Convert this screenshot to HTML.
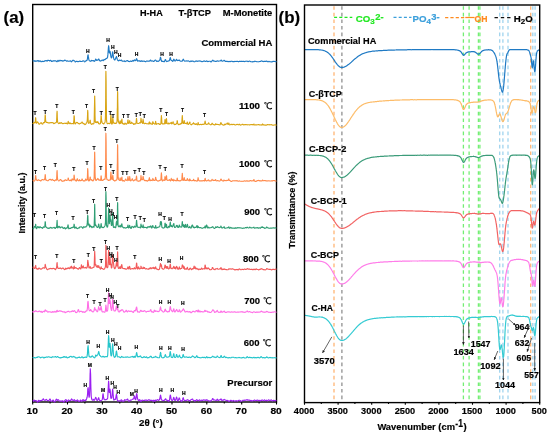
<!DOCTYPE html>
<html lang="en"><head><meta charset="utf-8"><title>XRD and FTIR of calcium phosphate powders</title>
<style>html,body{margin:0;padding:0;background:#fff}body{width:550px;height:437px;overflow:hidden}svg{display:block;font-family:'Liberation Sans', 'Noto Sans CJK SC', sans-serif}text{stroke:#000;stroke-width:.18px}</style></head><body>
<svg width="550" height="437" viewBox="0 0 550 437">
<rect width="550" height="437" fill="#fff"/>
<g id="panel-a">
<rect x="32.7" y="4.5" width="243.8" height="397.5" fill="none" stroke="#000" stroke-width="1.4"/>
<path d="M32.7,60.6 33,60.7 33.4,61 33.7,61 34.1,60.7 34.4,60.7 34.8,61.2 35.1,61.4 35.5,61.2 35.8,60.8 36.2,60.8 36.5,61.2 36.9,61.2 37.2,61.1 37.6,60.8 37.9,60.5 38.3,60.5 38.6,61 39,61.6 39.3,61.3 39.7,60.7 40,60.7 40.4,61.1 40.7,61.5 41.1,61.7 41.4,61.7 41.8,61.4 42.1,61.2 42.5,61.3 42.8,61.5 43.1,61.6 43.5,61.4 43.8,61.5 44.2,61.4 44.5,61.1 44.9,60.7 45.2,60.7 45.6,60.8 45.9,60.5 46.3,60.5 46.6,60.8 47,61.2 47.3,61 47.7,60.4 48,60.3 48.4,60.4 48.7,60.4 49.1,60.6 49.4,60.8 49.8,60.8 50.1,60.5 50.5,60.3 50.8,60.4 51.2,60.9 51.5,61.4 51.9,61.4 52.2,61.2 52.6,61 52.9,61.2 53.2,61.1 53.6,60.8 53.9,60.7 54.3,60.8 54.6,61 55,60.9 55.3,60.7 55.7,60.7 56,60.9 56.4,61.3 56.7,61.6 57.1,61.7 57.4,61.2 57.8,60.5 58.1,60.4 58.5,60.9 58.8,61.3 59.2,61.1 59.5,60.6 59.9,60.3 60.2,60.3 60.6,60.6 60.9,60.9 61.3,60.8 61.6,60.6 62,60.5 62.3,60.8 62.7,61.2 63,61 63.3,60.9 63.7,60.9 64,60.8 64.4,60.5 64.7,60.1 65.1,60.2 65.4,60.3 65.8,60.6 66.1,60.8 66.5,61.2 66.8,61.2 67.2,61 67.5,60.9 67.9,61 68.2,61.2 68.6,61.2 68.9,61.2 69.3,61.2 69.6,61.1 70,60.9 70.3,60.8 70.7,61.1 71,61.5 71.4,61.8 71.7,61.7 72.1,61.2 72.4,60.6 72.8,60.3 73.1,60.2 73.4,60.5 73.8,60.7 74.1,60.7 74.5,60.8 74.8,61.3 75.2,61.9 75.5,61.9 75.9,61.5 76.2,61.4 76.6,61.4 76.9,61.4 77.3,61.4 77.6,61.6 78,61.7 78.3,61.6 78.7,61.5 79,61.4 79.4,61.2 79.7,61 80.1,61.1 80.4,61.4 80.8,61.5 81.1,61.5 81.5,61.5 81.8,61.5 82.2,61.4 82.5,61.1 82.9,60.9 83.2,61 83.5,61 83.9,60.9 84.2,61.3 84.6,61.8 84.9,61.7 85.3,61.4 85.6,61.1 86,60.8 86.3,60.6 86.7,60.6 87,60.3 87.4,58.9 87.6,57.6 87.7,56.3 87.8,55.6 88.1,54.8 88.3,56.2 88.4,56.8 88.6,58.1 88.8,59.3 89.1,60.4 89.5,60.7 89.8,60.9 90.2,61.1 90.5,61.3 90.9,61.2 91.2,60.7 91.6,60.4 91.9,60.5 92.3,60.7 92.6,60.7 93,60.5 93.3,60.5 93.7,60.7 94,61.3 94.3,61.3 94.7,61.2 95,60.6 95.4,59.8 95.7,59.1 96.1,59.5 96.4,60.3 96.8,60.5 97.1,60.1 97.5,60 97.7,59.9 97.8,60.1 98.2,59.9 98.4,59.4 98.5,59.2 98.7,59 98.9,59.2 99,59.4 99.2,59.9 99.6,60.5 99.7,60.6 99.9,60.9 100.3,61.1 100.6,61 101,60.7 101.3,60.7 101.7,60.5 102,60.1 102.4,60 102.7,60.3 103.1,60.7 103.4,60.5 103.8,59.8 104.1,59.4 104.4,59.6 104.8,59.8 105.1,59.6 105.5,59 105.8,58.7 106.2,58.6 106.5,58.5 106.9,58.3 107.2,57.9 107.6,57.1 107.9,54.4 108.1,51.9 108.3,49.2 108.4,47.8 108.6,45.7 108.9,47.6 109,48.8 109.1,51.2 109.3,52.6 109.5,53 109.7,52.3 109.8,51.9 110,51.2 110.3,52.4 110.4,53.1 110.5,54.5 110.7,55.7 111.1,57.3 111.4,57.9 111.6,57.7 111.8,57.4 112.1,55.3 112.4,53.1 112.5,52.5 112.6,51.8 112.8,52.4 112.9,53 113.2,55.2 113.5,57.6 113.7,58.1 113.9,58.9 114.2,59.5 114.5,59.9 114.9,59.9 115.2,59.4 115.4,58.8 115.6,58.6 115.9,57.7 116.2,57 116.3,56.7 116.5,56.5 116.6,56.9 116.7,57.2 117,58.3 117.3,59.4 117.5,59.9 117.7,60.1 118,60.6 118.4,60.9 118.7,60.8 119.1,60.5 119.4,60.1 119.8,60.1 120.1,60.4 120.5,60.6 120.8,60.4 121.2,60.1 121.5,60 121.9,60.6 122.2,61.1 122.6,61.2 122.9,61.2 123.3,61.2 123.6,61.2 124,61 124.3,60.9 124.6,61.3 125,61.6 125.3,61.5 125.7,61.3 126,61.1 126.4,61 126.7,60.8 127.1,60.5 127.4,60.6 127.8,60.8 128.1,61.3 128.5,61.5 128.8,61.4 129.2,61.4 129.5,61.6 129.9,61.5 130.2,61.3 130.6,61 130.9,61 131.3,61.2 131.6,61.4 132,61.4 132.3,61 132.7,60.5 133,60.4 133.4,60.9 133.7,61.1 134.1,60.5 134.4,59.9 134.7,60 135.1,60.4 135.4,60.7 135.6,60.6 135.8,60.5 136.1,59.8 136.4,59 136.5,58.8 136.7,58.6 136.8,59 136.9,59.2 137.2,60.3 137.5,61 137.7,61.2 137.9,60.9 138.2,60.8 138.6,60.8 138.9,60.8 139.3,60.7 139.6,60.9 140,61.3 140.3,61.5 140.7,61.3 141,61 141.4,60.8 141.7,61 142.1,61.3 142.4,61.3 142.8,61.1 143.1,61 143.5,61.2 143.8,61.2 144.2,61.1 144.5,61.2 144.8,61.4 145.2,61.6 145.5,61.7 145.9,61.6 146.2,61.3 146.6,61.1 146.9,60.9 147.3,61 147.6,61.2 148,61.2 148.3,61.2 148.7,61.1 149,61.2 149.4,61.1 149.7,60.9 150.1,60.5 150.4,60.1 150.8,60.3 151.1,60.9 151.5,61.1 151.8,61 152.2,60.9 152.5,61 152.9,61.1 153.2,61.2 153.6,61.4 153.9,61.4 154.3,61.1 154.6,60.6 154.9,60.3 155.3,60.1 155.6,60 156,60.5 156.3,61 156.7,61.4 157,61.5 157.4,61.2 157.7,61.1 158.1,61.3 158.4,61.4 158.8,61.1 159.1,60.7 159.5,60.4 159.8,59.7 160,59 160.2,58.2 160.3,57.8 160.5,57.2 160.8,58.1 160.9,58.5 161,59.3 161.2,60.3 161.6,61.2 161.9,61.5 162.3,61.4 162.6,61.2 163,61.3 163.3,61.5 163.7,61.6 164,61.7 164.4,61.6 164.7,61.1 164.9,60.5 165,60.1 165.1,59.9 165.4,59.5 165.7,59.8 165.7,60 165.9,60.4 166.1,60.8 166.4,61.3 166.8,61.6 167.1,61.5 167.5,61.3 167.8,61.1 168.2,61.1 168.5,60.9 168.9,60.9 169.2,60.8 169.6,60.1 169.8,59.5 169.9,58.6 170,58.2 170.3,57.6 170.5,58.2 170.6,58.6 170.8,59.5 171,60 171.3,60.4 171.7,60.6 172,60.8 172.4,61.1 172.7,61.4 173.1,61 173.2,60.5 173.4,60 173.5,59.8 173.8,59.2 174,59.4 174.1,59.6 174.3,60.1 174.5,60.4 174.8,60.8 175.1,60.8 175.5,60.8 175.8,60.5 176,60.2 176.2,59.8 176.3,59.6 176.5,59.3 176.8,59.6 176.9,59.8 177.1,60.2 177.2,60.4 177.6,60.6 177.9,60.5 178.3,60.4 178.6,60.4 178.8,60.5 179,60.1 179.1,60 179.3,60 179.6,60.3 179.7,60.4 179.9,60.8 180,60.9 180.4,61.1 180.7,61.2 181.1,61.2 181.4,61.2 181.8,61.1 182.1,61.2 182.5,60.8 182.6,60.4 182.8,59.9 182.9,59.7 183.2,59.2 183.4,59.3 183.5,59.6 183.7,59.9 183.9,60.3 184.2,60.8 184.6,61.1 184.9,61 185.2,61 185.6,61 185.9,61.1 186.3,61 186.6,60.9 187,61 187.3,61.1 187.7,60.9 188,60.9 188.4,60.9 188.7,61.1 189.1,61.3 189.4,61.5 189.8,61.7 190.1,61.6 190.5,61.2 190.8,61 191.2,61.1 191.5,61.3 191.9,61.3 192.2,61.1 192.6,61 192.9,61.1 193.3,61.3 193.6,61.5 194,61.7 194.3,61.8 194.7,61.7 195,61.5 195.3,61.2 195.7,61.1 196,61.2 196.4,61.1 196.7,60.9 197.1,61 197.4,61.3 197.8,61.4 198.1,61.3 198.5,61.1 198.8,60.9 199.2,60.9 199.5,61 199.9,61.1 200.2,61.1 200.6,61 200.9,61.1 201.3,61.4 201.6,61.6 202,61.6 202.3,61.6 202.7,61.5 203,61.4 203.4,61.2 203.7,61 204.1,60.9 204.4,61 204.8,61.2 205.1,61.4 205.4,61.5 205.8,61.4 206.1,61.3 206.5,61 206.8,60.9 207.2,61.2 207.5,61.5 207.9,61.6 208.2,61.5 208.6,61.5 208.9,61.3 209.3,61.2 209.6,61.2 210,61.3 210.3,61.4 210.7,61.7 211,61.9 211.4,61.8 211.7,61.4 212.1,60.9 212.4,60.4 212.8,60.1 213.1,60.4 213.5,60.8 213.8,61.1 214.2,61.2 214.5,61.1 214.9,61.1 215.2,61.3 215.6,61.5 215.9,61.5 216.2,61.4 216.6,61.3 216.9,61.1 217.3,60.8 217.6,61 218,61.1 218.3,61.2 218.7,61.1 219,61 219.4,61 219.7,61 220.1,61 220.4,60.8 220.8,60.4 221.1,60 221.5,60.4 221.8,61 222.2,61.2 222.5,61.2 222.9,61 223.2,60.9 223.6,60.7 223.9,60.4 224.3,60.3 224.6,60.7 225,61.2 225.3,61.5 225.7,61.4 226,61.2 226.3,61.3 226.7,61.4 227,61.4 227.4,61.4 227.7,61.5 228.1,61.7 228.4,61.6 228.8,61.5 229.1,61.4 229.5,61.5 229.8,61.6 230.2,61.6 230.5,61.5 230.9,61.3 231.2,61.2 231.6,61.3 231.9,61.4 232.3,61.4 232.6,61.6 233,61.6 233.3,61.5 233.7,61.6 234,61.6 234.4,61.6 234.7,61.4 235.1,61.4 235.4,61.5 235.8,61.5 236.1,61.5 236.4,61.5 236.8,61.3 237.1,61.3 237.5,61.4 237.8,61.5 238.2,61.6 238.5,61.6 238.9,61.6 239.2,61.4 239.6,61.3 239.9,61.4 240.3,61.5 240.6,61.4 241,61.2 241.3,61.3 241.7,61.4 242,61.4 242.4,61.4 242.7,61.5 243.1,61.5 243.4,61.4 243.8,61.3 244.1,61.4 244.5,61.6 244.8,61.6 245.2,61.4 245.5,61.3 245.9,61.2 246.2,61.2 246.5,61.2 246.9,61.1 247.2,61.1 247.6,61.4 247.9,61.6 248.3,61.6 248.6,61.4 249,61.3 249.3,61.2 249.7,61 250,61.2 250.4,61.4 250.7,61.7 251.1,61.7 251.4,61.7 251.8,61.8 252.1,61.9 252.5,61.9 252.8,61.6 253.2,61.5 253.5,61.6 253.9,61.7 254.2,61.6 254.6,61.3 254.9,61.2 255.3,61.3 255.6,61.4 256,61.5 256.3,61.5 256.6,61.6 257,61.7 257.3,61.7 257.7,61.7 258,61.7 258.4,61.8 258.7,61.7 259.1,61.6 259.4,61.5 259.8,61.5 260.1,61.5 260.5,61.4 260.8,61.2 261.2,60.9 261.5,60.9 261.9,61.1 262.2,61.3 262.6,61.4 262.9,61.4 263.3,61.4 263.6,61.6 264,61.5 264.3,61.4 264.7,61.3 265,61.3 265.4,61.4 265.7,61.4 266.1,61.4 266.4,61.3 266.7,61.1 267.1,61.3 267.4,61.6 267.8,61.7 268.1,61.8 268.5,61.7 268.8,61.4 269.2,61.4 269.5,61.6 269.9,61.8 270.2,61.8 270.6,61.7 270.9,61.8 271.3,61.9 271.6,62 272,61.9 272.3,61.7 272.7,61.5 273,61.4 273.4,61.3 273.7,61.4 274.1,61.5 274.4,61.5 274.8,61.4 275.1,61.4 275.5,61.6 275.8,61.7 276.2,61.6 276.5,61.5" fill="none" stroke="#1f7ac4" stroke-width="1.15" stroke-linejoin="round"/>
<path d="M32.7,123 33,123.5 33.4,123.2 33.7,122.5 34.1,122.5 34.4,122.8 34.8,122.9 35.1,122.3 35.4,120.4 35.5,119.2 35.5,118.7 35.7,117.7 35.8,119 35.8,119.5 35.9,120.7 36.2,123 36.5,123.2 36.9,122.6 37.2,122.1 37.6,121.9 37.9,122.3 38.3,123 38.6,123.6 39,124.1 39.3,124.2 39.7,124 40,123.6 40.4,123.2 40.7,122.9 41.1,122.7 41.4,122.9 41.8,123.6 42.1,124 42.5,124.1 42.8,123.9 43.1,123.3 43.5,122.6 43.8,122.5 44.2,122.7 44.5,122.5 44.7,122 44.9,120.1 45,118.8 45.1,116.1 45.2,114.8 45.4,116 45.5,118.5 45.6,119.9 45.8,121.4 45.9,121.8 46.3,122.3 46.6,122.5 47,122.4 47.3,122.4 47.7,122.6 48,122.9 48.4,122.9 48.7,122.8 49.1,123.1 49.4,122.9 49.8,122.7 50.1,122.6 50.5,122.7 50.8,122.8 51.2,122.6 51.5,122.5 51.9,122.6 52.2,122.7 52.6,122.6 52.9,122.5 53.2,122.9 53.6,123.5 53.9,123.6 54.3,123.5 54.6,123.2 55,123.1 55.3,122.9 55.7,122.8 56,122.7 56.4,122.1 56.6,121.4 56.7,119 56.8,116.9 56.9,113.3 57.1,111.2 57.2,113.3 57.3,117.3 57.4,119.4 57.6,121.8 57.8,122.5 58.1,122.9 58.5,123.3 58.8,123.6 59.2,123.4 59.5,122.8 59.9,122.9 60.2,123.2 60.6,123.2 60.9,122.7 61.3,122.6 61.6,122.9 62,123.3 62.3,123.5 62.7,123.6 63,123.7 63.3,123.5 63.7,123.5 64,123.4 64.4,123.3 64.7,123.2 65.1,123.3 65.4,123.5 65.8,123.4 66.1,123 66.5,123.2 66.8,123.6 67.2,123.9 67.5,123.8 67.7,123.7 67.9,123.1 68,122.7 68.1,121.8 68.2,121.4 68.4,121.8 68.5,122.4 68.6,122.8 68.7,123.2 68.9,123.3 69.3,123.5 69.6,123.6 70,122.7 70.3,123.5 70.7,123.6 71,123.7 71.4,123.7 71.7,123.6 72.1,123.5 72.4,123.5 72.8,123.6 73.1,123.8 73.4,123.6 73.5,123.6 73.6,122.5 73.8,120.9 73.9,120.1 73.9,119.6 74,117.1 74,116.6 74.1,115.7 74.2,116.2 74.3,116.7 74.4,119.1 74.4,119.5 74.5,120.5 74.6,121.9 74.7,122.2 74.8,123.4 75,123.7 75.2,124 75.5,123.7 75.9,123.2 76.2,122.7 76.6,122.5 76.9,122.4 77.3,122.5 77.6,122.7 78,123.2 78.3,123.5 78.7,123.6 79,123.7 79.4,123.9 79.7,123.7 80.1,123.4 80.4,123.3 80.8,123.4 81.1,123.1 81.5,122.6 81.8,122.2 82.2,122 82.5,122.9 82.9,123.2 83.2,123.6 83.5,123.4 83.9,123.6 84.2,124 84.6,124.3 84.9,124.6 85.3,124.5 85.6,124.2 86,123.8 86.3,123.1 86.7,122.5 87,121.7 87.2,121 87.4,118.5 87.5,116.2 87.6,112.7 87.7,110.4 87.9,112.7 88,117.3 88.1,119.6 88.3,122.2 88.4,123.2 88.8,123.3 89.1,123 89.5,122.7 89.6,122.6 89.8,122 89.9,121.4 90,120.7 90.2,120.2 90.3,120.7 90.4,122 90.5,122.6 90.7,123.3 90.9,123.7 91.2,124 91.6,124.3 91.9,124.3 92.3,123.9 92.6,123.6 93,123.7 93.3,123.8 93.7,123.8 94,123 94.2,121.3 94.3,115.3 94.4,110.2 94.6,100.9 94.7,96 94.8,100.9 95,109.8 95,114.9 95.2,120.6 95.4,122.2 95.7,122.5 96.1,122.2 96.4,122.6 96.8,122 97.1,121.5 97.5,122.5 97.8,122.2 98.2,122 98.5,123.6 98.9,123.8 99.2,123.8 99.6,123.9 99.9,123.9 100.3,123.5 100.6,122.5 100.9,119.3 101,117.7 101,116.9 101.1,115.5 101.3,116.3 101.3,116.9 101.4,118.3 101.7,121.2 102,122.5 102.4,123 102.7,123.3 103.1,123.6 103.4,123.8 103.8,123.8 104.1,123.5 104.4,123 104.8,122.5 105.1,121.9 105.4,118.2 105.5,115.2 105.7,97.6 105.8,80.7 105.8,77.5 105.9,71.3 106.1,80.6 106.2,95.3 106.2,97.5 106.5,118.1 106.5,119.9 106.9,122.7 107.2,123.4 107.6,123.7 107.9,123.6 108.3,123.4 108.6,123.3 109,123.5 109.3,123.6 109.7,123.5 110,123.5 110.4,122.5 110.6,119 110.7,117 110.8,116 110.9,114.7 111,116.2 111.1,117.2 111.2,119.1 111.4,123 111.8,124.1 112.1,123.9 112.3,123.6 112.5,122 112.5,121.1 112.7,118.8 112.8,117.8 112.9,118.8 113.1,120.1 113.2,121.1 113.3,122.1 113.5,122.7 113.9,123 114.2,123.4 114.5,123.2 114.9,123 115.2,123.3 115.6,123.5 115.9,123.4 116.3,123.2 116.6,122.9 117,121.7 117.1,120.2 117.3,109.1 117.4,107.8 117.5,97.4 117.6,91.6 117.7,93.3 117.7,97.2 117.9,107.1 118,116.3 118.1,119.4 118.4,121.5 118.7,122.4 119.1,123.1 119.4,123.6 119.6,123.6 119.8,123 119.9,122.4 120,121.3 120.1,120.8 120.3,121.3 120.4,122.2 120.5,122.8 120.6,123.4 120.8,123.3 121.2,122.9 121.3,122.5 121.5,121.7 121.6,120.9 121.7,119.9 121.9,119.1 122,119.9 122.1,121.7 122.2,122.5 122.4,123.3 122.6,123.6 122.9,123.6 123.3,123.6 123.6,124 124,124.5 124.3,124.3 124.6,123.7 125,123.1 125.3,123.2 125.7,123.8 126,124.2 126.4,124.2 126.7,123.8 127.1,123.5 127.4,123.1 127.7,121.8 127.8,120.8 127.8,120.4 128,119.9 128.1,120.6 128.1,121 128.2,122 128.5,123.4 128.8,123.2 129.2,122.9 129.4,122.1 129.5,121.4 129.6,121.1 129.7,120.5 129.8,121.3 129.9,121.6 130,122.3 130.2,123.5 130.6,123.5 130.9,123.5 131.3,123.1 131.6,122.2 132,122.8 132.3,123.2 132.7,123.1 133,123.4 133.4,123.9 133.7,124.3 134.1,124.3 134.4,124 134.7,123.7 135.1,123.7 135.4,123.8 135.8,123.8 136,123.4 136.1,122.2 136.2,121.2 136.4,119.3 136.5,118.3 136.6,119.2 136.8,120.7 136.8,121.6 137,122.7 137.2,123 137.5,123.2 137.9,123.4 138.2,123.5 138.6,123.5 138.9,123.4 139.3,123.1 139.6,122.8 140,122.5 140.3,123 140.5,122.9 140.7,122 140.8,121.1 140.9,119.1 141,118.2 141.1,119.1 141.3,120.4 141.4,121.3 141.5,122.1 141.7,122.1 142.1,122.1 142.4,123.1 142.6,123.3 142.8,122.3 142.8,121.5 143,119.8 143.1,119.1 143.2,119.9 143.4,121.1 143.5,121.9 143.6,122.8 143.8,123.3 144.2,123.7 144.5,123.7 144.8,123.5 145.2,123.3 145.5,123.3 145.9,123.4 146.2,123.6 146.6,123.7 146.9,123.7 147.3,123.7 147.6,123.8 148,123.9 148.3,123.8 148.7,123.9 148.9,123.8 149,123.4 149.1,123 149.2,122.3 149.4,121.9 149.5,122.3 149.6,123.1 149.7,123.4 149.9,123.9 150.1,123.9 150.4,123.4 150.8,123 151.1,123.6 151.5,123.9 151.8,124.2 152.2,124.4 152.3,124.1 152.5,123.7 152.6,123.3 152.7,122.1 152.9,121.7 153,122.1 153.1,122.4 153.2,122.8 153.4,123.3 153.6,123.4 153.9,123.6 154.3,123.8 154.6,124 154.9,124.1 155.1,123.9 155.3,123.4 155.4,122.8 155.5,122 155.6,121.4 155.8,122 155.9,123 156,123.6 156.2,124.2 156.3,124.3 156.7,124 157,123.8 157.4,123.7 157.7,123.7 158.1,123.7 158.4,123.6 158.8,123.6 159.1,124 159.5,124.4 159.8,124.4 160.2,124.2 160.5,124.2 160.9,123.6 161.1,120 161.2,118.2 161.3,117.3 161.4,115.5 161.5,117 161.6,117.8 161.7,119.7 161.9,122.8 162.3,123.7 162.6,124 163,123.9 163.3,123.8 163.7,123.8 164,123.8 164.4,123.8 164.5,123.5 164.7,122.5 164.8,121.7 164.9,120.4 165,119.6 165.2,120.4 165.3,121.7 165.4,122.5 165.6,123.3 165.7,123.6 165.9,123.4 166.1,122.3 166.2,121.4 166.3,119.5 166.4,118.6 166.6,119.5 166.7,121.1 166.8,122.1 167,123.2 167.1,123.5 167.5,123.7 167.8,123.8 168.2,123.2 168.5,123.1 168.9,124 169.2,123.9 169.6,123.6 169.9,123.3 170.3,123 170.6,123.1 170.8,123.2 171,123.4 171.1,123.1 171.2,122.6 171.3,122.3 171.4,122.6 171.6,123.3 171.7,123.7 171.8,123.9 172,123.7 172.4,123 172.5,123.3 172.7,123.1 172.8,122.8 172.9,122.2 173.1,121.8 173.2,122.1 173.3,122.8 173.4,123 173.6,123 173.8,123.3 174.1,124.3 174.5,124.5 174.8,124.6 175.1,124.5 175.5,124.5 175.8,124.3 176.2,123.8 176.5,123.5 176.7,123.4 176.9,122.7 177,122.1 177.1,121.2 177.2,120.7 177.4,121.2 177.5,122.3 177.6,122.9 177.8,123.5 177.9,123.9 178.3,124.4 178.6,124.7 179,124.6 179.3,124.4 179.7,124.3 180,124.1 180.4,124.1 180.7,123.6 181.1,123.3 181.4,123.7 181.8,123 182,119.8 182.1,118 182.2,117 182.3,115.6 182.4,117.1 182.5,117.9 182.5,119.8 182.8,122.8 183.2,123.4 183.5,123.5 183.7,123.4 183.9,122.7 183.9,122.2 184.1,121.1 184.2,120.5 184.3,121.1 184.5,122 184.6,122.6 184.7,123.2 184.9,123.4 185.2,123.5 185.6,123.5 185.9,123.4 186.3,123.6 186.6,123.8 186.8,123.7 187,123.4 187.1,123 187.2,122.4 187.3,122 187.5,122.4 187.6,123.1 187.7,123.5 187.9,124 188,124.3 188.4,124.3 188.7,123.9 189.1,123.6 189.3,123.6 189.4,123.3 189.5,123 189.6,122.4 189.8,122 189.9,122.4 190,123 190.1,123.4 190.3,123.8 190.5,124.1 190.8,124.4 191.2,124.7 191.5,124.8 191.9,124.5 192.2,124 192.6,123.7 192.9,123.7 193.1,123.6 193.3,123.5 193.3,123.2 193.5,123 193.6,122.7 193.7,123 193.9,123.5 194,123.8 194.1,124 194.3,123.9 194.7,123.8 195,124.2 195.3,124.4 195.7,124.4 196,123.8 196.4,123.7 196.7,124.2 197.1,124.7 197.4,124.8 197.6,124.6 197.8,124.1 197.9,123.7 198,123 198.1,122.6 198.3,123 198.4,123.6 198.5,124 198.7,124.4 198.8,124.6 199.2,124.7 199.5,124.6 199.9,124.5 200.2,124.5 200.6,124.4 200.9,124.4 201.3,124.6 201.6,124.6 202,124.5 202.3,124.2 202.7,124.2 203,124.4 203.4,124.4 203.7,124.3 204.1,124.1 204.4,124 204.6,123.9 204.8,123.2 204.8,122.7 205,121.6 205.1,121 205.2,121.6 205.4,122.6 205.4,123.2 205.6,123.8 205.8,124 206.1,124.2 206.5,124.4 206.8,124.3 207.2,124.2 207.5,124.1 207.9,124.1 208.2,123.8 208.6,122.9 208.9,123.4 209.3,123.8 209.6,124.1 210,124.4 210.3,124.6 210.7,124.8 211,124.8 211.4,124.6 211.7,124 212.1,123.2 212.4,123.7 212.8,124 213.1,124.4 213.5,124.6 213.8,124.6 214.2,124.7 214.5,124.9 214.9,125 215.2,124.6 215.6,123.8 215.9,124.5 216.2,124.5 216.6,124.3 216.9,124.4 217.3,124.4 217.6,124.5 218,124.5 218.3,124.5 218.7,124.6 219,124.7 219.4,124.8 219.7,124.9 220.1,124.7 220.4,124.1 220.8,122.6 221.1,122.7 221.5,124 221.8,124.3 222.2,124.4 222.5,124.7 222.9,124.9 223.2,125 223.6,125.1 223.9,125.1 224.3,124.9 224.6,124.2 225,124.7 225.3,124.5 225.7,124.2 226,124 226.3,124 226.6,124 226.7,124 227,123.6 227,123.4 227.2,123 227.4,123 227.4,123 227.5,123.3 227.7,123.9 227.7,124 228.1,124.4 228.3,124.2 228.4,124 228.5,123.7 228.7,123.3 228.8,123 228.9,123.3 229,124 229.1,124.3 229.3,124.6 229.5,124.8 229.8,124.7 230.2,124.7 230.5,124.6 230.9,124.4 231.2,124.3 231.6,124.3 231.9,124.6 232.3,124.6 232.6,124.5 233,124.3 233.3,124.4 233.7,124.5 234,124.4 234.4,124.5 234.7,124.7 235.1,124.9 235.4,125 235.8,124.9 236.1,124.8 236.4,124.6 236.8,124.4 237.1,124.4 237.5,124.4 237.8,124.6 238.2,124.8 238.5,124.7 238.9,124.4 239.2,124.2 239.6,124.5 239.9,124.8 240.3,125.1 240.6,125.1 241,124.9 241.3,124.8 241.7,124.7 242,124.5 242.4,124.2 242.7,124.2 243.1,124.4 243.4,124.8 243.8,124.9 244.1,124.7 244.5,124.6 244.8,124.5 245.2,124.6 245.5,124.6 245.9,124.6 246.2,124.7 246.5,124.7 246.9,124.6 247.2,124.7 247.6,124.8 247.9,124.8 248.3,124.7 248.6,124.7 249,124.8 249.3,124.8 249.7,124.9 250,124.8 250.4,124.7 250.7,124.6 251.1,124.6 251.4,124.6 251.8,124.5 252.1,124.5 252.5,124.6 252.8,124.8 253.2,124.8 253.5,124.6 253.9,124 254.2,124.7 254.6,125 254.9,125 255.3,124.9 255.6,124.9 256,124.9 256.3,125 256.6,124.9 257,124.7 257.3,124.7 257.7,124.8 258,124.7 258.4,124.5 258.7,124.6 259.1,124.8 259.4,124.9 259.8,124.9 260.1,124.9 260.5,125 260.8,125 261.2,124.9 261.5,125 261.9,125.1 262.2,124.7 262.6,123.9 262.9,124.5 263.3,124.9 263.6,124.8 264,124.8 264.3,124.9 264.7,125 265,125.2 265.4,125.1 265.7,125.1 266.1,125 266.4,125.1 266.7,125 267.1,124.7 267.4,124.6 267.8,124.7 268.1,124.6 268.5,124.7 268.8,124.8 269.2,124.9 269.5,124.8 269.9,124.6 270.2,124.7 270.6,124.8 270.9,124.7 271.3,124.6 271.6,124.7 272,124.9 272.3,125 272.7,125.2 273,125.2 273.4,125.2 273.7,125.1 274.1,125 274.4,125 274.8,124.9 275.1,124.8 275.5,124.8 275.8,124.9 276.2,125.1 276.5,125.2" fill="none" stroke="#d9a514" stroke-width="1.15" stroke-linejoin="round"/>
<path d="M32.7,180.6 33,180.4 33.4,180.5 33.7,181 34.1,181.2 34.4,180.9 34.8,180.6 35.1,180 35.4,178 35.5,176.9 35.5,176.4 35.7,175.6 35.8,175.9 35.8,176.5 35.9,177.5 36.2,179.3 36.5,179.9 36.9,180.3 37.2,180.6 37.6,180.4 37.9,180.1 38.3,179.8 38.6,179.9 39,180.2 39.3,180.5 39.7,180.5 40,180.4 40.4,180.7 40.7,180.9 41.1,180.7 41.4,180.2 41.8,179.8 42.1,179.7 42.5,179.5 42.8,179.6 43.1,179.8 43.5,180 43.8,180 44.2,179.6 44.5,179.5 44.7,179.1 44.9,178.3 45,177.1 45.1,175.7 45.2,174.6 45.4,175.7 45.5,177.8 45.6,179 45.8,179.8 45.9,180.2 46.3,180 46.6,180.2 47,180.5 47.3,180.6 47.7,180.7 48,180.7 48.4,180.5 48.7,180.1 49.1,179.8 49.4,179.6 49.8,179.4 50.1,179.3 50.5,179.3 50.8,179.8 51.2,180.2 51.5,180.1 51.9,179.6 52.2,179.3 52.6,179.6 52.9,180.1 53.2,180.3 53.6,180.3 53.9,180.3 54.3,180.7 54.6,180.9 55,180.4 55.3,180 55.7,179.9 56,180.2 56.4,180.2 56.6,179.7 56.7,177.6 56.8,175.6 56.9,172.3 57.1,170.5 57.2,172.3 57.3,175.2 57.4,177.1 57.6,179.3 57.8,179.7 58.1,180.2 58.5,180.8 58.8,180.9 59.2,180.7 59.5,180.4 59.9,179.9 60.2,179.7 60.6,179.5 60.9,179.8 61.3,180.4 61.6,180.8 62,181.1 62.3,181.2 62.7,181.3 63,181.1 63.3,180.8 63.7,181 64,181.1 64.4,180.8 64.7,180.3 65.1,179.8 65.4,179.8 65.8,180 66.1,180.4 66.5,180.5 66.8,180.3 67.2,180.2 67.5,180.1 67.7,180 67.9,179.5 68,179.1 68.1,178.3 68.2,178 68.4,178.3 68.5,179.1 68.6,179.4 68.7,180 68.9,180.1 69.3,180.4 69.6,180.6 70,180.6 70.3,180.3 70.7,180 71,180.4 71.4,180.8 71.7,180.2 72.1,178.9 72.4,179.1 72.8,179.8 73.1,180.1 73.4,179.6 73.6,179.6 73.8,178.8 73.9,177.8 74,175.9 74.1,175 74.3,176 74.4,177.6 74.5,178.6 74.7,179.7 74.8,180.1 75.2,180.1 75.5,180.3 75.9,180.8 76.2,181.1 76.6,180.6 76.9,179.6 77.3,178.7 77.6,179.9 78,180.5 78.3,180.6 78.7,180.8 79,180.7 79.4,179.7 79.7,180 80.1,180.6 80.4,180.6 80.8,180.6 81.1,180.6 81.3,180.5 81.5,180.4 81.7,179.7 81.8,179.5 81.9,179.2 82.1,179 82.2,179 82.3,179.3 82.5,179.9 82.5,180 82.9,180.5 82.9,180.5 83.2,180.7 83.5,180.9 83.9,180.9 84.2,180.7 84.6,180.8 84.9,180.9 85.3,180.3 85.6,179 86,179.5 86.3,180 86.7,180.3 87,180.2 87.2,179.5 87.4,176.9 87.5,174.8 87.6,170.7 87.7,168.6 87.9,170.7 88,174.5 88.1,176.6 88.3,179 88.4,180.2 88.8,180.9 89.1,180.9 89.5,180.6 89.6,179.9 89.8,179.3 89.9,178.8 90,177.6 90.2,177 90.3,177.3 90.4,178.4 90.5,178.8 90.7,179.1 90.9,179.6 91.2,180.2 91.6,179.9 91.9,179.9 92.3,180.3 92.6,180.8 93,180.8 93.3,180.4 93.7,180 93.8,179.8 94,179 94.1,177.9 94.2,176.6 94.2,175.1 94.3,170.5 94.4,169 94.4,165.4 94.5,160.1 94.6,156.6 94.6,152.5 94.7,152 94.8,157.3 94.9,164.1 95,166.3 95,171.6 95.2,177.4 95.4,179 95.7,180.1 96.1,180.5 96.4,180.3 96.8,179.6 97.1,179.3 97.5,179 97.8,178.4 98.2,179.1 98.5,179.8 98.9,180.1 99.2,180 99.6,179.9 99.9,180.2 100.3,180.5 100.6,180.1 100.9,178.1 101,177 101,176.5 101.1,175.8 101.3,176.8 101.3,177.4 101.4,178.6 101.7,180.4 102,180.5 102.4,180.4 102.7,180.4 103.1,180.2 103.4,179.8 103.8,179.4 104.1,179.2 104.4,179.1 104.8,179.3 105.1,179 105.4,175.6 105.5,172.8 105.7,157.1 105.8,141.7 105.8,138.8 105.9,133.2 106.1,141.6 106.2,155 106.2,157 106.5,175.4 106.5,177.1 106.9,179.3 107.2,179.7 107.6,179.8 107.9,179.9 108.3,180.3 108.6,180.5 109,180.3 109.3,180.1 109.7,180 110,180.2 110.4,179.8 110.6,176.5 110.7,174.7 110.8,173.8 110.9,172.1 111,173.3 111.1,174 111.2,175.6 111.4,178.1 111.8,179.2 112.1,179.4 112.3,179.2 112.5,178 112.5,177.1 112.7,176 112.8,175.2 112.9,176 113.1,178 113.2,178.9 113.3,179.9 113.5,180.3 113.9,180.4 114.2,180.5 114.5,180.9 114.9,181 115.2,180.7 115.6,180.5 115.9,180.2 116.3,180.1 116.6,180.1 117,179.1 117.1,177.4 117.3,164.8 117.4,163.2 117.5,151 117.6,144.7 117.7,146.8 117.7,151.3 117.9,162.9 118,173.6 118.1,177.2 118.4,179.1 118.7,179.5 119.1,180 119.4,180.4 119.6,180.4 119.8,179.9 119.9,179.4 120,178.4 120.1,177.9 120.3,178.4 120.4,179.3 120.5,179.8 120.6,180.4 120.8,180.3 121.2,180.2 121.3,180.2 121.5,179.4 121.6,178.7 121.7,177.8 121.9,177.1 122,177.8 122.1,179.2 122.2,179.9 122.4,180.7 122.6,180.9 122.9,180.7 123.3,180.5 123.6,180.6 124,181 124.3,181.2 124.6,181 125,180.5 125.3,179.8 125.7,179 126,179.6 126.4,180.1 126.7,180.4 127.1,180.6 127.4,180.2 127.7,178.6 127.8,177.7 127.8,177.3 128,176.6 128.1,177.2 128.1,177.6 128.2,178.5 128.5,180 128.8,180.4 129.2,180.3 129.4,178.8 129.5,177.9 129.6,177.4 129.7,176.5 129.8,177.2 129.9,177.6 130,178.6 130.2,180.4 130.6,180.8 130.9,180.7 131.3,180.1 131.6,180 132,179.8 132.3,178.7 132.7,179.8 133,180.4 133.4,180.8 133.7,180.9 134.1,180.6 134.4,180.2 134.7,179.9 135.1,179.9 135.4,179.9 135.8,179.9 136,179.6 136.1,179 136.2,178.1 136.4,176.8 136.5,176 136.6,176.8 136.8,178.6 136.8,179.5 137,180.7 137.2,181 137.5,181 137.9,181 138.2,181 138.6,181.3 138.9,181.2 139.3,180.9 139.6,180.8 140,180.8 140.3,180.8 140.5,180.2 140.7,179.2 140.8,178.3 140.9,176.5 141,175.6 141.1,176.5 141.3,177.8 141.4,178.7 141.5,179.7 141.7,179.6 142.1,179.7 142.4,179.7 142.6,179.5 142.8,179 142.8,178.3 143,177.2 143.1,176.4 143.2,176.8 143.4,177.8 143.5,178.3 143.6,179.1 143.8,179.5 144.2,180.2 144.5,180.6 144.8,180.4 145.2,180.4 145.5,180.6 145.9,180.9 146.2,180.7 146.6,180.5 146.9,180.7 147.3,181 147.6,181.1 148,180.7 148.3,180.4 148.7,180.4 148.9,180.4 149,179.8 149.1,179.2 149.2,178.4 149.4,177.7 149.5,178 149.6,178.9 149.7,179.5 149.9,180.3 150.1,180.7 150.4,180.6 150.8,180.1 151.1,180.3 151.5,180.2 151.8,180.4 152.2,180.6 152.3,180.3 152.5,179.9 152.6,179.6 152.7,178.8 152.9,178.4 153,178.8 153.1,179.3 153.2,179.6 153.4,180 153.6,180.3 153.9,180.5 154.3,180.3 154.6,180.3 154.9,180.5 155.1,180.2 155.3,179.8 155.4,179.1 155.5,177.8 155.6,177.3 155.8,177.8 155.9,178.5 156,179.1 156.2,179.8 156.3,180 156.7,180.4 157,180.6 157.4,180.8 157.7,181 158.1,181.1 158.4,180.9 158.8,180.9 159.1,180.8 159.5,180.5 159.8,180.3 160.2,180.2 160.5,180.3 160.9,179.7 161.1,176.5 161.2,174.8 161.3,174 161.4,172.8 161.5,174.1 161.6,174.9 161.7,176.6 161.9,179.8 162.3,180.9 162.6,180.9 163,180.1 163.3,180.3 163.7,180.1 164,180 164.4,180.4 164.5,180.3 164.7,179.4 164.8,178.8 164.9,177.4 165,176.7 165.2,177.4 165.3,178.4 165.4,179.1 165.6,179.9 165.7,180 165.9,179.8 166.1,178.8 166.2,178 166.3,176.5 166.4,175.7 166.6,176.5 166.7,177.9 166.8,178.8 167,179.7 167.1,179.9 167.5,180.2 167.8,180.4 168.2,180.3 168.5,180.2 168.9,180.3 169.2,180.1 169.6,179.7 169.9,180.2 170.3,180.7 170.6,180.9 170.8,180.7 171,180.1 171.1,179.8 171.2,178.7 171.3,178.4 171.4,178.7 171.6,179 171.7,179.4 171.8,179.9 172,180 172.4,180.4 172.5,180.3 172.7,180.4 172.8,180 172.9,179.7 173.1,179.3 173.2,179.6 173.3,180.1 173.4,180.5 173.6,180.9 173.8,180.6 174.1,180.2 174.5,180.1 174.8,180.3 175.1,180.5 175.5,180.6 175.8,180.6 176.2,180.7 176.5,180.8 176.7,180.7 176.9,180.1 177,179.6 177.1,178.6 177.2,178.1 177.4,178.6 177.5,179.3 177.6,179.9 177.8,180.5 177.9,180.6 178.3,180.7 178.6,180.6 179,180.6 179.3,180.7 179.7,180.9 180,180.8 180.4,180.8 180.7,180.6 181.1,180.3 181.4,180.2 181.8,179.8 182,177.2 182.1,175.5 182.2,174.7 182.3,173.4 182.4,174.7 182.5,175.5 182.5,177.2 182.8,180.1 183.2,180.5 183.5,180.2 183.7,180 183.9,179.5 183.9,178.9 184.1,178 184.2,177.5 184.3,178 184.5,179.1 184.6,179.6 184.7,180.2 184.9,180.4 185.2,180.3 185.6,180.4 185.9,180.5 186.3,180.5 186.6,180.3 186.8,180.2 187,179.8 187.1,179.4 187.2,178.9 187.3,178.6 187.5,178.9 187.6,179.5 187.7,179.8 187.9,180.2 188,180.1 188.4,180.1 188.7,180.5 189.1,180.8 189.3,180.8 189.4,180.4 189.5,180 189.6,179.3 189.8,178.9 189.9,179.3 190,179.6 190.1,180 190.3,180.4 190.5,180.4 190.8,180.5 191.2,180.7 191.5,180.7 191.9,180.7 192.2,180.6 192.6,180.5 192.9,180.5 193.3,180.1 193.6,179.3 194,180.4 194.3,180.8 194.7,180.7 195,180.5 195.3,180.5 195.7,180.6 196,180.7 196.4,180.9 196.7,181.1 197.1,181.1 197.4,180.7 197.6,180.2 197.8,179.7 197.9,179.2 198,178.2 198.1,177.7 198.3,178 198.4,178.9 198.5,179.4 198.7,180.1 198.8,180.5 199.2,180.8 199.5,180.8 199.9,180.8 200.2,180.8 200.6,180.9 200.9,180.9 201.3,180.7 201.6,180.8 202,180.9 202.3,180.9 202.7,180.7 203,180.6 203.4,180.5 203.7,180.6 204.1,180.8 204.4,181 204.6,181 204.8,180.4 204.8,179.9 205,178.8 205.1,178.3 205.2,178.8 205.4,179.4 205.4,179.9 205.6,180.5 205.8,180.5 206.1,180.7 206.5,181 206.8,181 207.2,180.6 207.5,180.3 207.9,180.2 208.2,180.2 208.6,179.9 208.9,180.8 209.3,181 209.6,180.9 210,180.8 210.3,180.9 210.7,180.9 211,180.9 211.4,180.8 211.7,180.3 212.1,179.3 212.4,179.6 212.8,179.9 213.1,180.4 213.5,180.6 213.8,180.4 214.2,180.3 214.5,180.4 214.9,180.5 215.2,180.3 215.6,179.6 215.9,180.2 216.2,180.7 216.6,180.8 216.9,180.8 217.3,180.6 217.6,180.6 218,180.7 218.3,180.8 218.7,180.9 219,181 219.4,181.1 219.7,180.9 220.1,180.7 220.4,180.2 220.8,179.1 221.1,179.1 221.5,179.8 221.8,180.4 222.2,180.6 222.5,180.7 222.9,180.9 223.2,181.1 223.6,180.9 223.9,180 224.3,180.4 224.6,180.6 225,180.5 225.3,180.5 225.7,180.6 226,180.6 226.3,180.7 226.7,180.5 227,180.3 227.4,180.3 227.7,180.4 228.1,180.5 228.4,180.1 228.8,178.9 229.1,179.8 229.5,180.4 229.8,180.5 230.2,180.7 230.5,181 230.9,181.3 231.2,181.4 231.6,181.4 231.9,181.2 232.3,181 232.6,180.8 233,180.7 233.3,180.7 233.7,180.8 234,180.8 234.4,180.8 234.7,180.7 235.1,180.8 235.4,180.8 235.8,180.7 236.1,180.6 236.4,180.7 236.8,180.9 237.1,180.8 237.5,180.8 237.8,181 238.2,181.2 238.5,181.2 238.9,181 239.2,180.9 239.6,181 239.9,181.1 240.3,181.2 240.6,181.2 241,181.2 241.3,181.2 241.7,181.3 242,181.4 242.4,181.3 242.7,181.2 243.1,181.2 243.4,181.3 243.8,181.2 244.1,180.9 244.5,180.9 244.8,181 245.2,181 245.5,181.1 245.9,181 246.2,180.9 246.5,180.9 246.9,181 247.2,181.2 247.6,181 247.9,180.9 248.3,181 248.6,181.1 249,181.2 249.3,181.1 249.7,180.8 250,180.7 250.4,180.6 250.7,180.6 251.1,180.8 251.4,181 251.8,181 252.1,180.8 252.5,180.7 252.8,180.8 253.2,181 253.5,180.5 253.9,179.6 254.2,180.3 254.6,181 254.9,181.3 255.3,181.4 255.6,181.4 256,181.4 256.3,181.3 256.6,181 257,180.7 257.3,180.6 257.7,180.7 258,180.6 258.4,180.5 258.7,180.4 259.1,180.5 259.4,180.8 259.8,181 260.1,180.9 260.5,180.7 260.8,180.8 261.2,180.9 261.5,180.9 261.9,180.9 262.2,180.7 262.6,180 262.9,180.5 263.3,180.6 263.6,180.7 264,180.7 264.3,180.6 264.7,180.5 265,180.5 265.4,180.6 265.7,180.7 266.1,180.9 266.4,181 266.7,180.9 267.1,180.8 267.4,180.9 267.8,181 268.1,180.9 268.5,180.7 268.8,180.7 269.2,180.8 269.5,180.9 269.9,181 270.2,181 270.6,181 270.9,181 271.3,180.8 271.6,180.8 272,180.9 272.3,181 272.7,180.9 273,180.6 273.4,180.5 273.7,180.5 274.1,180.6 274.4,180.6 274.8,180.6 275.1,180.8 275.5,181 275.8,181.1 276.2,181 276.5,180.9" fill="none" stroke="#ff8a4c" stroke-width="1.15" stroke-linejoin="round"/>
<path d="M32.7,228.6 33,228.6 33.4,228.6 33.7,228.2 34.1,227.3 34.4,226.6 34.8,226.8 35.1,227.1 35.2,227 35.4,226.1 35.5,225.4 35.5,224.9 35.7,224.3 35.8,225.2 35.8,225.7 35.9,226.4 36.1,228.1 36.2,228.2 36.5,228.7 36.9,228.3 37.2,227.5 37.6,226.7 37.9,226.5 38.3,226.9 38.6,227.6 39,227.9 39.3,227.7 39.7,227.1 40,226.7 40.4,226.9 40.7,227.4 41.1,227.7 41.4,227.5 41.8,227.5 42.1,227.9 42.5,228.3 42.8,228.1 43.1,227.4 43.5,226.9 43.8,227 44.2,227.3 44.5,227.1 44.8,226.4 44.9,225.6 45,224.5 45.1,222.5 45.2,221.7 45.4,222.5 45.5,224.2 45.6,225.4 45.7,226.2 45.9,226.9 46.3,227.4 46.6,227.6 47,227.8 47.3,228.1 47.7,228.1 48,227.9 48.4,228.2 48.7,228.4 49.1,228.4 49.4,228 49.8,227.8 50.1,227.8 50.5,227.5 50.8,227.4 51.2,227.6 51.5,228 51.9,228.2 52.2,228 52.6,228 52.9,227.8 53.2,227.7 53.6,227.6 53.9,227.4 54.3,227.4 54.6,227.8 55,228.5 55.3,228.5 55.7,227.8 56,227.4 56.4,227.4 56.6,227.4 56.7,226.1 56.8,224.3 57,221.8 57.1,220.4 57.2,221.8 57.3,224.4 57.4,226.2 57.6,227.5 57.8,227.9 58.1,227.6 58.5,226.9 58.8,226.4 59.2,226.4 59.5,226.9 59.9,227.6 60.2,227.9 60.6,227.5 60.9,227 61.3,227 61.6,227.1 62,226.9 62.3,227.1 62.7,227.6 63,228.1 63.3,228.4 63.7,228.3 64,228 64.4,227.6 64.7,227.7 65.1,228.4 65.4,228.9 65.8,228.6 66.1,228 66.5,227.8 66.8,228.1 67.2,228 67.5,227.4 67.5,227.4 67.7,226.3 67.8,225.5 67.9,225.2 68,224.8 68.1,225.1 68.2,225.5 68.2,225.7 68.4,227.6 68.6,228.2 68.9,228.8 69.3,228.6 69.6,228.2 70,228.2 70.3,228.4 70.7,228.5 71,227.9 71.4,227.6 71.7,227.6 72.1,227.6 72.4,227.6 72.8,227.2 73.1,227 73.4,227.2 73.7,227.3 73.8,226.6 73.9,225.7 74,224.9 74.1,224.2 74.3,224.9 74.4,226.4 74.5,227.3 74.6,228 74.8,228.2 75.2,228 75.5,227.4 75.9,227 76.2,227.4 76.6,228.1 76.9,228.5 77.3,228.6 77.6,228.5 78,228.2 78.3,227.9 78.7,228 79,228.1 79.4,227.8 79.7,227.1 80.1,226.9 80.4,227 80.8,227 81.1,227 81.5,226.9 81.8,227 82.2,227.5 82.5,228.1 82.9,228.2 83.2,227.6 83.5,226.8 83.9,226.7 84.2,227.1 84.6,227.3 84.9,227.2 85.3,226.9 85.6,226.9 86,226.9 86.3,226.3 86.7,225.7 86.7,225.8 86.9,225.8 87,225.7 87,225.3 87.1,224.8 87.2,223.3 87.3,223.2 87.3,223.2 87.4,221.4 87.4,221.1 87.4,220.9 87.5,219.3 87.5,217.9 87.6,217.3 87.6,216.5 87.7,215.2 87.8,216.5 87.9,216.9 87.9,217.8 87.9,218.1 88,219.9 88.1,222 88.2,223.8 88.2,223.8 88.3,224.1 88.3,224.3 88.4,225 88.6,224.8 88.8,224.4 88.8,224.2 89,224 89.1,224.2 89.2,224.4 89.3,225.8 89.5,226.4 89.7,227.1 89.7,227.1 89.8,226.9 89.9,226.5 90,225.6 90.2,225.2 90.3,225.5 90.4,225.7 90.5,226 90.7,226.1 90.9,226.1 91.1,226.7 91.2,226.8 91.4,226.5 91.5,226.6 91.6,226.4 91.6,226.4 91.7,226.7 91.8,227.1 91.9,227.4 92,227.7 92.3,227.3 92.6,226.9 93,226.7 93.3,226.6 93.7,227.1 94,227.1 94.2,225.1 94.3,221.3 94.5,216 94.6,208.3 94.7,204.2 94.8,208.3 94.9,215.9 95,221.1 95.2,224.8 95.4,225.5 95.6,225.2 95.7,224.8 95.9,225.2 96.1,225.6 96.4,226.5 96.8,227 97.1,227.3 97.5,227.5 97.8,227.4 98,226.8 98.2,226.4 98.4,225.7 98.5,224.5 98.7,224 98.9,224.7 99,225.6 99.2,227 99.4,227.4 99.6,228.1 99.9,228.3 100.3,227.7 100.6,226.7 100.7,226.7 100.9,225.1 101,224.5 101,224 101.1,223.5 101.3,224.3 101.3,224.8 101.4,225.5 101.6,227.1 101.7,227.1 102,227 102.4,227.4 102.7,227.5 103.1,227.7 103.4,227.4 103.8,227.2 104.1,227 104.4,226.4 104.7,226.1 104.8,226.1 105.1,225.5 105.1,225.2 105.2,224.6 105.4,222.9 105.5,222 105.5,221.1 105.6,217.3 105.7,208.9 105.7,204.3 105.8,197.5 105.8,196 105.9,191.5 106.1,197.7 106.1,199.3 106.2,209.5 106.4,223.3 106.5,225.1 106.9,226.7 107.2,227.2 107.6,226.9 107.9,224.9 108.3,217.4 108.5,211.3 108.6,208 108.8,211.2 109,217.2 109.3,223.7 109.7,220.7 109.8,216.9 110,215.1 110.2,216.9 110.4,220.3 110.4,220.8 110.6,221.4 110.7,220.8 110.8,220.3 110.9,219.7 111,221.2 111.1,222.1 111.1,223.4 111.4,225.3 111.4,225.4 111.8,225.5 111.9,225.4 112.1,224 112.3,221 112.3,220.3 112.5,216.7 112.6,214.2 112.6,213.5 112.7,213.2 112.8,214.4 112.9,217.8 113,219.4 113,221.7 113.2,224.1 113.3,226.1 113.3,226.4 113.5,227.3 113.9,227.5 114.2,227.2 114.5,226.9 114.9,227 115.2,227.5 115.6,227.7 115.8,227.3 115.9,226.4 116.1,224.5 116.3,222.6 116.5,221.5 116.6,222.2 116.8,223.8 117,224.9 117.1,224.1 117.2,223.5 117.3,217.2 117.4,215 117.5,206.8 117.6,202.5 117.7,204.1 117.7,206.9 117.9,215 118,223.3 118.1,224.9 118.4,226.6 118.7,226.7 119.1,226.7 119.4,226.6 119.6,226.7 119.8,226.4 119.9,225.9 120,225.5 120.1,225.2 120.2,225.5 120.4,226.2 120.5,226.7 120.6,227 120.8,226.9 121.2,226 121.4,225.5 121.5,225.1 121.6,224.6 121.7,224 121.9,223.8 122,224.6 122.1,225.5 122.2,226.3 122.3,226.8 122.6,227 122.9,227.1 123.3,227.6 123.6,227.9 124,227.8 124.3,227.6 124.6,227.7 125,227.9 125.3,227.9 125.7,228.1 126,228 126.4,227.7 126.7,227.5 127.1,227.5 127.4,227.4 127.5,227.3 127.7,226.3 127.8,225.8 127.8,225.4 128,225 128.1,225.5 128.1,225.9 128.2,226.4 128.4,227.7 128.5,227.8 128.8,227.8 129.2,227.5 129.2,227.5 129.5,226.5 129.5,226.1 129.6,225.8 129.7,225.4 129.8,225.9 129.9,226.2 129.9,226.6 130.2,227.2 130.2,227.2 130.6,227.5 130.9,228.5 131.3,228.3 131.6,227.3 132,226.3 132.3,226.7 132.7,226.8 133,227 133.4,227.4 133.7,227.6 134.1,227.1 134.4,226.1 134.7,226.5 135.1,226.7 135.4,226.9 135.8,227.1 136,226.7 136,226.7 136.1,225.6 136.2,224.2 136.3,222.9 136.4,222 136.5,220.5 136.6,220.4 136.7,220.9 136.7,221.4 136.8,222.8 137,224.5 137,224.8 137.2,226 137.4,226.7 137.5,227 137.9,227.2 138.2,227.3 138.6,227.4 138.9,227.3 139.3,227.2 139.6,227.2 140,227.6 140.3,228 140.5,227.7 140.7,227.1 140.8,226.3 140.9,224.7 141,224.1 141.1,224.7 141.3,225.3 141.4,226.1 141.5,226.7 141.7,226.8 142.1,227.2 142.4,227.4 142.6,227.3 142.8,226.9 142.9,226.2 143,225.3 143.1,224.8 143.2,225.3 143.4,226.5 143.5,227.1 143.6,227.5 143.8,227.8 144.2,227.2 144.5,227.5 144.8,227.5 145.2,227.5 145.5,227.5 145.9,227.4 146.2,227.5 146.6,227.9 146.9,228.1 147.3,227.6 147.6,226.9 148,226.7 148.3,227.1 148.7,227 149,226.9 149.4,226.8 149.7,227.2 150.1,226.2 150.4,226.1 150.8,225.9 151.1,227.1 151.5,228 151.8,227.9 152.2,227.2 152.5,225.7 152.9,225.6 153.2,227 153.6,227.2 153.9,227.3 154.3,227.5 154.6,227.8 154.9,228.1 155.2,228 155.3,227.4 155.4,226.8 155.5,226 155.6,225.5 155.8,226 155.9,226.8 156,227.5 156.1,228 156.3,228.1 156.7,227.9 157,227.8 157.4,227.5 157.7,227.3 158.1,227.2 158.4,227.1 158.8,227.1 159.1,226.9 159.5,226.7 159.8,226.4 160.2,224.4 160.3,222.5 160.5,221.5 160.7,222.4 160.9,224 160.9,224.3 161.1,223.7 161.2,222.9 161.3,222.2 161.4,221.7 161.5,222.8 161.6,223.6 161.6,224.7 161.9,227.1 161.9,227.2 162.3,227.5 162.6,227.7 163,228 163.3,228.1 163.7,227.9 164,227.7 164.4,227.6 164.6,227.1 164.7,226.6 164.8,225.7 164.9,224.3 165,223.3 165.2,223.2 165.2,223.4 165.3,223.8 165.4,224.3 165.5,225 165.6,225.2 165.7,226.4 166,227.2 166.1,226.8 166.2,226.1 166.3,224.9 166.4,224.3 166.6,225 166.7,226.1 166.8,227 166.9,227.6 167.1,227.6 167.5,227.6 167.8,227.8 168.2,227.4 168.5,226.3 168.9,226.5 169.2,227.1 169.6,227.1 169.9,224.9 170.1,223 170.3,222 170.4,222.9 170.6,224.8 171,226.4 171.3,225.5 171.7,226.4 172,226.7 172.4,226.9 172.7,226.5 173.1,224.9 173.4,224.6 173.6,224 173.8,223.6 173.9,223.8 174.1,225.4 174.5,227.2 174.8,227.4 175.1,227.4 175.5,227.3 175.8,227.1 176.2,226.2 176.4,225.4 176.5,225.3 176.7,225.8 176.8,225.9 176.9,226.2 177,226.1 177.1,225.6 177.2,225.4 177.4,225.9 177.5,226.4 177.6,226.9 177.7,227.2 177.9,227.4 178.3,227.4 178.6,227.2 179,226.3 179.2,225.4 179.3,225 179.5,225.5 179.7,226.2 180,226.9 180.4,226.8 180.7,226.9 181.1,227 181.4,227.1 181.8,226.9 181.8,226.8 182,224.4 182.1,223.3 182.2,222.5 182.3,221.5 182.4,222.4 182.5,223.1 182.5,224 182.8,225.6 182.8,225.5 183,224.7 183.2,224.5 183.3,225.1 183.5,226.2 183.7,226.8 183.9,226.7 184,226.3 184.1,225.6 184.2,225.2 184.3,225.6 184.4,226.4 184.6,226.9 184.7,227.2 184.7,227.4 184.8,227.3 184.9,227 185.1,226.4 185.1,226.2 185.2,225.2 185.3,225.1 185.3,225 185.4,224.4 185.4,224.4 185.6,225 185.6,225.1 185.6,225.1 185.8,225.8 185.8,225.9 185.9,226.8 186.1,227.3 186.1,226.9 186.3,227.1 186.6,227 186.6,227 187,226.4 187,226.1 187.2,224.7 187.3,224.3 187.4,224.4 187.6,225.2 187.7,225.6 187.8,226.2 188,227.1 188.2,227.3 188.4,227.7 188.7,227.7 189.1,227.5 189.4,227.2 189.8,226.4 190.1,227.6 190.5,228 190.8,228 191.2,228 191.5,226.9 191.9,225.4 192.2,225.1 192.6,225.1 192.9,226.7 193.3,227.4 193.6,226.9 194,227.8 194.3,227.9 194.7,227.6 195,227.2 195.3,227.3 195.7,227.5 196,227.5 196.4,226.9 196.7,226.3 196.7,226.1 196.9,225.7 197,225.6 197.1,225.5 197.2,225.5 197.3,226.4 197.4,227.1 197.4,227.2 197.7,227.8 197.8,227.7 198.1,226.3 198.5,227.1 198.8,227.4 199.2,227.6 199.5,227.7 199.9,227.6 200.2,227.6 200.6,227.6 200.9,227.8 201.3,227.9 201.6,228.1 202,228.3 202.3,228.3 202.7,228.1 203,227.9 203.4,227.7 203.7,227.7 204.1,227.4 204.4,227.6 204.6,227.7 204.8,227.4 204.9,226.9 205,226.4 205.1,226 205.2,226.4 205.3,227.1 205.4,227.6 205.6,227.9 205.8,227.5 205.9,227.5 206.1,226.3 206.1,226.3 206.3,225.6 206.4,225 206.5,225 206.5,225 206.7,225.2 206.8,225.5 206.9,225.5 207.2,226.5 207.5,227.8 207.9,227.8 208.2,227.4 208.6,227.1 208.9,227.7 209.3,228 209.6,227.8 210,227.7 210.3,227.7 210.7,227.7 211,227.6 211.4,227.5 211.7,227.4 212.1,227 212.4,227 212.8,226.6 213.1,227.3 213.5,227.8 213.8,228 214.2,228.2 214.5,228.4 214.9,228.3 215.2,227.8 215.6,226.9 215.9,227.3 216.2,227.5 216.6,227.5 216.9,227.2 217.3,226.6 217.6,227 218,227.2 218.3,227.1 218.7,227.4 219,227.6 219.4,227.6 219.7,227.5 220.1,227.3 220.4,227.2 220.8,226.3 220.9,226 221.1,226.4 221.3,226.9 221.5,227.5 221.8,227.9 222.2,227.9 222.5,227.8 222.9,227.8 223.2,227.6 223.6,227.3 223.9,227 224.3,226.8 224.6,227.8 225,228.3 225.3,228.2 225.7,228.1 226,228 226.3,228 226.7,228 227,227.9 227.4,227.7 227.7,227.6 228.1,227.7 228.4,227.6 228.8,226.8 229.1,227.6 229.5,228.2 229.8,228.3 230.2,227.9 230.5,227.5 230.9,227.4 231.2,227.7 231.6,228.1 231.9,228.2 232.3,228 232.6,228 233,228.1 233.3,228.2 233.7,228.1 234,228 234.4,228.1 234.7,228.3 235.1,228.3 235.4,228 235.8,227.7 236.1,227.8 236.4,228.1 236.8,228.2 237.1,228 237.5,227.7 237.8,227.5 238.2,227.5 238.5,227.7 238.9,227.9 239.2,228 239.6,227.8 239.9,227.7 240.3,227.8 240.6,228 241,228 241.3,228 241.7,228.1 242,228.3 242.4,228.4 242.7,228.3 243.1,228.2 243.4,228 243.8,228 244.1,228.1 244.5,228.1 244.8,227.9 245.2,227.7 245.5,227.5 245.9,227.5 246.2,227.7 246.5,227.9 246.9,227.6 247.2,227.2 247.6,227.4 247.9,227.7 248.3,227.9 248.6,228 249,228 249.3,227.6 249.7,227 250,227.3 250.4,227.7 250.7,227.8 251.1,227.9 251.4,227.9 251.8,227.8 252.1,227.8 252.5,227.7 252.8,227.7 253.2,227.6 253.5,227.4 253.9,227.1 254.2,227.9 254.6,228.2 254.9,228.1 255.3,227.9 255.6,227.9 256,228 256.3,228 256.6,227.8 257,227.5 257.3,227.5 257.7,227.7 258,228.1 258.4,228.2 258.7,228.1 259.1,227.7 259.4,227.7 259.8,227.9 260.1,228.1 260.5,228.2 260.8,227.7 261.2,227.1 261.5,227.4 261.9,227.5 262.2,227.3 262.6,226.8 262.9,227.5 263.3,227.6 263.6,227.5 264,227.5 264.3,227.9 264.7,228.3 265,228.3 265.4,228.1 265.7,228 266.1,228 266.4,227.5 266.7,226.9 267.1,227.3 267.4,227.7 267.8,227.8 268.1,227.9 268.5,228 268.8,228.2 269.2,228.3 269.5,228.2 269.9,228.1 270.2,228 270.6,228.1 270.9,228.1 271.3,228.1 271.6,228.1 272,228.1 272.3,228 272.7,228 273,227.9 273.4,227.8 273.7,227.9 274.1,227.9 274.4,228.1 274.8,228 275.1,227.9 275.5,227.8 275.8,227.9 276.2,228 276.5,228" fill="none" stroke="#2f9e74" stroke-width="1.15" stroke-linejoin="round"/>
<path d="M32.7,267.5 33,267.3 33.4,267.2 33.7,267.7 34.1,268.3 34.4,268.5 34.8,268.1 35.1,267.3 35.4,266.6 35.5,266.1 35.5,265.8 35.7,265.4 35.8,266.4 35.8,266.7 35.9,267.2 36.2,268.6 36.5,268.9 36.9,268.6 37.2,268.7 37.6,269 37.9,269.4 38.3,269.1 38.6,268.2 39,268 39.3,268.1 39.7,268.6 40,268.7 40.4,268.8 40.7,269.2 41.1,269.2 41.4,269 41.8,268.8 42.1,268.6 42.5,268.2 42.8,267.8 43.1,267.7 43.5,267.9 43.8,267.9 44.2,268.1 44.5,268.2 44.7,268 44.9,267.1 45,266.5 45.1,265 45.2,264.4 45.4,264.9 45.5,265.6 45.6,266.2 45.8,267.2 45.9,267.4 46.3,268 46.6,268.8 47,269.3 47.3,269.6 47.7,269.7 48,269.3 48.4,269.1 48.7,268.9 49.1,268.9 49.4,268.9 49.8,268.6 50.1,268.5 50.5,268.4 50.8,268.6 51.2,268.6 51.5,268.6 51.9,268.5 52.2,268.6 52.6,268.6 52.9,268.3 53.2,268.4 53.6,268.4 53.9,268.6 54.3,268.6 54.6,268.7 55,269.3 55.3,269.7 55.7,269.3 56,268.7 56.4,268.2 56.6,267.5 56.7,266.5 56.8,265.5 56.9,263.5 57.1,262.6 57.2,263.5 57.3,265 57.4,265.9 57.6,267 57.8,267.8 58.1,268.5 58.5,268.5 58.8,268.5 59.2,268.5 59.5,268.4 59.9,268 60.2,267.9 60.6,268.2 60.9,268.6 61.3,268.8 61.6,268.9 62,268.6 62.3,268.2 62.7,268 63,268 63.3,268.2 63.7,268.6 64,269.1 64.4,269.4 64.7,269.6 65.1,269.5 65.4,268.7 65.8,268.2 66.1,268.5 66.5,268.9 66.8,268.7 67.2,268.3 67.5,268.5 67.9,268.6 68.2,267.7 68.6,268 68.9,268.2 69.3,268.7 69.5,268.7 69.6,268.6 69.9,267.9 70,267.8 70.1,267.3 70.3,266.9 70.3,266.9 70.5,267 70.7,267.5 70.7,267.7 71,268.2 71.1,268.2 71.1,268.2 71.4,267.5 71.4,267.4 71.5,266.7 71.6,266.2 71.7,266.4 71.7,266.6 71.9,267.3 72.1,267.6 72.1,267.7 72.4,267.6 72.8,268 73.1,268.6 73.4,269 73.6,268.7 73.8,268.2 73.9,267.7 74,266.5 74.1,266 74.3,266.5 74.4,267.3 74.5,267.8 74.7,268.4 74.8,268.3 75.2,268 75.5,267.5 75.9,267.5 76.2,268 76.6,268.3 76.9,268.4 77.3,268.5 77.6,268.8 78,269.1 78.3,269.2 78.7,268.9 79,268.2 79.4,267.6 79.7,267.7 80.1,268.3 80.4,268.8 80.7,269 80.8,268.9 81.1,267.6 81.1,267.1 81.2,266.3 81.4,264.8 81.5,265 81.5,265.5 81.7,266.3 81.8,267 82,267.7 82.2,267.8 82.5,267.8 82.5,267.8 82.8,267 82.9,266.8 83,266.4 83.2,265.9 83.2,265.9 83.3,266.3 83.5,267 83.5,267.1 83.9,267.9 83.9,267.9 84.2,268 84.6,267.8 84.9,267.7 85.3,267.6 85.6,267.3 86,268 86.3,268.1 86.7,268 87,267.6 87.2,267.1 87.3,266.7 87.4,265.9 87.5,264.6 87.6,262.6 87.7,261 87.7,260.6 87.8,260.3 87.9,260.5 87.9,260.6 88,261.5 88.1,262.1 88.2,262.6 88.3,263.3 88.3,263.2 88.3,263.6 88.4,264.3 88.5,264.5 88.5,264.7 88.7,265.8 88.8,266.8 88.8,267.1 88.8,267.2 89.1,267.9 89.2,268 89.5,267.9 89.8,267.5 90.2,266.6 90.5,267.8 90.9,268.3 91.2,268.1 91.6,268 91.9,268.1 92.3,268 92.6,267.8 93,267.5 93.3,267.4 93.7,267.2 94,267.1 94.2,266 94.3,263.1 94.4,259.9 94.5,256.9 94.6,254.6 94.7,251.3 94.8,253.6 94.8,253.8 95,258.4 95,259 95,259.1 95,261.1 95.1,263.1 95.2,264.3 95.3,264.5 95.4,264.9 95.4,265 95.4,265.1 95.5,265 95.7,264.5 95.8,264.5 95.9,264.9 96.1,265.8 96.1,266 96.4,266.8 96.5,266.8 96.8,267 96.8,267 97.1,266.7 97.1,266.7 97.3,266.1 97.4,265.7 97.5,265.8 97.6,266.2 97.7,266.9 97.8,267.3 97.9,267.5 98,267.5 98.2,267.3 98.3,266.8 98.5,266.1 98.5,266.1 98.7,265.7 98.9,266 98.9,266.1 99.1,266.8 99.2,267.4 99.5,267.7 99.6,267.8 99.9,268.3 100.3,268.9 100.6,269.1 100.9,268 101,267.5 101,267.2 101.1,266.8 101.3,266.9 101.3,267.2 101.4,267.7 101.7,268.4 102,268.5 102.4,268.6 102.7,268.8 103.1,269.1 103.4,269.3 103.8,269.4 104.1,269.2 104.4,268.8 104.8,268.2 105.1,267.8 105.4,266.7 105.5,265.4 105.7,257.3 105.8,249.6 105.8,248.1 105.9,245.2 106.1,248.8 106.2,255.2 106.2,256.2 106.5,265.2 106.5,266.1 106.9,267.7 107.2,267.8 107.6,267.6 107.9,266.7 107.9,266.1 108.2,260.2 108.3,259.1 108.4,254.2 108.6,251 108.6,250.4 108.7,250.6 108.8,252.3 108.9,253.6 109,257 109,258.1 109,258.2 109.2,262 109.3,263.7 109.3,264.4 109.4,264.7 109.5,264.6 109.6,262.5 109.7,262 109.8,259.3 110,257.7 110.2,259.7 110.4,262.3 110.4,262.8 110.6,264.7 110.7,264.5 110.8,264.3 110.8,264.2 110.9,264 111,265 111.1,265.4 111.2,266.4 111.4,267.9 111.8,267.7 111.9,267.3 112.1,264.9 112.2,262.7 112.3,262 112.4,258.3 112.5,258 112.5,256.3 112.6,256.1 112.6,255.1 112.7,254.9 112.8,255.4 112.8,255.6 112.8,255.8 112.9,256.7 112.9,257.4 113,258.8 113.1,259.5 113.1,259.6 113.2,260.6 113.2,260.9 113.2,261.3 113.3,261.9 113.4,262.3 113.4,262.5 113.4,262.6 113.5,263.3 113.5,263.5 113.6,263.8 113.7,265 113.9,266.3 113.9,266.4 113.9,266.6 114.2,268 114.2,268 114.5,268.6 114.9,268.6 115.2,268.2 115.6,267.4 115.7,267.2 115.9,266.1 116.1,265 116.3,263.6 116.3,263.4 116.5,262.6 116.6,263.6 116.7,263.7 116.8,265.5 117,266 117.1,265.8 117.2,264.1 117.3,260.8 117.4,260.1 117.5,254.5 117.6,251.9 117.7,252.8 117.7,255 117.9,260.4 118,265.5 118.1,267.2 118.4,268.2 118.7,268.5 119.1,268.4 119.4,267.9 119.8,267 120.1,266.6 120.5,268.4 120.8,268.5 120.8,268.5 121.1,267.2 121.2,267 121.3,266.3 121.3,265.7 121.5,265.2 121.5,265.1 121.6,264.9 121.6,264.9 121.7,264.6 121.8,264.7 121.9,264.9 122,265.8 122.1,266.6 122.1,266.8 122.2,267.1 122.4,267.9 122.6,268 122.9,268.4 123.3,268.5 123.6,268.5 124,268.7 124.3,268.8 124.6,268.6 125,268.5 125.3,268.8 125.7,269.2 126,269.2 126.4,269.1 126.7,269 127.1,268.8 127.4,268.4 127.7,267.6 127.8,267.2 127.8,267 128,266.9 128.1,267.3 128.1,267.5 128.2,267.9 128.5,268.9 128.8,268.8 129.2,267.6 129.5,266.3 129.9,267.4 130.2,269.1 130.6,269.2 130.9,268.9 131.3,268.7 131.6,268.7 132,268.8 132.3,268.6 132.7,268.5 133,268.6 133.4,268.8 133.7,268.8 134.1,268.3 134.4,267.7 134.7,268.4 135.1,268.9 135.4,268.9 135.8,268.6 135.9,268.4 136,268.2 136.1,267 136.2,266.2 136.3,265.5 136.4,264.5 136.5,263.3 136.5,263.2 136.6,263.1 136.7,263.3 136.8,264.1 136.8,264.9 136.9,265.1 137,266.8 137,267.1 137.2,267.9 137.4,268.9 137.5,269.1 137.9,268.8 138.2,267.4 138.6,266.9 138.9,268.1 139.3,268.8 139.6,269 140,268.8 140.3,268.5 140.5,268.3 140.7,267.9 140.8,267.4 140.9,266.6 141,266.2 141.1,266.6 141.3,267.3 141.4,267.8 141.5,268.3 141.7,268.4 142.1,268.6 142.4,268.6 142.6,268.5 142.8,268.2 142.8,267.9 143,267.4 143.1,267.1 143.2,267.4 143.4,268 143.5,268.3 143.6,268.5 143.8,268.4 144.2,267.5 144.5,267.6 144.8,268.3 145.2,268.7 145.5,268.9 145.9,268.7 146.2,268.6 146.6,268.8 146.9,269 147.3,269 147.6,269 148,269.2 148.3,269.3 148.7,269 149,268.6 149.4,268.1 149.7,268.9 150.1,268.8 150.4,267.9 150.8,267.6 151.1,268.4 151.5,268.7 151.8,268.3 152.2,267.9 152.5,268 152.9,267.8 153.2,268.5 153.2,268.5 153.4,268 153.6,267.5 153.6,267.5 153.7,267.2 153.8,267.2 153.9,267.6 154,267.8 154.2,268.3 154.3,268.3 154.6,268.4 154.9,268.8 155.3,268.2 155.6,266.8 156,268 156.3,268.8 156.7,269.1 157,269.1 157.4,269.3 157.7,269.5 158.1,269.6 158.4,269.6 158.8,269.6 159.1,269.5 159.5,268.9 159.8,267.6 159.8,267.3 160.1,265.5 160.2,265.2 160.3,264 160.5,263.6 160.7,264.8 160.9,266 160.9,266.2 161.1,266.3 161.2,265.8 161.3,265.5 161.3,265.4 161.4,264.9 161.5,265.7 161.6,266.1 161.7,267 161.9,268.3 162.3,268.5 162.6,268.8 163,269.1 163.3,269.2 163.7,269.1 164,268.8 164.4,268.2 164.5,267.8 164.6,267.2 164.7,266.9 164.8,266.5 164.9,265.7 165,265.2 165,265.1 165.2,265.1 165.2,265.1 165.3,265.6 165.4,265.8 165.6,266.6 165.6,266.9 165.7,267.5 165.8,267.7 165.9,268 166.1,268 166.2,267.8 166.2,267.7 166.3,267 166.4,266.6 166.6,267 166.7,267.6 166.8,268 167,268.4 167.1,268.3 167.2,268.2 167.5,267.2 167.5,267.2 167.6,266.6 167.8,266.8 167.8,266.9 167.9,267.4 168.1,268 168.2,268.4 168.4,268.8 168.5,268.9 168.9,268.8 169.2,268.7 169.5,268.4 169.6,268.2 169.9,266.5 169.9,266.2 170.1,264.8 170.3,264.2 170.5,265.2 170.6,266.6 170.7,266.9 171,268.4 171,268.5 171.3,268.3 171.7,268.7 172,268.7 172.4,268.7 172.7,268.4 173,267.9 173.1,267.7 173.4,267.4 173.4,267.3 173.6,266.7 173.8,266.4 173.9,267.1 174.1,267.9 174.1,268 174.3,268.5 174.5,268.5 174.5,268.5 174.6,267.9 174.8,267.3 174.8,267.2 174.9,267.1 175,267.1 175.1,267.6 175.2,267.7 175.5,268.7 175.5,268.7 175.8,268.9 175.8,268.9 176.2,267.8 176.2,267.7 176.4,267.1 176.5,266.3 176.7,266.6 176.9,266.9 176.9,267 177.2,267.2 177.3,267.4 177.6,268.6 177.9,269.1 178.3,269.2 178.6,269.1 178.6,269 178.9,268.1 179,268 179.1,267.4 179.3,266.9 179.5,267.5 179.7,268.1 179.7,268.2 180,269 180.1,269.1 180.4,268.9 180.7,268.6 181.1,268.5 181.4,268.5 181.8,268.3 182,266.8 182.1,266 182.2,265.5 182.3,264.9 182.4,265.2 182.4,265.4 182.5,265.7 182.5,266.3 182.8,266.9 182.8,266.8 183,266.3 183.2,265.8 183.4,266.6 183.5,267.3 183.5,267.5 183.8,268.5 183.9,268.4 183.9,268.2 184.1,267.8 184.2,267.1 184.2,266.9 184.3,266.9 184.4,267.7 184.5,268.6 184.6,268.7 184.8,269.3 184.9,269.4 185.2,269.1 185.6,268.8 185.9,268.9 186.3,269.2 186.6,269.1 187,268.3 187.3,267.3 187.7,268.5 188,269.2 188.4,269.5 188.7,269.7 189.1,269.7 189.4,269.3 189.8,268.3 190.1,268.5 190.5,268.1 190.8,268.6 191.2,269.5 191.5,269.6 191.9,269.5 192.2,269 192.6,268.5 192.9,268.8 193.3,268.8 193.6,268 193.7,267.9 193.9,267.1 194,266.8 194,266.5 194.1,266.1 194.2,266.6 194.3,267 194.4,267.4 194.6,268.3 194.7,268.4 194.7,268.4 194.9,267.8 195,267.4 195,267.2 195.2,266.9 195.3,267.3 195.3,267.6 195.4,267.9 195.7,268.8 195.7,268.8 196,269 196.4,268.7 196.7,268.2 197.1,268.6 197.4,269.1 197.8,269.3 198.1,268.9 198.5,269.6 198.8,269.7 199.2,269.4 199.5,269.1 199.9,269 200.2,269.2 200.6,269.4 200.9,269.2 201.3,268.6 201.6,268 202,268.6 202.3,269.2 202.7,269.1 203,268.8 203.4,268.7 203.7,268.8 204.1,268.9 204.4,269 204.7,267.9 204.8,267.7 205,265.3 205.1,265.1 205.2,265.2 205.4,265.9 205.4,266.5 205.5,267.1 205.7,268.1 205.8,268.6 206,268.9 206.1,269 206.5,268.4 206.8,267.9 207.2,268.6 207.2,268.6 207.5,268.8 207.6,268.7 207.8,268.2 207.9,268 208,268 208.1,267.9 208.2,268.1 208.3,268.3 208.6,268.2 208.7,268.4 208.9,268.7 209.3,269.2 209.6,269.6 210,269.8 210.3,269.7 210.7,269.7 211,269.6 211.4,269.5 211.7,269.3 212.1,268.5 212.4,267.5 212.8,267.6 213.1,268.5 213.5,269.1 213.8,269.3 214.2,269.3 214.5,269.5 214.9,269.7 215.2,269.5 215.6,268.9 215.9,268.9 216.2,268.7 216.6,268.7 216.9,268.6 217.3,268.4 217.6,268.9 218,269.2 218.3,269.2 218.7,269.2 219,269.1 219.4,268.9 219.7,268.8 220.1,269 220.4,268.9 220.4,268.8 220.7,268 220.8,267.9 220.9,267.6 221.1,267.7 221.3,268.3 221.5,268.7 221.5,268.8 221.8,269.6 221.9,269.6 222.2,269.6 222.5,269.3 222.9,269.1 223.2,269.2 223.6,269.5 223.9,269.3 224.3,268.9 224.6,269.2 225,269.5 225.3,269.4 225.7,269.5 226,269.6 226.3,269.6 226.7,269.6 227,269.7 227.4,269.7 227.7,269.7 228.1,269.7 228.4,269.4 228.8,268.8 229.1,269.1 229.5,269 229.8,268.9 230.2,268.9 230.5,268.9 230.9,269.1 231.2,269.1 231.6,269.1 231.9,268.9 232.3,268.8 232.6,268.8 233,269 233.3,269.2 233.7,269.3 234,269.4 234.4,269.6 234.7,269.9 235.1,269.9 235.4,269.7 235.8,269.5 236.1,269.5 236.4,269.6 236.8,269.5 237.1,269.4 237.5,269.6 237.8,269.9 238.2,270 238.5,269.7 238.9,269.2 239.2,268.9 239.6,269 239.9,269.3 240.3,269.5 240.6,269.6 241,269.7 241.3,269.7 241.7,269.5 242,269.2 242.4,269.2 242.7,269.4 243.1,269.6 243.4,269.6 243.8,269.4 244.1,269.3 244.5,269 244.8,269.1 245.2,269.4 245.5,269.5 245.9,269.4 246.2,269.2 246.5,269.2 246.9,269 247.2,268.5 247.6,268.7 247.9,268.9 248.3,269 248.6,269.2 249,269.3 249.3,269.1 249.7,269 250,269.2 250.4,269.4 250.7,269.5 251.1,269.5 251.4,269.4 251.8,269.2 252.1,269.3 252.5,269.6 252.8,269.8 253.2,269.7 253.5,269.5 253.9,269 254.2,269.3 254.6,269.5 254.9,269.6 255.3,269.6 255.6,269.3 256,269 256.3,268.9 256.6,269.1 257,269.4 257.3,269.5 257.7,269.5 258,269.5 258.4,269.7 258.7,269.9 259.1,269.8 259.4,269.5 259.8,269.3 260.1,269.2 260.5,269.3 260.8,269 261.2,268.6 261.5,268.8 261.9,269 262.2,269 262.6,269 262.9,269.5 263.3,269.7 263.6,269.6 264,269.6 264.3,269.7 264.7,269.8 265,269.8 265.4,269.8 265.7,269.7 266.1,269.4 266.4,269 266.7,268.5 267.1,268.7 267.4,268.9 267.8,269 268.1,269.1 268.5,269.2 268.8,269.3 269.2,269.3 269.5,269.4 269.9,269.4 270.2,269.4 270.6,269.4 270.9,269.6 271.3,269.9 271.6,269.9 272,269.8 272.3,269.6 272.7,269.3 273,269.3 273.4,269.4 273.7,269.4 274.1,269.4 274.4,269.5 274.8,269.6 275.1,269.5 275.5,269.3 275.8,269.1 276.2,269.1 276.5,269.1" fill="none" stroke="#f25a5a" stroke-width="1.15" stroke-linejoin="round"/>
<path d="M32.7,311.3 33,312 33.4,312.4 33.7,312.2 34.1,311.6 34.4,311.4 34.8,311.3 35.1,311.3 35.5,310.9 35.8,310.7 36.2,311.1 36.5,311.3 36.9,311.5 37.2,311.6 37.6,311.7 37.9,311.7 38.3,311.6 38.6,311.4 39,311.3 39.3,311.1 39.7,311 40,311.6 40.4,311.9 40.7,311.7 41.1,311.3 41.4,311.5 41.8,312.2 42.1,312.4 42.5,312.2 42.8,311.7 43.1,311.3 43.5,311.4 43.8,311.6 44.2,311.8 44.5,311.5 44.9,310.6 45.2,309.9 45.6,310.4 45.9,311.1 46.3,311.1 46.6,310.8 47,311 47.3,311.6 47.7,312 48,312.1 48.4,311.8 48.7,312 49.1,311.9 49.4,311.7 49.8,311.7 50.1,311.8 50.5,312 50.8,312.1 51.2,312.1 51.5,312.3 51.9,312.4 52.2,312.2 52.6,311.7 52.9,311.5 53.2,311.7 53.6,312.1 53.9,312.2 54.3,312 54.6,311.6 55,311.3 55.3,311.6 55.7,312 56,312.2 56.4,311.8 56.7,311.1 56.9,310.6 57.1,310.3 57.3,310.6 57.4,311.1 57.8,311.6 58.1,311.3 58.5,311.3 58.8,311.3 59.2,311 59.5,310.9 59.9,310.7 60.2,311 60.6,311.1 60.9,311.1 61.3,311.1 61.6,311.2 62,311.5 62.3,311.6 62.7,311.8 63,312 63.3,312 63.7,311.9 64,311.7 64.4,311.7 64.7,312 65.1,312.6 65.4,312.7 65.8,312.3 66.1,312.1 66.5,312.1 66.8,311.9 67.2,311.6 67.5,311.6 67.9,311.5 68.2,311.2 68.6,311.2 68.9,311.6 69.3,311.9 69.6,312 70,311.8 70.3,311.7 70.7,311.8 71,311.7 71.4,311.6 71.7,311.3 72.1,311 72.4,310.8 72.8,311.1 73.1,311.5 73.4,311.5 73.8,311.1 74.1,310.6 74.5,310.7 74.8,311 75.2,311.5 75.5,312.2 75.9,312.5 76.2,312.6 76.6,312.5 76.9,312.3 77.3,311.8 77.4,311.8 77.6,311.5 77.9,310.8 78,310.6 78.1,310.2 78.3,309.5 78.4,309.5 78.6,309.9 78.7,310 78.9,310.9 79,311.2 79.3,311.9 79.4,311.9 79.7,311.7 80.1,311.3 80.4,311.3 80.8,311.3 81.1,311.2 81.5,311.3 81.8,311.6 82.2,311.6 82.5,312.2 82.9,312.3 83.2,311.9 83.5,311.8 83.9,311.8 84.2,312 84.6,312.3 84.9,312.3 85.3,312.1 85.6,311.5 86,311.1 86.3,310.9 86.7,311 87,310.7 87.1,310.2 87.4,308.3 87.6,305.9 87.6,305 87.7,303.3 87.8,302.1 87.9,301.7 88.1,301.4 88.3,303.4 88.4,305 88.5,306.6 88.8,308.4 89,309.7 89.1,310 89.5,310.7 89.8,310.8 90.1,310.7 90.2,310.6 90.4,310.1 90.5,309.7 90.5,309.6 90.6,309.5 90.8,309.7 90.9,310 90.9,310.3 91.2,310.8 91.2,310.8 91.6,310.9 91.9,311.3 92.3,311.6 92.6,311.7 93,311.9 93.3,311.8 93.7,311.3 94,310.8 94.3,309.2 94.5,308.3 94.7,307.6 94.8,307.8 94.9,308.1 95,309.3 95.3,310 95.4,310 95.5,309.9 95.7,309.6 96,309.7 96.1,310 96.2,310.3 96.4,310.7 96.7,311 96.8,311.1 97.1,311.6 97.5,311.7 97.8,311.1 97.8,311 98.2,309.2 98.2,308.9 98.4,308.2 98.5,307.7 98.5,307.4 98.7,306.7 98.8,307.2 98.9,307.2 98.9,307.4 99.2,308.4 99.2,308.6 99.6,309.7 99.6,309.9 99.7,310 99.9,310.1 100,310.2 100.1,309.8 100.3,309.8 100.5,308.9 100.6,308.4 100.7,308 100.7,307.9 100.9,306.7 101,306.5 101,306.5 101.1,306.4 101.2,306.9 101.3,307.4 101.4,307.7 101.5,308.4 101.6,309.7 101.7,310.1 102,311.4 102,311.5 102.4,311.9 102.7,311.8 103.1,311.8 103.4,311.7 103.8,311.8 104.1,312.1 104.4,312.2 104.8,312.1 105.1,311.6 105.2,311.4 105.5,309.8 105.6,308.6 105.8,306.3 105.8,305.6 105.9,305.1 106.1,306.3 106.2,307.2 106.3,308.6 106.5,310.7 106.6,311.2 106.9,311.3 107.2,311.1 107.6,310.5 107.7,309.9 107.9,307.4 108.2,302.5 108.3,299.4 108.4,296.5 108.6,292.8 108.9,295.5 109,298 109.1,300.1 109.1,300.4 109.3,303.5 109.5,303.5 109.6,303.4 109.7,302.4 109.8,301.1 110,299.8 110.3,301.6 110.4,303.4 110.5,305.1 110.7,307.1 111,308.6 111.1,309.1 111.4,310.4 111.7,310.4 111.8,310.1 112.1,306.9 112.2,306.1 112.3,302.9 112.4,302 112.5,301.1 112.6,299.2 112.7,299.1 112.8,299.7 112.9,300.4 112.9,300.5 113.1,302.9 113.1,303.7 113.2,304.6 113.2,305.9 113.4,308.1 113.5,308.9 113.6,309.4 113.8,310.2 113.9,310.4 114.2,310.8 114.5,310.8 114.9,310.9 115.2,311 115.5,310.6 115.6,310.5 115.9,308.9 116,308.5 116.2,306.9 116.3,306.5 116.5,305.9 116.6,306.7 116.7,307 116.9,308.7 116.9,308.8 117,309 117.3,309.3 117.3,308.9 117.4,308.5 117.4,308.3 117.6,307.9 117.7,308.1 117.8,308.7 118,310 118,310.5 118.3,311.3 118.4,311.5 118.7,311.7 119.1,311.9 119.4,311.9 119.8,311.4 120.1,310.3 120.5,310.5 120.8,310.9 121.2,310.6 121.5,310 121.5,309.9 121.9,309.8 122,310 122.2,310 122.3,310 122.6,309.8 122.6,309.8 122.8,310.1 122.9,310.3 123.1,310.6 123.3,311.1 123.6,311.7 123.6,311.7 124,312.2 124.3,312.1 124.6,312 125,311.7 125.3,311.4 125.7,311.2 126,310.4 126.4,310.3 126.7,311.2 127.1,311.7 127.4,311.9 127.8,311.5 128.1,311.1 128.5,310.9 128.8,310.8 129.2,311.1 129.5,311.5 129.9,311.5 130.2,311.5 130.6,311.2 130.9,311 131.3,311.1 131.6,311.2 132,311.5 132.3,311.8 132.7,312.1 133,312.3 133.4,312.3 133.7,311.9 134.1,311.1 134.4,310.5 134.7,310.5 135.1,310.8 135.3,310.8 135.4,310.5 135.7,310.4 135.7,310.1 135.8,309.8 135.9,309.4 136.1,308.7 136.1,308.4 136.2,308.1 136.3,307.6 136.4,307.4 136.5,307.2 136.5,307.2 136.7,307.1 136.8,308.2 136.9,308.6 136.9,308.6 137.1,310.3 137.2,310.6 137.5,311.9 137.6,312 137.9,312 138.2,311.9 138.6,311.9 138.9,312.1 139.3,312.2 139.6,312.2 140,311.7 140.3,310.9 140.7,310.2 141,310.2 141.4,311 141.7,311.3 142.1,311.2 142.4,311.3 142.8,311.5 143.1,311.3 143.5,311.4 143.8,311.1 144.2,310.6 144.5,310.7 144.8,310.9 145.2,311.1 145.5,311.5 145.9,312 146.2,312.1 146.6,311.8 146.9,311.5 147.3,311.5 147.6,311.4 148,311.5 148.3,311.4 148.7,311.3 149,311.3 149.4,311.2 149.7,311.2 150.1,310.8 150.4,309.9 150.8,309.6 151.1,310.6 151.5,311.8 151.8,312 152.2,311.8 152.5,311.7 152.9,311.9 153.2,312.4 153.6,312.3 153.9,311.5 154.3,310.2 154.6,310.5 154.9,311.3 155.3,311.4 155.6,310.9 156,310.9 156.3,311.2 156.7,311.2 157,311.3 157.4,311.4 157.7,311.4 158.1,311.7 158.4,311.6 158.8,311.4 159.1,311.1 159.5,310.9 159.6,310.7 159.8,310.2 160.1,309 160.2,308.2 160.3,307.5 160.5,306.9 160.8,308.1 160.9,308.6 161,309.2 161.2,310.2 161.5,310.5 161.6,310.7 161.9,310.7 162.3,311 162.6,311.5 163,312 163.3,312.1 163.7,311.8 164,311.7 164.4,311.5 164.5,311.4 164.7,310.8 164.9,310 165,309.5 165.2,309.2 165.4,309.3 165.6,310.2 165.7,310.6 165.9,311 166.1,311.3 166.3,310.9 166.4,311 166.8,311.2 167.1,311.7 167.5,312 167.8,311.9 168.2,311.5 168.5,311.3 168.9,311.6 169.2,311.6 169.3,311.5 169.6,310.8 169.8,309.3 169.9,308.4 170,307.6 170.3,306.5 170.5,307.2 170.6,307.9 170.7,308.6 171,309.3 171.2,309.7 171.3,310 171.7,310.7 172,311.2 172.4,311.7 172.7,311.7 172.8,311.5 173.1,311.2 173.3,310.3 173.4,309.8 173.5,309.5 173.8,308.8 174,309.5 174.1,309.9 174.2,310.4 174.5,311.4 174.7,311.9 174.8,312 175.1,311.9 175.5,311.4 175.6,311.2 175.8,310.6 176.1,310.1 176.2,309.9 176.3,309.8 176.5,309.4 176.8,309.6 176.9,309.9 177,310.3 177.2,310.7 177.5,311.3 177.6,311.4 177.9,311.7 178.3,311.7 178.4,311.6 178.6,311.5 178.9,311.1 179,310.7 179.1,310.3 179.3,309.8 179.6,310 179.7,310.4 179.8,310.8 180,311.3 180.3,312 180.4,312 180.7,312.1 181.1,311.6 181.4,311.2 181.8,310.9 182.1,310.6 182.2,310.4 182.5,310.6 182.7,310.4 182.8,310 182.9,309.7 183.2,308.9 183.4,308.8 183.5,309.2 183.6,309.6 183.9,309.7 184.1,309.9 184.2,309.9 184.6,310.8 184.9,311.7 185.2,312 185.6,312 185.9,311.8 186.3,311.7 186.6,311.5 187,311.3 187.3,311.4 187.7,311.7 188,311.9 188.4,311.8 188.7,311.8 189.1,312 189.4,311.8 189.8,311.6 190.1,311.8 190.5,312.2 190.8,312.6 191.2,312.7 191.5,312.6 191.9,312.3 192.2,311.8 192.6,311.4 192.9,311.4 193.3,311.3 193.6,311.3 194,311.6 194.3,311.8 194.7,311.9 195,311.9 195.3,311.7 195.7,311.3 196,310.7 196.4,310.5 196.7,310.6 197.1,311.2 197.4,311.7 197.7,311.7 197.8,311.5 198,310.8 198.1,310.2 198.3,310 198.5,310.4 198.5,310.6 198.6,311.1 198.8,311.8 198.9,311.9 199.2,312 199.5,311.5 199.9,310.9 200.2,311.4 200.6,311.8 200.9,311.8 201.3,311.6 201.6,311.6 202,311.6 202.3,311.7 202.7,311.9 203,312 203.4,311.9 203.7,311.8 204.1,311.7 204.4,311.1 204.8,310.2 205.1,310.2 205.4,311.1 205.8,311.5 206.1,311 206.5,311 206.8,311 207.2,311.3 207.5,311.8 207.9,312.1 208.2,312.2 208.6,311.8 208.9,311.8 209.3,312.1 209.6,312.4 210,312.5 210.3,312.5 210.7,312.4 211,312.2 211.4,311.9 211.7,311.5 212.1,311 212.4,310.4 212.8,309.8 213.1,310 213.5,310.3 213.8,310.6 214.2,311.5 214.5,312.3 214.9,312.5 215.2,312.2 215.6,311.8 215.9,311.8 216.2,311.8 216.6,311.4 216.9,310.7 217.3,310.4 217.6,311 218,311.7 218.3,312.2 218.7,312.3 219,312.3 219.4,312.2 219.7,312.3 220.1,312.3 220.2,312.3 220.4,312.1 220.7,311.6 220.8,311.3 220.9,311.1 221.1,311 221.4,311.3 221.5,311.6 221.6,311.9 221.8,312.2 222.1,312.2 222.2,312.3 222.5,312.1 222.9,311.9 223.2,311.8 223.6,311.7 223.9,311.3 224.3,311.1 224.6,311.5 225,312.2 225.3,312.4 225.7,312.3 226,312.3 226.3,312.4 226.7,312.3 227,312.1 227.4,311.9 227.7,311.9 228.1,312 228.4,311.9 228.8,311.7 229.1,311.7 229.5,311.9 229.8,312.1 230.2,312.2 230.5,312.2 230.9,312 231.2,311.9 231.6,311.9 231.9,312.1 232.3,312.1 232.6,312 233,312 233.3,312 233.7,312.1 234,311.9 234.4,311.9 234.7,311.9 235.1,312 235.4,312.1 235.8,312.1 236.1,312.2 236.4,312.2 236.8,312.2 237.1,312.1 237.5,312.1 237.8,312 238.2,312 238.5,312.1 238.9,312.1 239.2,312 239.6,312 239.9,312 240.3,312 240.6,311.9 241,312 241.3,311.9 241.7,311.7 242,311.6 242.4,311.8 242.7,312.1 243.1,312.1 243.4,312 243.8,312 244.1,312.2 244.5,312.3 244.8,312.4 245.2,312.3 245.5,312.1 245.9,312 246.2,311.8 246.5,311.7 246.9,311.3 247.2,310.9 247.6,311.3 247.9,311.7 248.3,312 248.6,311.9 249,311.7 249.3,311.5 249.7,311.5 250,311.8 250.4,312 250.7,312.1 251.1,312.2 251.4,312.3 251.8,312.4 252.1,312.6 252.5,312.6 252.8,312.3 253.2,312.1 253.5,311.9 253.9,311.8 254.2,311.9 254.6,312 254.9,312.1 255.3,312.2 255.6,312.4 256,312.4 256.3,312.1 256.6,312 257,312.1 257.3,312.3 257.7,312.2 258,312 258.4,312 258.7,312.2 259.1,312.2 259.4,312.1 259.8,312 260.1,312 260.5,311.9 260.8,311.5 261.2,311.1 261.5,311.3 261.9,311.6 262.2,311.9 262.6,312 262.9,311.9 263.3,312 263.6,312.1 264,312.4 264.3,312.3 264.7,312.1 265,312 265.4,312.1 265.7,312.1 266.1,311.9 266.4,311.6 266.7,311.3 267.1,311.5 267.4,311.8 267.8,311.9 268.1,312 268.5,312.2 268.8,312.3 269.2,312.3 269.5,312.2 269.9,312.3 270.2,312.4 270.6,312.5 270.9,312.4 271.3,312.4 271.6,312.4 272,312.3 272.3,312.2 272.7,312 273,312 273.4,312.1 273.7,312.1 274.1,311.9 274.4,311.8 274.8,311.7 275.1,311.7 275.5,311.9 275.8,312.1 276.2,312.2 276.5,312.3" fill="none" stroke="#ff6fe6" stroke-width="1.15" stroke-linejoin="round"/>
<path d="M32.7,357.6 33,357.5 33.4,357.5 33.7,357.6 34.1,357.6 34.4,357.8 34.8,357.7 35.1,357.8 35.5,357.9 35.8,357.9 36.2,357.6 36.5,357.3 36.9,357.3 37.2,357.5 37.6,357.2 37.9,356.7 38.3,356.7 38.6,356.8 39,357 39.3,357 39.7,357.1 40,357.4 40.4,357.6 40.7,357.9 41.1,357.6 41.4,357.3 41.8,357.2 42.1,357.2 42.5,357.2 42.8,357.1 43.1,357.3 43.5,357.7 43.8,358 44.2,357.9 44.5,357.5 44.9,357.3 45.2,357.3 45.6,357.3 45.9,357.3 46.3,357.2 46.6,357 47,356.9 47.3,357.1 47.7,357.2 48,357 48.4,356.7 48.7,356.7 49.1,356.8 49.4,357 49.8,357.2 50.1,357.2 50.5,357.3 50.8,357.3 51.2,357.5 51.5,357.6 51.9,357.3 52.2,357 52.6,356.7 52.9,356.8 53.2,356.9 53.6,357 53.9,357 54.3,357 54.6,357 55,356.7 55.3,356.6 55.7,356.6 56,357.1 56.4,357.3 56.7,357.2 57.1,356.9 57.4,356.5 57.8,356.6 58.1,356.9 58.5,357.3 58.8,357.4 59.2,357.5 59.5,357.7 59.9,357.8 60.2,358 60.6,357.9 60.9,357.6 61.3,357.5 61.6,357.6 62,357.5 62.3,357.3 62.7,357.3 63,357.4 63.3,357.2 63.7,356.7 64,356.5 64.4,356.6 64.7,357 65.1,357.4 65.4,357.3 65.8,356.9 66.1,356.7 66.5,357.1 66.8,357.6 67.2,357.9 67.5,357.7 67.9,357.5 68.2,357.3 68.6,357.4 68.9,357.6 69.3,357.3 69.6,356.8 70,356.6 70.3,356.5 70.7,356.4 71,356.4 71.4,356.5 71.7,357 72.1,357.2 72.4,357 72.8,356.7 73.1,356.4 73.4,356.5 73.8,356.7 74.1,356.9 74.5,356.8 74.8,356.9 75.2,357.4 75.5,357.8 75.9,358 76.2,357.9 76.6,357.8 76.9,357.9 77.3,357.9 77.6,357.7 78,357.4 78.3,357.4 78.7,357.4 79,357.2 79.4,357.1 79.7,357.3 80.1,357.7 80.4,357.7 80.8,357.7 81.1,357.5 81.5,357.1 81.8,356.7 82.2,356.7 82.5,357.2 82.9,357.7 83.2,357.9 83.5,357.8 83.9,357.5 84.2,357.3 84.6,357.4 84.9,357.5 85.3,357.3 85.6,357 86,357.1 86.3,357.4 86.7,357.2 87,356.4 87.1,356.1 87.4,353.9 87.6,351 87.7,348.8 87.8,347.3 88.1,345.6 88.3,347.9 88.4,349.5 88.6,351.6 88.8,354.5 89.1,356.3 89.1,356.6 89.5,356.9 89.8,356.7 90.2,356.8 90.5,357.1 90.9,357.2 91.2,357 91.6,356.4 91.9,356 92.3,355.9 92.6,356.1 93,356.6 93.3,357 93.7,357.3 94,357.5 94.3,357.7 94.7,357.8 94.8,357.7 95,357.3 95.3,356.5 95.4,356.1 95.5,355.8 95.7,355 96,355 96.1,355.2 96.2,355.6 96.4,355.9 96.6,355.9 96.7,355.9 96.8,355.9 97.1,355.5 97.5,355 97.7,354.6 97.7,354.9 97.8,354.6 98.2,353.5 98.2,353.3 98.5,352.2 98.5,351.8 98.7,351.5 98.9,351.9 98.9,352.2 99.2,353.5 99.2,353.7 99.6,355 99.7,355.3 99.7,355.5 99.9,355.4 100.3,355.8 100.6,356.3 100.8,356.5 101,356.6 101.3,356.8 101.7,357 102,357 102.4,356.7 102.7,356.4 103.1,356.3 103.4,356.5 103.8,356.8 104.1,357.1 104.4,357 104.8,356.7 105.1,356.6 105.5,356.7 105.8,356.8 106.2,356.6 106.5,356.5 106.9,356.6 107.2,356.8 107.6,355.7 107.7,355.2 107.9,351.3 108.1,346.3 108.3,342.3 108.4,339.4 108.6,335.5 108.9,338.4 109,340.9 109,342.6 109.1,344.2 109.3,347.2 109.5,347.2 109.6,346.7 109.7,345.9 109.8,344.6 110,343.3 110.3,346 110.4,347.9 110.5,350.3 110.7,353.6 111,355.6 111.1,355.9 111.4,355.9 111.7,355 111.8,354.5 112.1,350.6 112.1,350.1 112.4,346 112.5,345 112.6,343.8 112.8,345 112.9,346.1 113.1,350.2 113.2,350.8 113.5,354.8 113.6,355.3 113.9,356.3 114.2,357 114.5,357.3 114.9,357.2 115.2,356.9 115.5,356.4 115.6,356.1 115.9,354.1 116,353.8 116.2,351.9 116.3,351.5 116.5,351.1 116.6,351.6 116.7,352.1 117,354 117,354.3 117.3,356.2 117.4,356.5 117.7,356.8 118,356.8 118.4,356.7 118.7,356.8 119.1,356.9 119.4,357 119.8,357.3 120.1,357.5 120.5,357.6 120.8,357.5 121.2,356.9 121.5,356.4 121.9,356.6 122.2,357 122.6,357.1 122.9,357.1 123.3,357.3 123.6,357.3 124,357.2 124.3,357.2 124.6,357.2 125,357.2 125.3,357.1 125.7,357 126,357.2 126.4,357.1 126.7,357.1 127.1,357 127.4,356.9 127.8,357 128.1,357.2 128.5,357.3 128.8,357.2 129.2,357.2 129.5,357.2 129.9,357.3 130.2,357.2 130.6,357 130.9,356.8 131.3,356.7 131.6,356.8 132,356.9 132.3,356.7 132.7,356.4 133,356.5 133.4,357.1 133.7,357.3 134.1,356.8 134.4,356.3 134.7,356.8 135.1,357.3 135.4,357.1 135.7,356.5 135.8,356.3 136.1,354.9 136.2,354.7 136.4,353.4 136.5,353 136.7,352.6 136.8,353.1 136.9,353.5 137.2,355 137.2,355.2 137.5,356.6 137.6,356.8 137.9,356.8 138.2,356.8 138.6,356.6 138.9,356.5 139.3,356.6 139.6,356.6 140,356.3 140.3,355.9 140.7,356.1 141,356.9 141.4,357.3 141.7,357.5 142.1,357.6 142.4,357.6 142.8,357.5 143.1,357.4 143.5,357.2 143.8,356.8 144.2,356.5 144.5,356.9 144.8,357.2 145.2,357.4 145.5,357.4 145.9,357.2 146.2,356.9 146.6,356.9 146.9,357.3 147.3,357.8 147.6,357.8 148,357.6 148.3,357.6 148.7,357.7 149,357.6 149.4,357.2 149.7,356.9 150.1,357 150.4,356.7 150.8,356.2 151.1,356.3 151.5,356.9 151.8,357.5 152.2,357.7 152.5,357.7 152.9,357.6 153.2,357.5 153.6,357.4 153.9,357.1 154.3,357.1 154.6,357.2 154.9,357.2 155.3,356.7 155.6,356.3 156,356.7 156.3,357.1 156.7,357.2 157,357.2 157.4,357.3 157.7,357.6 158.1,357.7 158.4,357.7 158.8,357.7 159.1,357.8 159.5,357.6 159.5,357.5 159.8,356.6 160,355.2 160.2,354.2 160.3,353.5 160.5,352.4 160.8,353.1 160.9,353.9 161,354.9 161.2,356 161.5,357 161.6,357.1 161.9,357.5 162.3,357.7 162.6,357.8 163,357.9 163.3,357.8 163.7,357.5 164,357.3 164.4,357.2 164.4,357.2 164.7,356.7 164.9,356 165,355.5 165.2,355.1 165.4,354.6 165.6,355.1 165.7,355.5 165.9,356 166.1,356.6 166.4,357 166.4,357 166.8,357.1 167.1,357.2 167.5,357.2 167.8,357.1 168.2,357 168.5,356.9 168.9,356.9 169.2,356.6 169.3,356.5 169.6,355.6 169.8,354.5 169.9,353.3 170,352.5 170.3,351.5 170.5,352.5 170.6,353.3 170.8,354.4 171,356.1 171.2,357.1 171.3,357.3 171.7,357.4 172,357.4 172.4,357.6 172.7,357.4 172.8,357.4 173.1,356.5 173.3,355.4 173.4,354.8 173.5,354.3 173.8,353.7 174,354.6 174.1,355.1 174.2,355.7 174.5,356.7 174.7,357.3 174.8,357.4 175.1,357.5 175.5,357.4 175.6,357.3 175.8,356.9 176.1,356.2 176.2,355.7 176.3,355.3 176.5,354.5 176.8,354.7 176.9,355.1 177,355.6 177.2,356.3 177.5,356.9 177.6,357 177.9,357.2 178.3,357.1 178.4,357 178.6,356.8 178.8,356.5 179,356 179.1,355.6 179.3,355.1 179.6,355.4 179.7,355.8 179.8,356.3 180,356.8 180.3,357.3 180.4,357.3 180.7,357.6 181.1,357.7 181.4,357.8 181.8,357.8 182.1,357.6 182.2,357.5 182.5,357 182.7,356.3 182.8,355.6 182.9,355.1 183.2,354.5 183.4,354.9 183.5,355.4 183.6,356 183.9,356.6 184.1,357 184.2,357.1 184.6,357.1 184.9,357.1 185.2,357 185.6,357 185.9,357.1 186.3,357 186.6,356.9 187,357 187.3,357.2 187.7,357.4 188,357.5 188.4,357.4 188.7,357.2 189.1,357.1 189.4,357.1 189.8,357.3 190.1,357.4 190.5,357.6 190.8,357.5 191.2,357.2 191.5,357 191.9,356.7 192.2,356.2 192.6,355.9 192.9,356.2 193.3,356.6 193.6,356.8 194,356.9 194.3,357.2 194.7,357.6 195,357.6 195.3,357.5 195.7,357.2 196,357 196.4,356.4 196.7,355.7 197.1,356.2 197.4,357.2 197.8,357.4 198.1,357.3 198.5,357.3 198.8,357.4 199.2,357.5 199.5,357.6 199.9,357.6 200.2,357.7 200.6,357.8 200.9,357.8 201.3,357.7 201.6,357.6 202,357.4 202.3,357.3 202.7,357.3 203,357.5 203.4,357.6 203.7,357.4 204.1,357.3 204.4,357.3 204.8,357.4 205.1,357.7 205.4,357.9 205.8,357.8 206.1,357.4 206.5,356.9 206.8,356.6 207.2,357.2 207.5,357.7 207.9,357.8 208.2,357.6 208.6,357.4 208.9,357.4 209.3,357.5 209.6,357.6 210,357.6 210.3,357.6 210.7,357.6 211,357.6 211.4,357.4 211.7,357.1 212.1,356.9 212.4,356.5 212.8,356.2 213.1,356.4 213.5,356.8 213.8,357.1 214.2,357.3 214.5,357.1 214.9,357 215.2,357.1 215.6,357.4 215.9,357.6 216.2,357.4 216.6,357.1 216.9,356.4 217.3,356 217.6,356.4 218,356.9 218.3,357.2 218.7,357.3 219,357.4 219.4,357.5 219.7,357.6 220.1,357.6 220.1,357.5 220.4,357 220.6,356.3 220.8,356 220.9,355.7 221.1,355.5 221.4,356.1 221.5,356.4 221.6,356.8 221.8,357.3 222.1,357.5 222.2,357.5 222.5,357.5 222.9,357.5 223.2,357.4 223.6,357.2 223.9,356.6 224.3,356.2 224.6,356.4 225,356.9 225.3,357.4 225.7,357.6 226,357.6 226.3,357.4 226.7,357.4 227,357.5 227.4,357.7 227.7,357.8 228.1,358 228.4,357.9 228.8,357.8 229.1,357.5 229.5,357.5 229.8,357.6 230.2,357.7 230.5,357.8 230.9,357.8 231.2,357.7 231.6,357.5 231.9,357.2 232.3,357.2 232.6,357.3 233,357.2 233.3,357.2 233.7,357.3 234,357.5 234.4,357.7 234.7,357.7 235.1,357.6 235.4,357.5 235.8,357.5 236.1,357.7 236.4,357.8 236.8,357.8 237.1,357.7 237.5,357.7 237.8,357.8 238.2,357.7 238.5,357.6 238.9,357.4 239.2,357.5 239.6,357.6 239.9,357.7 240.3,357.7 240.6,357.8 241,357.9 241.3,358 241.7,357.9 242,357.7 242.4,357.6 242.7,357.6 243.1,357.5 243.4,357.4 243.8,357.5 244.1,357.8 244.5,358 244.8,358 245.2,358 245.5,358 245.9,357.9 246.2,357.8 246.5,357.5 246.9,356.9 247.2,356.6 247.6,357 247.9,357.4 248.3,357.6 248.6,357.6 249,357.6 249.3,357.5 249.7,357.2 250,357.3 250.4,357.5 250.7,357.6 251.1,357.6 251.4,357.5 251.8,357.6 252.1,357.8 252.5,357.9 252.8,357.8 253.2,357.7 253.5,357.5 253.9,357.3 254.2,357.4 254.6,357.7 254.9,357.9 255.3,357.8 255.6,357.5 256,357.5 256.3,357.7 256.6,357.8 257,357.8 257.3,357.6 257.7,357.4 258,357.3 258.4,357.4 258.7,357.6 259.1,357.9 259.4,358 259.8,357.8 260.1,357.5 260.5,357.2 260.8,356.8 261.2,356.6 261.5,356.9 261.9,357.3 262.2,357.6 262.6,357.8 262.9,357.8 263.3,357.7 263.6,357.5 264,357.6 264.3,357.7 264.7,357.9 265,357.9 265.4,357.7 265.7,357.6 266.1,357.5 266.4,357.2 266.7,356.8 267.1,357 267.4,357.5 267.8,357.7 268.1,357.8 268.5,357.9 268.8,357.9 269.2,357.8 269.5,357.6 269.9,357.4 270.2,357.5 270.6,357.6 270.9,357.8 271.3,357.8 271.6,357.7 272,357.6 272.3,357.7 272.7,357.9 273,357.9 273.4,357.7 273.7,357.7 274.1,357.8 274.4,357.7 274.8,357.6 275.1,357.7 275.5,357.9 275.8,358 276.2,357.8 276.5,357.8" fill="none" stroke="#25c5cb" stroke-width="1.15" stroke-linejoin="round"/>
<path d="M32.7,400.4 33,400.7 33.4,401.3 33.7,401 34.1,400.6 34.4,400.2 34.8,400.3 35.1,400.6 35.5,400.5 35.8,400.8 36.2,400.8 36.5,400.8 36.9,401.1 37.2,401.7 37.6,402.2 37.9,401.9 38.3,401.1 38.6,400.3 39,400.4 39.3,401.2 39.7,401.2 40,400.7 40.4,400.5 40.7,400.7 41.1,400.7 41.4,400.4 41.8,400.4 42.1,400.2 42.5,400.1 42.8,399.5 43.1,398.9 43.5,398.9 43.8,399.7 44.2,400.3 44.5,400.2 44.9,400.1 45.2,400.1 45.6,400.1 45.9,399.7 46.3,399.3 46.6,399.6 47,400.1 47.3,400.4 47.7,400.6 48,400.4 48.4,400.6 48.7,400.8 49.1,400.4 49.4,399.8 49.8,399 50.1,399.1 50.5,399.8 50.8,400.9 51.2,401.5 51.5,401.2 51.9,401 52.2,400.8 52.6,400.5 52.9,400 53.2,400 53.6,400.8 53.9,401.5 54.3,402 54.6,401.8 55,401.5 55.3,401.1 55.7,400.6 56,399.7 56.4,399.2 56.7,399.4 57.1,400.1 57.4,400.5 57.8,400 58.1,399.7 58.5,399.8 58.8,400.3 59.2,400.9 59.5,401.1 59.9,401.1 60.2,400.9 60.6,401.1 60.9,401.4 61.3,401.3 61.6,401.1 62,401 62.3,400.7 62.7,400.7 63,401 63.3,401.7 63.7,402.2 64,402 64.4,401.5 64.7,400.7 65.1,400.2 65.4,400 65.8,399.6 66.1,399.8 66.5,400.6 66.8,401.8 67.2,402.2 67.5,401.5 67.9,400.6 68.2,400.2 68.6,399.9 68.9,400.2 69.3,400.4 69.6,400.6 70,400.5 70.3,400.4 70.7,400.5 71,400 71.4,399.4 71.7,398.9 72.1,399.7 72.4,400.1 72.8,400.1 73.1,400.2 73.4,400.4 73.8,400.3 74.1,399.8 74.5,399.7 74.8,400.4 75.2,400.9 75.5,400.8 75.9,400.8 76.2,401 76.6,400.9 76.9,400.3 77.3,399.9 77.6,400.1 78,400.6 78.3,401 78.7,401.3 79,401.4 79.4,401.4 79.7,401.1 80.1,400.6 80.4,400 80.8,400.2 81.1,400.9 81.5,401.3 81.8,401.4 82.2,400.9 82.5,400.2 82.9,399.7 83.2,399.6 83.5,400.1 83.9,400.7 84.2,401 84.6,400.7 84.9,400 85.3,400.1 85.6,400.5 86,400.3 86.3,399.5 86.7,398.5 87,397.6 87.1,397.3 87.4,395.5 87.6,393.4 87.7,390.9 87.8,389.1 88.1,387.6 88.3,389.5 88.4,391.2 88.6,393.6 88.8,395.8 89.1,397.2 89.1,397.3 89.5,395.9 89.5,395.6 89.8,388.1 89.9,383.8 90.1,373.9 90.2,372.4 90.3,368.7 90.5,372.6 90.6,374.1 90.8,383.9 90.9,388.3 91.2,396 91.2,396.4 91.6,398.5 91.9,399.5 92.3,400.1 92.6,400.1 93,399.7 93.3,399.3 93.7,399.8 94,400.5 94.3,400.3 94.7,399.6 94.8,399.5 95,398.8 95.3,398.2 95.4,397.9 95.5,397.7 95.7,397.4 96,397.8 96.1,398.1 96.2,398.4 96.4,399.2 96.7,400 96.8,400.1 97.1,400.5 97.5,400.4 97.7,399.9 97.8,399.7 98.2,398.8 98.2,398.7 98.5,398.2 98.5,398 98.7,397.7 98.9,398.4 98.9,398.6 99.2,399.6 99.2,399.7 99.6,400.3 99.7,400.4 99.9,400.8 100.3,400.9 100.6,400.6 101,400.6 101.3,400.4 101.7,400.2 102,399.9 102.2,399.5 102.4,399 102.6,397 102.7,396.3 102.8,394.9 103.1,393.7 103.3,394.8 103.4,396.2 103.5,396.9 103.8,398.6 103.9,399.1 104.1,398.9 104.4,399.3 104.8,399.8 105.1,399.9 105.5,399.6 105.8,399.5 106.2,399.6 106.5,399.4 106.9,399.3 107.2,399.1 107.6,398.3 107.7,397.9 107.9,394.7 108.1,390.1 108.3,386.8 108.4,384.3 108.6,381 108.9,384.3 109,386.5 109,387.9 109.1,389.2 109.3,392.5 109.5,392.6 109.6,392.1 109.7,391.4 109.8,390.3 110,389 110.3,391.2 110.4,392.7 110.5,394.8 110.7,397.2 111,398.3 111.1,398.5 111.4,398 111.7,397.8 111.8,397.3 112.1,394.9 112.1,394.4 112.4,391.2 112.5,390.3 112.6,389 112.8,390.1 112.9,390.9 113.1,394.3 113.2,394.8 113.5,398.7 113.6,399.2 113.9,400.2 114.2,399.9 114.5,399.3 114.9,399.3 115.2,399.5 115.5,399.2 115.6,399 115.9,397.1 116,396.9 116.2,395.1 116.3,394.7 116.5,394.2 116.6,395.2 116.7,395.6 117,397.9 117,398.1 117.3,400.1 117.4,400.4 117.7,400.8 118,400.8 118.4,400.9 118.7,400.8 119.1,400.7 119.4,400.8 119.8,401 120.1,401.3 120.5,401.1 120.8,400.4 121.2,399.8 121.5,399.8 121.9,400.6 122.2,401.2 122.6,401.1 122.9,400.9 123.3,401.1 123.6,401.3 124,401.1 124.3,400.2 124.6,399.7 125,400 125.3,400.2 125.7,400 126,399.8 126.4,399.9 126.7,400 127.1,399.6 127.4,399 127.8,399.3 128.1,400.2 128.5,400.9 128.8,401.2 129.2,400.9 129.5,400.9 129.9,400.7 130.2,400.3 130.6,400.1 130.9,400 131.3,400.1 131.6,399.9 132,399.6 132.3,399.3 132.7,399.2 133,399 133.4,399 133.7,398.6 133.9,397.8 134.1,397.1 134.1,396.6 134.4,395.9 134.7,396.7 134.7,397.1 134.9,398.2 135.1,398.9 135.4,399.7 135.7,399.7 135.8,399.4 136.1,397.4 136.2,397.1 136.4,394.8 136.5,394.2 136.7,393.6 136.8,393.8 136.9,394.3 137.2,396.2 137.2,396.5 137.5,398.5 137.6,398.9 137.9,399.4 138.2,400.2 138.6,400.7 138.9,400.7 139.3,400 139.6,399.6 140,400 140.3,400.6 140.7,401.2 141,401.4 141.4,401 141.7,400.5 142.1,400.1 142.4,400.1 142.8,400.4 143.1,400.5 143.5,400.6 143.8,400.4 144.2,400.2 144.5,400.5 144.8,400.5 145.2,400.3 145.5,400.2 145.9,399.9 146.2,400.1 146.6,400 146.9,400.4 147.3,400.6 147.6,400.5 148,400.2 148.3,399.8 148.7,399.8 149,399.8 149.4,399.9 149.7,400.2 150.1,400.7 150.4,400.6 150.8,400.2 151.1,400.3 151.5,400.4 151.8,400.4 152.2,400.3 152.5,400.6 152.9,401.1 153.2,401.2 153.6,400.7 153.9,400.1 154.3,400.4 154.6,401.1 154.9,401.3 155.3,400.7 155.6,400 156,400.2 156.3,400.4 156.7,400.3 157,399.9 157.4,399.6 157.7,399.7 158.1,400.1 158.4,400.3 158.8,400.3 159.1,400.1 159.5,399.7 159.5,399.6 159.8,398.8 160,397.6 160.2,396.6 160.3,395.9 160.5,395.1 160.8,396 160.9,396.8 161,397.7 161.2,399 161.5,399.8 161.6,399.9 161.9,400.1 162.3,400.2 162.6,400.3 163,400.4 163.3,400.5 163.7,400.6 164,400.4 164.4,400.2 164.4,400.2 164.7,400.2 164.9,399.8 165,399.4 165.2,399.1 165.4,398.7 165.6,398.7 165.7,399.1 165.9,399.5 166.1,399.7 166.4,400 166.4,400.1 166.8,400.2 167.1,400.6 167.5,400.5 167.8,400.4 168.2,400.6 168.5,401.1 168.9,401.2 169.2,400.6 169.3,400.5 169.6,399.5 169.8,398 169.9,397 170,396.3 170.3,395 170.5,395.4 170.6,396.1 170.8,397.1 171,398.3 171.2,399.4 171.3,399.5 171.7,400.2 172,400.5 172.4,400.5 172.7,400.1 172.8,400.1 173.1,399.4 173.3,398.7 173.4,398.1 173.5,397.8 173.8,397.4 174,398 174.1,398.4 174.2,399 174.5,399.7 174.7,400.3 174.8,400.4 175.1,400.5 175.5,400.2 175.6,400.1 175.8,399.2 176.1,398.4 176.2,397.9 176.3,397.6 176.5,397 176.8,397.6 176.9,397.9 177,398.4 177.2,399.4 177.5,400.6 177.6,400.6 177.9,401 178.3,400.3 178.4,400.3 178.6,399.3 178.8,398.7 179,398.3 179.1,398 179.3,397.9 179.6,398.5 179.7,398.8 179.8,399.2 180,399.8 180.3,400.2 180.4,400.2 180.7,400.5 181.1,400.9 181.4,401.3 181.8,401.4 182.1,400.8 182.2,400.8 182.5,399.9 182.7,399.2 182.8,398.6 182.9,398.2 183.2,397.7 183.4,398.2 183.5,398.6 183.6,399.2 183.9,399.8 184.1,400.3 184.2,400.3 184.6,400.4 184.9,400.6 185.2,400.7 185.6,400.5 185.9,400.4 186.3,400.4 186.6,400.3 187,400 187.3,399.7 187.7,399.8 188,400 188.4,400.3 188.7,400.4 189.1,400.6 189.4,400.9 189.8,401 190.1,400.7 190.5,400.1 190.8,399.8 191.2,399.6 191.5,399.4 191.9,399.2 192.2,399 192.6,399.1 192.9,399.8 193.3,400.3 193.6,400.4 194,400.4 194.3,400.7 194.7,401.1 195,401.1 195.3,400.6 195.7,400.4 196,400.3 196.4,400 196.7,399.7 197.1,400 197.4,400.3 197.8,400.3 198.1,400.5 198.5,400.8 198.8,400.7 199.2,400.1 199.5,399.8 199.9,400 200.2,400.4 200.6,400.7 200.9,400.7 201.3,400.4 201.6,400.1 202,400.2 202.3,400.4 202.7,400.5 203,400.3 203.4,399.9 203.7,399.9 204.1,400.1 204.4,400.2 204.8,400 205.1,399.9 205.4,400.3 205.8,400.5 206.1,400.4 206.5,399.9 206.8,399.7 207.2,399.9 207.5,400.3 207.9,400.4 208.2,400.6 208.6,400.8 208.9,400.8 209.3,401 209.6,401 210,401 210.3,400.9 210.7,400.9 211,400.9 211.4,400.7 211.7,400.3 212.1,399.6 212.4,398.9 212.8,398.5 213.1,399.1 213.5,399.9 213.8,400.1 214.2,399.9 214.5,400 214.9,400.1 215.2,400.2 215.6,400.3 215.9,400.4 216.2,400.5 216.6,400.3 216.9,399.7 217.3,399.2 217.6,399.9 218,400.5 218.3,400.5 218.7,400.2 219,400 219.4,399.9 219.7,399.8 220.1,399.8 220.1,399.7 220.4,399.5 220.6,399.3 220.8,399 220.9,398.8 221.1,398.9 221.4,399.6 221.5,399.9 221.6,400.1 221.8,400.5 222.1,400.4 222.2,400.4 222.5,400.1 222.9,400.1 223.2,400.3 223.6,400.1 223.9,399.7 224.3,399.3 224.6,399.6 225,399.9 225.3,400 225.7,400.2 226,400.2 226.3,400.5 226.7,400.6 227,400.6 227.4,400.5 227.7,400.4 228.1,400.7 228.4,401.1 228.8,401.4 229.1,401.4 229.5,401.3 229.8,400.9 230.2,400.6 230.5,400.4 230.9,400.3 231.2,400.5 231.6,400.8 231.9,401.1 232.3,401.1 232.6,400.9 233,400.6 233.3,400.4 233.7,400.6 234,400.7 234.4,401 234.7,401.2 235.1,401.2 235.4,400.9 235.8,400.8 236.1,400.7 236.4,400.8 236.8,400.9 237.1,401.1 237.5,401.1 237.8,400.9 238.2,400.6 238.5,400.4 238.9,400.2 239.2,400.2 239.6,400.3 239.9,400.4 240.3,400.6 240.6,401 241,401.3 241.3,401.3 241.7,401.1 242,400.9 242.4,400.6 242.7,400.3 243.1,400.2 243.4,400.3 243.8,400.5 244.1,400.6 244.5,400.3 244.8,400.1 245.2,400 245.5,400.2 245.9,400.3 246.2,400.2 246.5,399.9 246.9,399.6 247.2,399.7 247.6,400.1 247.9,400.3 248.3,400.1 248.6,400.1 249,400.2 249.3,400.1 249.7,400.2 250,400.6 250.4,400.8 250.7,400.5 251.1,400.4 251.4,400.6 251.8,400.9 252.1,401 252.5,401 252.8,400.8 253.2,400.6 253.5,400.6 253.9,400.4 254.2,400.1 254.6,400 254.9,400.2 255.3,400.6 255.6,400.7 256,400.5 256.3,400.4 256.6,400.4 257,400.2 257.3,400 257.7,400.2 258,400.5 258.4,400.7 258.7,400.5 259.1,400.3 259.4,400.3 259.8,400.7 260.1,400.9 260.5,400.8 260.8,400.5 261.2,400.2 261.5,400.3 261.9,400.3 262.2,400.1 262.6,400.1 262.9,400.2 263.3,400.6 263.6,400.7 264,400.4 264.3,400 264.7,399.9 265,400.2 265.4,400.5 265.7,400.6 266.1,400.5 266.4,400.3 266.7,400.2 267.1,400.5 267.4,400.8 267.8,400.7 268.1,400.4 268.5,399.9 268.8,399.9 269.2,400.1 269.5,400.4 269.9,400.6 270.2,400.5 270.6,400.2 270.9,399.9 271.3,399.9 271.6,400.2 272,400.6 272.3,401 272.7,401 273,400.6 273.4,400.4 273.7,400.3 274.1,400.4 274.4,400.6 274.8,400.7 275.1,400.6 275.5,400.5 275.8,400.6 276.2,400.6 276.5,400.4" fill="none" stroke="#9b1ff2" stroke-width="1.15" stroke-linejoin="round"/>
<path d="M32.7,402v2.4M50.1,402v1.6M67.5,402v2.4M84.9,402v1.6M102.4,402v2.4M119.8,402v1.6M137.2,402v2.4M154.6,402v1.6M172,402v2.4M189.4,402v1.6M206.8,402v2.4M224.3,402v1.6M241.7,402v2.4M259.1,402v1.6M276.5,402v2.4" stroke="#000" stroke-width="1.1" fill="none"/>
<text x="32.3" y="414.3" font-size="9.7" font-weight="bold" fill="#000" text-anchor="middle" textLength="11.4" lengthAdjust="spacingAndGlyphs">10</text>
<text x="67.1" y="414.3" font-size="9.7" font-weight="bold" fill="#000" text-anchor="middle" textLength="11.4" lengthAdjust="spacingAndGlyphs">20</text>
<text x="102" y="414.3" font-size="9.7" font-weight="bold" fill="#000" text-anchor="middle" textLength="11.4" lengthAdjust="spacingAndGlyphs">30</text>
<text x="136.8" y="414.3" font-size="9.7" font-weight="bold" fill="#000" text-anchor="middle" textLength="11.4" lengthAdjust="spacingAndGlyphs">40</text>
<text x="171.6" y="414.3" font-size="9.7" font-weight="bold" fill="#000" text-anchor="middle" textLength="11.4" lengthAdjust="spacingAndGlyphs">50</text>
<text x="206.4" y="414.3" font-size="9.7" font-weight="bold" fill="#000" text-anchor="middle" textLength="11.4" lengthAdjust="spacingAndGlyphs">60</text>
<text x="241.3" y="414.3" font-size="9.7" font-weight="bold" fill="#000" text-anchor="middle" textLength="11.4" lengthAdjust="spacingAndGlyphs">70</text>
<text x="276.1" y="414.3" font-size="9.7" font-weight="bold" fill="#000" text-anchor="middle" textLength="11.4" lengthAdjust="spacingAndGlyphs">80</text>
<text x="139.1" y="426.3" font-size="9.5" font-weight="bold" fill="#000" textLength="23.6" lengthAdjust="spacingAndGlyphs">2θ (°)</text>
<text transform="translate(24.6,203) rotate(-90)" font-size="9.3" font-weight="bold" text-anchor="middle" textLength="61" lengthAdjust="spacingAndGlyphs">Intensity (a.u.)</text>
<text x="3.6" y="23.3" font-size="16.8" font-weight="bold" fill="#000" textLength="20.6" lengthAdjust="spacingAndGlyphs">(a)</text>
<text x="140" y="15.8" font-size="9.2" font-weight="bold" fill="#000" textLength="22.8" lengthAdjust="spacingAndGlyphs">H-HA</text>
<text x="178.5" y="15.8" font-size="9.2" font-weight="bold" fill="#000" textLength="32.5" lengthAdjust="spacingAndGlyphs">T-βTCP</text>
<text x="222.7" y="15.8" font-size="9.2" font-weight="bold" fill="#000" textLength="49.6" lengthAdjust="spacingAndGlyphs">M-Monetite</text>
<text x="201.4" y="46.3" font-size="9.3" font-weight="bold" fill="#000" textLength="70.9" lengthAdjust="spacingAndGlyphs">Commercial HA</text>
<text x="227.3" y="385.8" font-size="9.3" font-weight="bold" fill="#000" textLength="45" lengthAdjust="spacingAndGlyphs">Precursor</text>
<text x="238.9" y="109.1" font-size="9.3" font-weight="bold" fill="#000" textLength="21.1" lengthAdjust="spacingAndGlyphs">1100</text>
<text x="272.6" y="109.1" font-size="9.2" font-weight="normal" fill="#000" text-anchor="end" font-family='"Liberation Sans", "WenQuanYi Zen Hei", "Noto Sans CJK SC", sans-serif'>℃</text>
<text x="238.9" y="166.6" font-size="9.3" font-weight="bold" fill="#000" textLength="21.1" lengthAdjust="spacingAndGlyphs">1000</text>
<text x="272.6" y="166.6" font-size="9.2" font-weight="normal" fill="#000" text-anchor="end" font-family='"Liberation Sans", "WenQuanYi Zen Hei", "Noto Sans CJK SC", sans-serif'>℃</text>
<text x="244.2" y="215.2" font-size="9.3" font-weight="bold" fill="#000" textLength="15.8" lengthAdjust="spacingAndGlyphs">900</text>
<text x="272.6" y="215.2" font-size="9.2" font-weight="normal" fill="#000" text-anchor="end" font-family='"Liberation Sans", "WenQuanYi Zen Hei", "Noto Sans CJK SC", sans-serif'>℃</text>
<text x="243" y="261.7" font-size="9.3" font-weight="bold" fill="#000" textLength="15.8" lengthAdjust="spacingAndGlyphs">800</text>
<text x="270.5" y="261.7" font-size="9.2" font-weight="normal" fill="#000" text-anchor="end" font-family='"Liberation Sans", "WenQuanYi Zen Hei", "Noto Sans CJK SC", sans-serif'>℃</text>
<text x="244.2" y="304.3" font-size="9.3" font-weight="bold" fill="#000" textLength="15.8" lengthAdjust="spacingAndGlyphs">700</text>
<text x="271.7" y="304.3" font-size="9.2" font-weight="normal" fill="#000" text-anchor="end" font-family='"Liberation Sans", "WenQuanYi Zen Hei", "Noto Sans CJK SC", sans-serif'>℃</text>
<text x="243.7" y="346.3" font-size="9.3" font-weight="bold" fill="#000" textLength="15.8" lengthAdjust="spacingAndGlyphs">600</text>
<text x="271.2" y="346.3" font-size="9.2" font-weight="normal" fill="#000" text-anchor="end" font-family='"Liberation Sans", "WenQuanYi Zen Hei", "Noto Sans CJK SC", sans-serif'>℃</text>
<g font-size="5" font-weight="bold" text-anchor="middle" fill="#000" stroke="#000" stroke-width="0.22">
<text x="87.8" y="52.8">H</text>
<text x="108" y="42">H</text>
<text x="112.7" y="49.4">H</text>
<text x="115.8" y="53.5">H</text>
<text x="119.6" y="57">H</text>
<text x="136.6" y="55.8">H</text>
<text x="162" y="55.8">H</text>
<text x="171" y="56">H</text>
<text x="108.4" y="207.2">H</text>
<text x="110.9" y="212.8">H</text>
<text x="112.4" y="215.8">H</text>
<text x="115.6" y="218.7">H</text>
<text x="160.1" y="216.3">H</text>
<text x="170" y="221.2">H</text>
<text x="108.4" y="250.4">H</text>
<text x="110.9" y="255.6">H</text>
<text x="112.3" y="257.6">H</text>
<text x="115.8" y="261.9">H</text>
<text x="160.2" y="261.1">H</text>
<text x="169" y="262.8">H</text>
<text x="181.5" y="260.1">H</text>
<text x="107.6" y="292.1">H</text>
<text x="110.4" y="297.1">H</text>
<text x="112" y="299.4">H</text>
<text x="115.2" y="303.6">H</text>
<text x="160.5" y="304.4">H</text>
<text x="169.2" y="303.6">H</text>
<text x="182.7" y="304.8">H</text>
<text x="88" y="344.2">H</text>
<text x="98.2" y="348.1">H</text>
<text x="107.6" y="333.6">H</text>
<text x="112.7" y="341.8">H</text>
<text x="115.8" y="346.1">H</text>
<text x="119.6" y="350.1">H</text>
<text x="136.4" y="349.4">H</text>
<text x="160.7" y="349.8">H</text>
<text x="169.8" y="350.1">H</text>
<text x="183" y="351.4">H</text>
<text x="85.2" y="386.6">H</text>
<text x="107.4" y="380.4">H</text>
<text x="112.2" y="384.8">H</text>
<text x="115" y="389.1">H</text>
<text x="118.3" y="393.6">H</text>
<text x="136.1" y="392.8">H</text>
<text x="160.9" y="392.4">H</text>
<text x="172.3" y="391.6">H</text>
<text x="183.8" y="395.4">H</text>
<text x="35.1" y="114.7">T</text>
<text x="45.3" y="113.5">T</text>
<text x="56.7" y="108">T</text>
<text x="73.3" y="113.5">T</text>
<text x="86.5" y="107.5">T</text>
<text x="93.6" y="92.8">T</text>
<text x="101.2" y="114.7">T</text>
<text x="105.3" y="69.3">T</text>
<text x="110.4" y="114.7">T</text>
<text x="113" y="117.8">T</text>
<text x="117.3" y="91">T</text>
<text x="123.6" y="118.2">T</text>
<text x="128" y="118.2">T</text>
<text x="136.4" y="117.2">T</text>
<text x="140.2" y="115.8">T</text>
<text x="144.2" y="117.8">T</text>
<text x="160.8" y="112.3">T</text>
<text x="166.5" y="116.2">T</text>
<text x="182.5" y="112.2">T</text>
<text x="204.6" y="117.2">T</text>
<text x="35.6" y="174.4">T</text>
<text x="44.5" y="170.1">T</text>
<text x="55.4" y="166.8">T</text>
<text x="73.8" y="170.7">T</text>
<text x="87" y="165.1">T</text>
<text x="94.1" y="149.8">T</text>
<text x="100.7" y="169.6">T</text>
<text x="105.3" y="130.7">T</text>
<text x="110.7" y="167.6">T</text>
<text x="113.2" y="173.9">T</text>
<text x="116.8" y="143.3">T</text>
<text x="122.9" y="174.7">T</text>
<text x="126.7" y="174.7">T</text>
<text x="134.8" y="173.9">T</text>
<text x="139.4" y="172.2">T</text>
<text x="143.7" y="174.7">T</text>
<text x="160" y="169.1">T</text>
<text x="165.2" y="171.1">T</text>
<text x="182" y="168.1">T</text>
<text x="204.6" y="173.9">T</text>
<text x="34.6" y="216.8">T</text>
<text x="44.5" y="218.2">T</text>
<text x="56.5" y="214.8">T</text>
<text x="73" y="219.8">T</text>
<text x="87.3" y="213.6">T</text>
<text x="93.6" y="203.3">T</text>
<text x="100.5" y="218.7">T</text>
<text x="105.6" y="190.7">T</text>
<text x="116.8" y="200.8">T</text>
<text x="127.5" y="221.2">T</text>
<text x="135.1" y="218.7">T</text>
<text x="140.3" y="220.4">T</text>
<text x="144.3" y="222.4">T</text>
<text x="164.2" y="219.8">T</text>
<text x="182" y="216.2">T</text>
<text x="35.6" y="259.4">T</text>
<text x="56.7" y="257.6">T</text>
<text x="73.8" y="262.6">T</text>
<text x="88.3" y="256.8">T</text>
<text x="93.9" y="250.9">T</text>
<text x="101.2" y="262.6">T</text>
<text x="105.6" y="243.6">T</text>
<text x="117" y="250.4">T</text>
<text x="134.8" y="258.8">T</text>
<text x="87.5" y="297.9">T</text>
<text x="94.1" y="304.4">T</text>
<text x="100" y="306.1">T</text>
<text x="105" y="302.2">T</text>
<text x="117.8" y="308.1">T</text>
<text x="89.8" y="366.9">M</text>
<text x="103" y="391.8">M</text>
<text x="131.8" y="395.8">M</text>
</g>
</g>
<g id="panel-b">
<path d="M334,6.2V402.1" stroke="#ffb574" stroke-width="1.3" stroke-dasharray="3.6 3" fill="none"/>
<path d="M341.9,6.2V402.1" stroke="#909090" stroke-width="1.3" stroke-dasharray="3.6 3" fill="none"/>
<path d="M463.4,6.2V402.1" stroke="#74ee74" stroke-width="1.3" stroke-dasharray="3.6 3" fill="none"/>
<path d="M469.1,6.2V402.1" stroke="#74ee74" stroke-width="1.3" stroke-dasharray="3.6 3" fill="none"/>
<path d="M478.4,6.2V402.1" stroke="#74ee74" stroke-width="1.3" stroke-dasharray="3.6 3" fill="none"/>
<path d="M479.9,6.2V402.1" stroke="#74ee74" stroke-width="1.3" stroke-dasharray="3.6 3" fill="none"/>
<path d="M499.7,6.2V402.1" stroke="#a0d4ee" stroke-width="1.3" stroke-dasharray="3.6 3" fill="none"/>
<path d="M502.9,6.2V402.1" stroke="#a0d4ee" stroke-width="1.3" stroke-dasharray="3.6 3" fill="none"/>
<path d="M508,6.2V402.1" stroke="#a0d4ee" stroke-width="1.3" stroke-dasharray="3.6 3" fill="none"/>
<path d="M530.7,6.2V402.1" stroke="#ffb574" stroke-width="1.3" stroke-dasharray="3.6 3" fill="none"/>
<path d="M532.8,6.2V402.1" stroke="#a0d4ee" stroke-width="1.3" stroke-dasharray="3.6 3" fill="none"/>
<path d="M535.1,6.2V402.1" stroke="#a0d4ee" stroke-width="1.3" stroke-dasharray="3.6 3" fill="none"/>
<clipPath id="cb"><rect x="304.5" y="5" width="235.2" height="397.6"/></clipPath>
<g clip-path="url(#cb)">
<path d="M304.5,49.6 304.8,49.6 305.1,49.7 305.4,49.7 305.7,49.6 306,49.6 306.3,49.7 306.6,49.7 306.9,49.6 307.2,49.6 307.5,49.6 307.8,49.6 308.1,49.6 308.4,49.6 308.7,49.6 309,49.6 309.3,49.6 309.6,49.6 309.9,49.6 310.2,49.6 310.5,49.6 310.8,49.6 311.1,49.6 311.4,49.6 311.7,49.6 312,49.6 312.3,49.6 312.6,49.5 312.9,49.5 313.2,49.6 313.5,49.6 313.8,49.6 314.1,49.6 314.4,49.6 314.7,49.6 315,49.6 315.3,49.7 315.6,49.6 315.9,49.6 316.2,49.6 316.5,49.6 316.8,49.6 317.1,49.6 317.4,49.7 317.7,49.7 318,49.7 318.3,49.7 318.6,49.7 318.9,49.8 319.2,49.8 319.5,49.8 319.8,49.9 320.1,49.9 320.4,49.9 320.7,50 321,50 321.3,50 321.6,50 321.9,50.1 322.2,50.2 322.5,50.2 322.8,50.3 323.1,50.4 323.4,50.4 323.7,50.6 324,50.6 324.3,50.7 324.6,50.8 324.9,50.9 325.2,51.1 325.5,51.2 325.8,51.4 326.1,51.5 326.4,51.7 326.7,51.8 327,52 327.3,52.2 327.6,52.4 327.9,52.6 328.2,52.9 328.5,53.1 328.8,53.4 329.1,53.7 329.4,54 329.7,54.2 330,54.5 330.3,54.9 330.6,55.3 330.9,55.6 331.2,55.9 331.5,56.4 331.8,56.8 332.1,57.2 332.4,57.6 332.7,58 333,58.4 333.3,58.9 333.6,59.3 333.9,59.8 334.2,60.2 334.5,60.7 334.8,61.1 335.1,61.6 335.4,62.1 335.7,62.5 336,62.9 336.3,63.3 336.6,63.7 336.9,64.1 337.2,64.5 337.5,64.9 337.8,65.2 338.1,65.5 338.4,65.8 338.7,66.1 339,66.3 339.3,66.6 339.6,66.8 339.9,67 340.2,67.2 340.5,67.3 340.8,67.4 341.1,67.4 341.4,67.4 341.7,67.4 342,67.4 342.3,67.5 342.6,67.4 342.9,67.4 343.2,67.4 343.5,67.3 343.8,67.2 344.1,67.1 344.4,67 344.7,66.8 345,66.7 345.3,66.5 345.6,66.5 345.9,66.2 346.2,66.1 346.5,65.9 346.8,65.7 347.1,65.5 347.4,65.3 347.7,65.1 348,64.8 348.3,64.6 348.6,64.4 348.9,64.2 349.2,63.9 349.5,63.7 349.8,63.4 350.1,63.2 350.4,62.9 350.7,62.7 351,62.4 351.3,62.2 351.6,61.9 351.9,61.6 352.2,61.3 352.5,61.1 352.8,60.8 353.1,60.5 353.4,60.2 353.7,59.9 354,59.6 354.3,59.4 354.6,59.1 354.9,58.9 355.2,58.6 355.5,58.4 355.8,58.2 356.1,57.9 356.4,57.7 356.7,57.5 357,57.2 357.3,57 357.6,56.8 357.9,56.5 358.2,56.3 358.5,56.1 358.8,55.9 359.1,55.8 359.4,55.5 359.7,55.4 360,55.2 360.3,55 360.6,54.9 360.9,54.6 361.2,54.5 361.5,54.3 361.8,54.1 362.1,54 362.4,53.9 362.7,53.8 363,53.6 363.3,53.5 363.6,53.5 363.9,53.3 364.2,53.2 364.5,53.1 364.8,53 365.1,52.9 365.4,52.8 365.7,52.7 366,52.6 366.3,52.5 366.6,52.4 366.9,52.3 367.2,52.2 367.5,52.1 367.8,52.1 368.1,52 368.4,51.9 368.7,51.9 369,51.8 369.3,51.8 369.6,51.7 369.9,51.7 370.2,51.7 370.5,51.6 370.8,51.5 371.1,51.5 371.4,51.5 371.7,51.4 372,51.3 372.3,51.2 372.6,51.2 372.9,51.2 373.2,51.1 373.5,51.1 373.8,51.1 374.1,51.1 374.4,51.1 374.7,51.1 375,51 375.3,51 375.6,51 375.9,50.9 376.2,50.9 376.5,50.9 376.8,50.9 377.1,50.9 377.4,50.9 377.7,50.8 378,50.8 378.3,50.7 378.6,50.7 378.9,50.7 379.2,50.7 379.5,50.6 379.8,50.6 380.1,50.7 380.4,50.6 380.7,50.6 381,50.5 381.3,50.6 381.6,50.6 381.9,50.6 382.2,50.6 382.5,50.5 382.8,50.5 383.1,50.5 383.4,50.4 383.7,50.4 384,50.4 384.3,50.4 384.6,50.4 384.9,50.4 385.2,50.4 385.5,50.3 385.8,50.3 386.1,50.3 386.4,50.3 386.7,50.3 387,50.3 387.3,50.3 387.6,50.2 387.9,50.2 388.2,50.2 388.5,50.2 388.8,50.2 389.1,50.2 389.4,50.2 389.7,50.2 390,50.1 390.3,50.2 390.6,50.2 390.9,50.1 391.2,50.2 391.5,50.1 391.8,50.1 392.1,50.1 392.4,50.1 392.7,50.1 393,50.1 393.3,50.1 393.6,50.1 393.9,50 394.2,50.1 394.5,50.1 394.8,50 395.1,50 395.4,50 395.7,50 396,50 396.3,49.9 396.6,50 396.9,49.9 397.2,49.9 397.5,49.9 397.8,49.9 398.1,49.9 398.4,49.9 398.7,49.9 399,49.9 399.3,49.9 399.6,49.9 399.9,49.9 400.2,49.9 400.5,49.9 400.8,49.9 401.1,49.8 401.4,49.8 401.7,49.9 402,49.8 402.3,49.8 402.6,49.8 402.9,49.8 403.2,49.8 403.5,49.8 403.8,49.8 404.1,49.8 404.4,49.8 404.7,49.8 405,49.8 405.3,49.8 405.6,49.8 405.9,49.8 406.2,49.8 406.5,49.8 406.8,49.8 407.1,49.8 407.4,49.7 407.7,49.7 408,49.7 408.3,49.7 408.6,49.7 408.9,49.7 409.2,49.7 409.5,49.7 409.8,49.7 410.1,49.6 410.4,49.7 410.7,49.7 411,49.8 411.3,49.8 411.6,49.7 411.9,49.7 412.2,49.7 412.5,49.7 412.8,49.7 413.1,49.7 413.4,49.7 413.7,49.7 414,49.7 414.3,49.6 414.6,49.6 414.9,49.6 415.2,49.7 415.5,49.6 415.8,49.7 416.1,49.7 416.4,49.6 416.7,49.7 417,49.7 417.3,49.7 417.6,49.7 417.9,49.7 418.2,49.7 418.5,49.6 418.8,49.7 419.1,49.6 419.4,49.6 419.7,49.6 420,49.6 420.3,49.7 420.6,49.7 420.9,49.7 421.2,49.7 421.5,49.6 421.8,49.6 422.1,49.6 422.4,49.6 422.7,49.6 423,49.6 423.3,49.6 423.6,49.6 423.9,49.6 424.2,49.5 424.5,49.5 424.8,49.6 425.1,49.6 425.4,49.6 425.7,49.7 426,49.6 426.3,49.6 426.6,49.7 426.9,49.6 427.2,49.6 427.5,49.6 427.8,49.6 428.1,49.6 428.4,49.6 428.7,49.7 429,49.7 429.3,49.7 429.6,49.7 429.9,49.7 430.2,49.6 430.5,49.6 430.8,49.6 431.1,49.6 431.4,49.6 431.7,49.5 432,49.5 432.3,49.5 432.6,49.6 432.9,49.6 433.2,49.6 433.5,49.7 433.8,49.6 434.1,49.6 434.4,49.6 434.7,49.5 435,49.6 435.3,49.6 435.6,49.5 435.9,49.6 436.2,49.6 436.5,49.6 436.8,49.6 437.1,49.6 437.4,49.5 437.7,49.6 438,49.6 438.3,49.6 438.6,49.6 438.9,49.6 439.2,49.6 439.5,49.6 439.8,49.6 440.1,49.6 440.4,49.6 440.7,49.7 441,49.6 441.3,49.6 441.6,49.5 441.9,49.6 442.2,49.7 442.5,49.7 442.8,49.7 443.1,49.6 443.4,49.7 443.7,49.6 444,49.6 444.3,49.7 444.6,49.6 444.9,49.6 445.2,49.6 445.5,49.6 445.8,49.6 446.1,49.6 446.4,49.6 446.7,49.7 447,49.7 447.3,49.6 447.6,49.6 447.9,49.6 448.2,49.6 448.5,49.6 448.8,49.5 449.1,49.6 449.4,49.6 449.7,49.6 450,49.6 450.3,49.6 450.6,49.6 450.9,49.6 451.2,49.7 451.5,49.7 451.8,49.6 452.1,49.7 452.4,49.7 452.7,49.7 453,49.7 453.3,49.7 453.6,49.7 453.9,49.7 454.2,49.7 454.5,49.7 454.8,49.8 455.1,49.8 455.3,49.8 455.4,49.8 455.6,49.8 455.7,49.9 455.9,49.9 456,49.9 456.2,49.9 456.3,49.9 456.5,49.9 456.6,50 456.8,50 456.9,50 457.1,50 457.2,50 457.4,50 457.5,50.1 457.7,50.2 457.8,50.2 458,50.3 458.1,50.3 458.3,50.3 458.4,50.3 458.6,50.4 458.7,50.4 458.9,50.5 459,50.6 459.2,50.7 459.3,50.7 459.5,50.7 459.6,50.8 459.8,50.8 459.9,51 460.1,51.1 460.2,51.1 460.4,51.2 460.5,51.4 460.7,51.5 460.8,51.7 461,51.9 461.1,52 461.3,52.2 461.4,52.5 461.6,52.7 461.7,53 461.9,53.2 462,53.4 462.2,53.7 462.3,53.9 462.5,54.2 462.6,54.4 462.8,54.6 462.9,54.8 463.1,54.9 463.2,55 463.4,55.2 463.5,55.3 463.7,55.2 463.8,55.2 464,55.2 464.1,55.1 464.3,55 464.4,54.8 464.6,54.6 464.7,54.5 464.9,54.3 465,54.1 465.2,53.9 465.3,53.8 465.5,53.6 465.6,53.4 465.8,53.3 465.9,53.1 466.1,53 466.2,52.8 466.4,52.7 466.5,52.7 466.7,52.6 466.8,52.5 467,52.4 467.1,52.3 467.3,52.3 467.4,52.2 467.6,52.1 467.7,52.1 467.9,52.1 468,52.1 468.2,52 468.3,52 468.5,51.9 468.6,52 468.8,52 468.9,51.9 469.1,51.9 469.2,51.9 469.4,51.9 469.5,51.8 469.7,51.9 469.8,51.8 470,51.8 470.1,51.8 470.3,51.8 470.4,51.8 470.6,51.8 470.7,51.8 470.9,51.7 471,51.8 471.2,51.7 471.3,51.7 471.5,51.7 471.6,51.7 471.8,51.7 471.9,51.7 472.1,51.7 472.2,51.7 472.4,51.7 472.5,51.7 472.7,51.7 472.8,51.7 473,51.7 473.1,51.6 473.3,51.6 473.4,51.7 473.6,51.7 473.7,51.7 473.9,51.8 474,51.7 474.2,51.7 474.3,51.8 474.5,51.8 474.6,51.9 474.8,51.9 474.9,52 475.1,52.1 475.2,52.2 475.4,52.2 475.5,52.3 475.7,52.5 475.8,52.5 476,52.7 476.1,52.8 476.3,53 476.4,53 476.6,53.2 476.7,53.3 476.9,53.4 477,53.5 477.2,53.7 477.3,53.8 477.5,53.9 477.6,54 477.8,54.1 477.9,54.1 478.1,54.1 478.2,54.2 478.4,54.2 478.5,54.2 478.7,54.1 478.8,54.1 479,54.1 479.1,54 479.3,53.9 479.4,53.8 479.6,53.6 479.7,53.5 479.9,53.4 480,53.2 480.2,53.1 480.3,52.9 480.5,52.7 480.6,52.6 480.8,52.4 480.9,52.3 481.1,52.1 481.2,52 481.4,51.8 481.5,51.6 481.7,51.5 481.8,51.3 482,51.2 482.1,51.1 482.3,51 482.4,50.9 482.6,50.8 482.7,50.7 482.9,50.6 483,50.6 483.2,50.6 483.3,50.5 483.5,50.4 483.6,50.4 483.8,50.3 483.9,50.3 484.1,50.2 484.2,50.2 484.4,50.2 484.5,50.2 484.7,50.2 484.8,50.1 485,50.1 485.1,50 485.3,50 485.4,50 485.6,50 485.7,50 485.9,49.9 486,49.9 486.2,49.9 486.3,49.9 486.5,50 486.6,50 486.8,50 486.9,50 487.1,49.9 487.2,49.9 487.4,49.8 487.5,49.8 487.7,49.8 487.8,49.8 488,49.8 488.1,49.8 488.3,49.7 488.4,49.7 488.6,49.7 488.7,49.7 488.9,49.7 489,49.8 489.2,49.8 489.3,49.8 489.5,49.8 489.6,49.8 489.8,49.9 489.9,49.9 490.1,49.9 490.2,49.9 490.4,49.9 490.5,49.9 490.7,49.9 490.8,49.9 491,50 491.1,50 491.3,50.1 491.4,50.1 491.6,50.2 491.7,50.3 491.9,50.3 492,50.4 492.2,50.4 492.3,50.6 492.5,50.7 492.6,50.8 492.8,51 492.9,51.1 493,51.3 493.2,51.5 493.3,51.7 493.5,51.9 493.6,52.1 493.8,52.3 493.9,52.5 494.1,52.7 494.2,53 494.4,53.2 494.5,53.4 494.7,53.7 494.8,54.1 495,54.4 495.1,54.7 495.3,55.1 495.4,55.4 495.6,55.8 495.7,56.2 495.9,56.6 496,57.1 496.2,57.6 496.3,58.2 496.5,58.8 496.6,59.6 496.8,60.4 496.9,61.2 497.1,62.2 497.2,63.2 497.4,64.3 497.5,65.5 497.7,66.7 497.8,68 498,69.3 498.1,70.7 498.3,72.2 498.4,73.5 498.6,74.8 498.7,76.1 498.9,77.4 499,78.5 499.2,79.5 499.3,80.5 499.5,81.5 499.6,82.2 499.8,82.9 499.9,83.5 500.1,84.1 500.2,84.7 500.4,85.3 500.5,85.9 500.7,86.5 500.8,87 501,87.6 501.1,88.2 501.3,88.8 501.4,89.4 501.6,90 501.7,90.7 501.9,91.2 502,91.6 502.2,92 502.3,92.1 502.5,92.1 502.6,92 502.8,91.6 502.9,91 503.1,90.3 503.2,89.5 503.4,88.5 503.5,87.3 503.7,85.9 503.8,84.4 504,82.8 504.1,81.2 504.3,79.3 504.4,77.5 504.6,75.7 504.7,73.8 504.9,71.9 505,70 505.2,68.1 505.3,66.4 505.5,64.7 505.6,63.1 505.8,61.6 505.9,60.3 506.1,59 506.2,57.8 506.4,56.8 506.5,55.9 506.7,55.1 506.8,54.5 507,54 507.1,53.7 507.3,53.4 507.4,53.2 507.6,53 507.7,52.8 507.9,52.5 508,52.2 508.2,51.9 508.3,51.5 508.5,51.3 508.6,51 508.8,50.6 508.9,50.4 509.1,50.2 509.2,50.1 509.4,50 509.5,49.8 509.7,49.7 509.8,49.7 510,49.7 510.1,49.6 510.3,49.7 510.4,49.6 510.6,49.6 510.7,49.7 510.9,49.6 511,49.6 511.2,49.6 511.3,49.6 511.5,49.6 511.6,49.6 511.8,49.6 511.9,49.6 512.1,49.6 512.2,49.6 512.4,49.6 512.5,49.6 512.7,49.6 512.8,49.6 513,49.6 513.1,49.7 513.3,49.6 513.4,49.6 513.6,49.6 513.7,49.7 513.9,49.6 514,49.6 514.2,49.6 514.3,49.6 514.5,49.6 514.6,49.6 514.8,49.6 514.9,49.6 515.1,49.6 515.2,49.6 515.4,49.6 515.5,49.6 515.7,49.6 515.8,49.6 516,49.6 516.1,49.6 516.3,49.6 516.4,49.5 516.6,49.6 516.7,49.6 516.9,49.6 517,49.6 517.2,49.6 517.3,49.6 517.5,49.6 517.6,49.5 517.8,49.6 517.9,49.6 518.1,49.6 518.2,49.6 518.4,49.6 518.5,49.6 518.7,49.6 518.8,49.6 519,49.6 519.1,49.6 519.3,49.6 519.4,49.6 519.6,49.6 519.7,49.7 519.9,49.7 520,49.7 520.2,49.7 520.3,49.6 520.5,49.6 520.6,49.6 520.8,49.6 520.9,49.6 521.1,49.6 521.2,49.6 521.4,49.6 521.5,49.6 521.7,49.6 521.8,49.6 522,49.6 522.1,49.7 522.3,49.7 522.4,49.6 522.6,49.6 522.7,49.7 522.9,49.6 523,49.6 523.2,49.6 523.3,49.6 523.5,49.6 523.6,49.6 523.8,49.6 523.9,49.6 524.1,49.5 524.2,49.5 524.4,49.6 524.5,49.6 524.7,49.6 524.8,49.6 525,49.6 525.1,49.6 525.3,49.6 525.4,49.6 525.6,49.6 525.7,49.6 525.9,49.6 526,49.6 526.2,49.6 526.3,49.6 526.5,49.7 526.6,49.7 526.8,49.7 526.9,49.7 527.1,49.8 527.2,49.8 527.4,49.8 527.5,49.9 527.7,50 527.8,50 528,50.1 528.1,50.1 528.3,50.1 528.4,50.2 528.6,50.3 528.7,50.5 528.9,50.6 529,50.8 529.2,51.1 529.3,51.4 529.5,51.9 529.6,52.4 529.8,52.9 529.9,53.4 530.1,54 530.2,54.5 530.4,55 530.5,55.6 530.7,56.1 530.8,56.6 531,57.3 531.1,58.2 531.3,59.3 531.4,60.7 531.6,62.3 531.7,63.9 531.9,65.5 532,66.7 532.2,67.4 532.3,67.6 532.5,67.1 532.6,66.1 532.8,64.8 532.9,63.4 533.1,62.1 533.2,61.2 533.4,60.8 533.5,61 533.7,61.7 533.8,62.9 534,64.5 534.1,66.2 534.3,68 534.4,69.6 534.6,70.9 534.7,71.7 534.9,71.8 535,71.4 535.2,70.3 535.3,68.7 535.5,66.7 535.6,64.5 535.8,62.3 535.9,60.2 536.1,58.3 536.2,56.5 536.4,55.1 536.5,54 536.7,53.1 536.8,52.4 537,51.9 537.1,51.5 537.3,51.2 537.4,50.9 537.6,50.8 537.7,50.6 537.9,50.6 538,50.5 538.2,50.4 538.3,50.3 538.5,50.2 538.6,50.1 538.8,50 538.9,50 539.1,49.9 539.2,49.9 539.4,49.9 539.5,49.8 539.7,49.8" fill="none" stroke="#1f7ac4" stroke-width="1.2" stroke-linejoin="round"/>
<path d="M304.5,99.6 304.8,99.6 305.1,99.6 305.4,99.6 305.7,99.6 306,99.6 306.3,99.6 306.6,99.6 306.9,99.6 307.2,99.6 307.5,99.5 307.8,99.6 308.1,99.6 308.4,99.6 308.7,99.6 309,99.6 309.3,99.6 309.6,99.5 309.9,99.6 310.2,99.6 310.5,99.7 310.8,99.7 311.1,99.6 311.4,99.6 311.7,99.6 312,99.6 312.3,99.6 312.6,99.6 312.9,99.6 313.2,99.7 313.5,99.6 313.8,99.7 314.1,99.7 314.4,99.7 314.7,99.7 315,99.7 315.3,99.7 315.6,99.7 315.9,99.7 316.2,99.7 316.5,99.8 316.8,99.8 317.1,99.8 317.4,99.9 317.7,99.9 318,100 318.3,100 318.6,100 318.9,100 319.2,100 319.5,100.1 319.8,100.1 320.1,100.3 320.4,100.3 320.7,100.4 321,100.4 321.3,100.5 321.6,100.6 321.9,100.8 322.2,100.8 322.5,100.9 322.8,101 323.1,101.2 323.4,101.4 323.7,101.6 324,101.7 324.3,101.9 324.6,102.1 324.9,102.3 325.2,102.6 325.5,102.8 325.8,103.1 326.1,103.3 326.4,103.6 326.7,103.9 327,104.3 327.3,104.6 327.6,105 327.9,105.4 328.2,105.7 328.5,106.1 328.8,106.6 329.1,107.1 329.4,107.6 329.7,108.1 330,108.6 330.3,109.2 330.6,109.8 330.9,110.3 331.2,110.9 331.5,111.5 331.8,112.1 332.1,112.7 332.4,113.3 332.7,113.9 333,114.5 333.3,115.2 333.6,115.8 333.9,116.5 334.2,117.2 334.5,117.8 334.8,118.5 335.1,119.2 335.4,119.7 335.7,120.3 336,120.9 336.3,121.5 336.6,122.1 336.9,122.6 337.2,123.2 337.5,123.7 337.8,124.3 338.1,124.7 338.4,125.1 338.7,125.5 339,125.9 339.3,126.2 339.6,126.5 339.9,126.7 340.2,126.9 340.5,127.1 340.8,127.2 341.1,127.4 341.4,127.4 341.7,127.4 342,127.4 342.3,127.4 342.6,127.3 342.9,127.2 343.2,127.1 343.5,126.9 343.8,126.7 344.1,126.6 344.4,126.4 344.7,126.1 345,125.9 345.3,125.6 345.6,125.3 345.9,125 346.2,124.7 346.5,124.3 346.8,124 347.1,123.6 347.4,123.2 347.7,122.7 348,122.3 348.3,121.9 348.6,121.5 348.9,121 349.2,120.6 349.5,120.2 349.8,119.7 350.1,119.3 350.4,118.8 350.7,118.3 351,117.8 351.3,117.3 351.6,116.9 351.9,116.4 352.2,116 352.5,115.6 352.8,115.1 353.1,114.6 353.4,114.2 353.7,113.8 354,113.4 354.3,112.9 354.6,112.5 354.9,112 355.2,111.7 355.5,111.2 355.8,110.9 356.1,110.5 356.4,110.2 356.7,109.8 357,109.4 357.3,109.1 357.6,108.7 357.9,108.5 358.2,108.1 358.5,107.9 358.8,107.6 359.1,107.3 359.4,107 359.7,106.8 360,106.5 360.3,106.3 360.6,106.1 360.9,105.9 361.2,105.7 361.5,105.5 361.8,105.3 362.1,105 362.4,104.9 362.7,104.8 363,104.6 363.3,104.4 363.6,104.3 363.9,104.1 364.2,103.9 364.5,103.8 364.8,103.7 365.1,103.6 365.4,103.5 365.7,103.4 366,103.3 366.3,103.2 366.6,103.1 366.9,103 367.2,102.9 367.5,102.9 367.8,102.8 368.1,102.7 368.4,102.6 368.7,102.5 369,102.5 369.3,102.5 369.6,102.5 369.9,102.4 370.2,102.3 370.5,102.2 370.8,102.2 371.1,102.2 371.4,102.2 371.7,102.1 372,102 372.3,102 372.6,102 372.9,102 373.2,101.9 373.5,101.9 373.8,101.9 374.1,101.8 374.4,101.8 374.7,101.8 375,101.7 375.3,101.6 375.6,101.6 375.9,101.6 376.2,101.6 376.5,101.6 376.8,101.6 377.1,101.5 377.4,101.4 377.7,101.4 378,101.3 378.3,101.3 378.6,101.3 378.9,101.3 379.2,101.2 379.5,101.2 379.8,101.2 380.1,101.2 380.4,101.2 380.7,101.1 381,101.1 381.3,101.1 381.6,101.1 381.9,101 382.2,101 382.5,101 382.8,101 383.1,101 383.4,100.9 383.7,100.9 384,100.9 384.3,100.8 384.6,100.8 384.9,100.8 385.2,100.8 385.5,100.7 385.8,100.7 386.1,100.8 386.4,100.7 386.7,100.7 387,100.7 387.3,100.6 387.6,100.6 387.9,100.6 388.2,100.5 388.5,100.5 388.8,100.6 389.1,100.5 389.4,100.5 389.7,100.5 390,100.5 390.3,100.4 390.6,100.4 390.9,100.4 391.2,100.4 391.5,100.4 391.8,100.4 392.1,100.3 392.4,100.3 392.7,100.3 393,100.3 393.3,100.3 393.6,100.3 393.9,100.3 394.2,100.2 394.5,100.2 394.8,100.3 395.1,100.2 395.4,100.2 395.7,100.1 396,100.1 396.3,100.1 396.6,100.1 396.9,100.1 397.2,100.2 397.5,100.2 397.8,100.2 398.1,100.1 398.4,100.1 398.7,100 399,100.1 399.3,100.1 399.6,100.1 399.9,100 400.2,100 400.5,100 400.8,100 401.1,100 401.4,100 401.7,100 402,100 402.3,99.9 402.6,99.9 402.9,99.9 403.2,99.9 403.5,99.9 403.8,99.9 404.1,99.8 404.4,99.9 404.7,99.9 405,99.8 405.3,99.8 405.6,99.8 405.9,99.8 406.2,99.8 406.5,99.8 406.8,99.8 407.1,99.8 407.4,99.8 407.7,99.8 408,99.8 408.3,99.8 408.6,99.8 408.9,99.8 409.2,99.8 409.5,99.8 409.8,99.8 410.1,99.8 410.4,99.7 410.7,99.7 411,99.7 411.3,99.7 411.6,99.7 411.9,99.7 412.2,99.7 412.5,99.7 412.8,99.7 413.1,99.8 413.4,99.8 413.7,99.8 414,99.7 414.3,99.7 414.6,99.8 414.9,99.7 415.2,99.8 415.5,99.8 415.8,99.7 416.1,99.8 416.4,99.8 416.7,99.8 417,99.7 417.3,99.7 417.6,99.7 417.9,99.7 418.2,99.7 418.5,99.7 418.8,99.7 419.1,99.7 419.4,99.7 419.7,99.7 420,99.7 420.3,99.7 420.6,99.7 420.9,99.7 421.2,99.7 421.5,99.7 421.8,99.7 422.1,99.6 422.4,99.6 422.7,99.6 423,99.6 423.3,99.7 423.6,99.6 423.9,99.6 424.2,99.6 424.5,99.6 424.8,99.6 425.1,99.6 425.4,99.6 425.7,99.6 426,99.6 426.3,99.6 426.6,99.6 426.9,99.7 427.2,99.7 427.5,99.6 427.8,99.6 428.1,99.6 428.4,99.6 428.7,99.6 429,99.7 429.3,99.7 429.6,99.6 429.9,99.6 430.2,99.6 430.5,99.6 430.8,99.6 431.1,99.6 431.4,99.6 431.7,99.6 432,99.6 432.3,99.6 432.6,99.6 432.9,99.7 433.2,99.7 433.5,99.7 433.8,99.6 434.1,99.6 434.4,99.6 434.7,99.6 435,99.6 435.3,99.6 435.6,99.7 435.9,99.6 436.2,99.6 436.5,99.6 436.8,99.6 437.1,99.6 437.4,99.6 437.7,99.6 438,99.6 438.3,99.6 438.6,99.6 438.9,99.6 439.2,99.6 439.5,99.6 439.8,99.6 440.1,99.7 440.4,99.7 440.7,99.6 441,99.6 441.3,99.6 441.6,99.6 441.9,99.7 442.2,99.6 442.5,99.6 442.8,99.7 443.1,99.6 443.4,99.6 443.7,99.6 444,99.6 444.3,99.6 444.6,99.6 444.9,99.6 445.2,99.6 445.5,99.6 445.8,99.6 446.1,99.6 446.4,99.6 446.7,99.6 447,99.6 447.3,99.6 447.6,99.6 447.9,99.6 448.2,99.6 448.5,99.6 448.8,99.5 449.1,99.6 449.4,99.6 449.7,99.6 450,99.6 450.3,99.7 450.6,99.6 450.9,99.7 451.2,99.7 451.5,99.7 451.8,99.7 452.1,99.7 452.4,99.7 452.7,99.7 453,99.7 453.3,99.7 453.6,99.7 453.9,99.8 454.2,99.8 454.5,99.8 454.8,99.9 455.1,99.9 455.3,99.9 455.4,99.9 455.6,99.9 455.7,100 455.9,100 456,100 456.2,100 456.3,100 456.5,100.1 456.6,100.1 456.8,100.2 456.9,100.2 457.1,100.2 457.2,100.3 457.4,100.3 457.5,100.3 457.7,100.4 457.8,100.5 458,100.6 458.1,100.6 458.3,100.6 458.4,100.7 458.6,100.8 458.7,100.9 458.9,101 459,101.1 459.2,101.2 459.3,101.3 459.5,101.4 459.6,101.5 459.8,101.7 459.9,101.8 460.1,101.9 460.2,102.2 460.4,102.4 460.5,102.6 460.7,102.9 460.8,103.1 461,103.4 461.1,103.8 461.3,104.2 461.4,104.6 461.6,105 461.7,105.4 461.9,105.8 462,106.3 462.2,106.8 462.3,107.2 462.5,107.6 462.6,108.1 462.8,108.4 462.9,108.8 463.1,109 463.2,109.3 463.4,109.4 463.5,109.4 463.7,109.4 463.8,109.4 464,109.3 464.1,109.1 464.3,108.9 464.4,108.6 464.6,108.3 464.7,107.9 464.9,107.6 465,107.3 465.2,106.9 465.3,106.5 465.5,106.2 465.6,105.8 465.8,105.5 465.9,105.2 466.1,104.9 466.2,104.7 466.4,104.5 466.5,104.3 466.7,104.2 466.8,104 467,103.8 467.1,103.7 467.3,103.6 467.4,103.5 467.6,103.4 467.7,103.3 467.9,103.2 468,103.2 468.2,103.2 468.3,103.1 468.5,103 468.6,102.9 468.8,102.9 468.9,102.9 469.1,102.8 469.2,102.8 469.4,102.8 469.5,102.7 469.7,102.7 469.8,102.7 470,102.7 470.1,102.6 470.3,102.6 470.4,102.6 470.6,102.6 470.7,102.5 470.9,102.5 471,102.5 471.2,102.5 471.3,102.5 471.5,102.4 471.6,102.4 471.8,102.4 471.9,102.4 472.1,102.4 472.2,102.4 472.4,102.3 472.5,102.4 472.7,102.3 472.8,102.3 473,102.3 473.1,102.2 473.3,102.2 473.4,102.2 473.6,102.2 473.7,102.2 473.9,102.2 474,102.2 474.2,102.2 474.3,102.2 474.5,102.2 474.6,102.2 474.8,102.2 474.9,102.2 475.1,102.2 475.2,102.2 475.4,102.2 475.5,102.2 475.7,102.2 475.8,102.1 476,102.1 476.1,102.1 476.3,102.1 476.4,102.1 476.6,102.1 476.7,102 476.9,102 477,102.1 477.2,102.1 477.3,102.1 477.5,102.1 477.6,102.1 477.8,102.1 477.9,102 478.1,102 478.2,102 478.4,102 478.5,102 478.7,102 478.8,101.9 479,101.9 479.1,101.8 479.3,101.8 479.4,101.8 479.6,101.7 479.7,101.7 479.9,101.6 480,101.6 480.2,101.5 480.3,101.4 480.5,101.3 480.6,101.3 480.8,101.3 480.9,101.2 481.1,101.2 481.2,101.1 481.4,101.1 481.5,100.9 481.7,100.9 481.8,100.8 482,100.8 482.1,100.7 482.3,100.7 482.4,100.7 482.6,100.6 482.7,100.6 482.9,100.6 483,100.6 483.2,100.6 483.3,100.5 483.5,100.4 483.6,100.4 483.8,100.4 483.9,100.4 484.1,100.3 484.2,100.3 484.4,100.2 484.5,100.2 484.7,100.2 484.8,100.2 485,100.2 485.1,100.2 485.3,100.2 485.4,100.1 485.6,100.1 485.7,100.1 485.9,100.1 486,100.1 486.2,100 486.3,100.1 486.5,100.1 486.6,100 486.8,100 486.9,100 487.1,100 487.2,100 487.4,100 487.5,100 487.7,100 487.8,99.9 488,99.9 488.1,99.9 488.3,99.9 488.4,99.9 488.6,99.9 488.7,99.8 488.9,99.9 489,99.9 489.2,99.8 489.3,99.8 489.5,99.8 489.6,99.8 489.8,99.9 489.9,99.8 490.1,99.9 490.2,99.9 490.4,99.9 490.5,99.9 490.7,99.9 490.8,100 491,100 491.1,100 491.3,100 491.4,100 491.6,100.1 491.7,100.1 491.9,100.1 492,100.2 492.2,100.3 492.3,100.3 492.5,100.4 492.6,100.5 492.8,100.5 492.9,100.6 493,100.8 493.2,100.9 493.3,101.1 493.5,101.2 493.6,101.4 493.8,101.6 493.9,101.9 494.1,102.2 494.2,102.6 494.4,103 494.5,103.5 494.7,103.9 494.8,104.5 495,105.1 495.1,105.7 495.3,106.4 495.4,107.1 495.6,107.8 495.7,108.6 495.9,109.4 496,110.3 496.2,111.1 496.3,111.9 496.5,112.7 496.6,113.4 496.8,114.2 496.9,114.8 497.1,115.4 497.2,115.8 497.4,116.3 497.5,116.6 497.7,116.8 497.8,116.9 498,116.8 498.1,116.7 498.3,116.5 498.4,116.2 498.6,115.8 498.7,115.4 498.9,115.1 499,114.7 499.2,114.3 499.3,114.1 499.5,113.9 499.6,113.8 499.8,113.9 499.9,114 500.1,114.1 500.2,114.3 500.4,114.7 500.5,115.1 500.7,115.6 500.8,116 501,116.6 501.1,117.1 501.3,117.6 501.4,118.2 501.6,118.8 501.7,119.3 501.9,119.8 502,120.3 502.2,120.7 502.3,121 502.5,121.3 502.6,121.4 502.8,121.6 502.9,121.6 503.1,121.5 503.2,121.4 503.4,121.2 503.5,121 503.7,120.6 503.8,120.2 504,119.7 504.1,119.3 504.3,118.7 504.4,118.1 504.6,117.5 504.7,117 504.9,116.4 505,115.9 505.2,115.4 505.3,114.9 505.5,114.6 505.6,114.3 505.8,114 505.9,113.8 506.1,113.7 506.2,113.5 506.4,113.5 506.5,113.4 506.7,113.3 506.8,113.2 507,113.2 507.1,113.1 507.3,112.9 507.4,112.6 507.6,112.3 507.7,112 507.9,111.7 508,111.3 508.2,110.9 508.3,110.5 508.5,110.1 508.6,109.6 508.8,109.1 508.9,108.6 509.1,108 509.2,107.5 509.4,106.9 509.5,106.4 509.7,105.9 509.8,105.4 510,104.9 510.1,104.5 510.3,104 510.4,103.5 510.6,103.1 510.7,102.7 510.9,102.4 511,102.1 511.2,101.8 511.3,101.5 511.5,101.2 511.6,101 511.8,100.8 511.9,100.6 512.1,100.4 512.2,100.3 512.4,100.2 512.5,100.1 512.7,100.1 512.8,100 513,99.9 513.1,99.9 513.3,99.8 513.4,99.8 513.6,99.8 513.7,99.7 513.9,99.7 514,99.6 514.2,99.7 514.3,99.6 514.5,99.7 514.6,99.7 514.8,99.7 514.9,99.6 515.1,99.6 515.2,99.7 515.4,99.7 515.5,99.6 515.7,99.6 515.8,99.7 516,99.7 516.1,99.6 516.3,99.6 516.4,99.7 516.6,99.6 516.7,99.6 516.9,99.6 517,99.7 517.2,99.7 517.3,99.7 517.5,99.7 517.6,99.8 517.8,99.7 517.9,99.7 518.1,99.7 518.2,99.7 518.4,99.7 518.5,99.7 518.7,99.8 518.8,99.7 519,99.8 519.1,99.8 519.3,99.8 519.4,99.8 519.6,99.8 519.7,99.9 519.9,99.9 520,99.9 520.2,99.9 520.3,99.9 520.5,100 520.6,100 520.8,100 520.9,100 521.1,100 521.2,100 521.4,100 521.5,100 521.7,100.1 521.8,100.1 522,100.1 522.1,100.2 522.3,100.2 522.4,100.2 522.6,100.3 522.7,100.3 522.9,100.3 523,100.3 523.2,100.3 523.3,100.4 523.5,100.5 523.6,100.5 523.8,100.5 523.9,100.5 524.1,100.5 524.2,100.5 524.4,100.6 524.5,100.6 524.7,100.6 524.8,100.7 525,100.6 525.1,100.7 525.3,100.7 525.4,100.8 525.6,100.8 525.7,100.8 525.9,100.8 526,100.9 526.2,100.9 526.3,100.9 526.5,101 526.6,100.9 526.8,101 526.9,101 527.1,101 527.2,101 527.4,101.1 527.5,101.1 527.7,101.2 527.8,101.2 528,101.2 528.1,101.3 528.3,101.4 528.4,101.4 528.6,101.5 528.7,101.6 528.9,101.8 529,101.8 529.2,101.9 529.3,102.1 529.5,102.3 529.6,102.4 529.8,102.6 529.9,103 530.1,103.3 530.2,103.8 530.4,104.4 530.5,105.2 530.7,106.1 530.8,107.1 531,108.1 531.1,109.3 531.3,110.4 531.4,111.4 531.6,112.3 531.7,112.9 531.9,113.2 532,113.2 532.2,112.9 532.3,112.3 532.5,111.6 532.6,110.7 532.8,109.8 532.9,109 533.1,108.3 533.2,107.7 533.4,107.1 533.5,106.9 533.7,106.7 533.8,106.7 534,106.9 534.1,107.2 534.3,107.7 534.4,108.3 534.6,109 534.7,109.8 534.9,110.7 535,111.5 535.2,112.1 535.3,112.5 535.5,112.6 535.6,112.5 535.8,112.1 535.9,111.4 536.1,110.4 536.2,109.3 536.4,108.2 536.5,107 536.7,105.9 536.8,104.9 537,104 537.1,103.3 537.3,102.7 537.4,102.2 537.6,101.8 537.7,101.5 537.9,101.3 538,101.1 538.2,100.9 538.3,100.8 538.5,100.7 538.6,100.5 538.8,100.4 538.9,100.4 539.1,100.3 539.2,100.2 539.4,100.1 539.5,100 539.7,100" fill="none" stroke="#fdbc68" stroke-width="1.2" stroke-linejoin="round"/>
<path d="M304.5,155.2 304.8,155.2 305.1,155.2 305.4,155.2 305.7,155.2 306,155.2 306.3,155.2 306.6,155.2 306.9,155.2 307.2,155.2 307.5,155.2 307.8,155.2 308.1,155.2 308.4,155.3 308.7,155.3 309,155.3 309.3,155.3 309.6,155.2 309.9,155.2 310.2,155.2 310.5,155.2 310.8,155.2 311.1,155.2 311.4,155.2 311.7,155.3 312,155.3 312.3,155.3 312.6,155.3 312.9,155.3 313.2,155.3 313.5,155.2 313.8,155.3 314.1,155.2 314.4,155.3 314.7,155.3 315,155.3 315.3,155.3 315.6,155.3 315.9,155.3 316.2,155.3 316.5,155.2 316.8,155.3 317.1,155.3 317.4,155.3 317.7,155.3 318,155.4 318.3,155.4 318.6,155.4 318.9,155.5 319.2,155.5 319.5,155.5 319.8,155.5 320.1,155.5 320.4,155.6 320.7,155.6 321,155.7 321.3,155.7 321.6,155.8 321.9,155.8 322.2,155.9 322.5,156 322.8,156.1 323.1,156.1 323.4,156.3 323.7,156.4 324,156.5 324.3,156.6 324.6,156.7 324.9,156.9 325.2,157 325.5,157.2 325.8,157.3 326.1,157.5 326.4,157.7 326.7,157.9 327,158.2 327.3,158.4 327.6,158.7 327.9,159 328.2,159.3 328.5,159.7 328.8,159.9 329.1,160.3 329.4,160.7 329.7,161.1 330,161.5 330.3,161.9 330.6,162.4 330.9,162.8 331.2,163.3 331.5,163.8 331.8,164.3 332.1,164.8 332.4,165.3 332.7,165.8 333,166.3 333.3,166.9 333.6,167.5 333.9,168 334.2,168.6 334.5,169.1 334.8,169.6 335.1,170.2 335.4,170.7 335.7,171.3 336,171.8 336.3,172.3 336.6,172.8 336.9,173.3 337.2,173.8 337.5,174.3 337.8,174.7 338.1,175.1 338.4,175.4 338.7,175.8 339,176.1 339.3,176.4 339.6,176.6 339.9,176.9 340.2,177.1 340.5,177.2 340.8,177.4 341.1,177.5 341.4,177.6 341.7,177.5 342,177.5 342.3,177.5 342.6,177.4 342.9,177.4 343.2,177.3 343.5,177.2 343.8,177.2 344.1,177.1 344.4,176.9 344.7,176.7 345,176.6 345.3,176.4 345.6,176.2 345.9,176 346.2,175.8 346.5,175.6 346.8,175.4 347.1,175.1 347.4,174.8 347.7,174.6 348,174.2 348.3,174 348.6,173.7 348.9,173.4 349.2,173.1 349.5,172.8 349.8,172.5 350.1,172.2 350.4,171.9 350.7,171.5 351,171.2 351.3,170.8 351.6,170.5 351.9,170.2 352.2,169.8 352.5,169.5 352.8,169.2 353.1,168.8 353.4,168.5 353.7,168.2 354,167.9 354.3,167.5 354.6,167.2 354.9,166.9 355.2,166.6 355.5,166.2 355.8,165.9 356.1,165.6 356.4,165.3 356.7,165.1 357,164.8 357.3,164.5 357.6,164.2 357.9,163.9 358.2,163.7 358.5,163.4 358.8,163.2 359.1,162.9 359.4,162.6 359.7,162.4 360,162.1 360.3,161.9 360.6,161.7 360.9,161.5 361.2,161.4 361.5,161.1 361.8,160.9 362.1,160.8 362.4,160.6 362.7,160.4 363,160.3 363.3,160.1 363.6,160 363.9,159.8 364.2,159.7 364.5,159.6 364.8,159.4 365.1,159.2 365.4,159.1 365.7,159 366,158.9 366.3,158.8 366.6,158.7 366.9,158.6 367.2,158.5 367.5,158.4 367.8,158.3 368.1,158.3 368.4,158.2 368.7,158.1 369,158.1 369.3,158 369.6,157.9 369.9,157.8 370.2,157.7 370.5,157.6 370.8,157.6 371.1,157.5 371.4,157.4 371.7,157.4 372,157.3 372.3,157.3 372.6,157.2 372.9,157.2 373.2,157.2 373.5,157.1 373.8,157.1 374.1,157.1 374.4,157 374.7,157 375,157 375.3,157 375.6,156.9 375.9,156.8 376.2,156.9 376.5,156.8 376.8,156.8 377.1,156.7 377.4,156.7 377.7,156.6 378,156.6 378.3,156.6 378.6,156.6 378.9,156.6 379.2,156.5 379.5,156.5 379.8,156.5 380.1,156.5 380.4,156.4 380.7,156.4 381,156.4 381.3,156.4 381.6,156.4 381.9,156.4 382.2,156.4 382.5,156.3 382.8,156.3 383.1,156.3 383.4,156.3 383.7,156.3 384,156.2 384.3,156.2 384.6,156.1 384.9,156.1 385.2,156.1 385.5,156.1 385.8,156.1 386.1,156.1 386.4,156.1 386.7,156.1 387,156 387.3,156.1 387.6,156 387.9,156 388.2,156 388.5,156 388.8,156 389.1,156 389.4,155.9 389.7,155.9 390,155.9 390.3,155.9 390.6,155.9 390.9,155.9 391.2,155.9 391.5,155.8 391.8,155.9 392.1,155.9 392.4,155.8 392.7,155.8 393,155.8 393.3,155.8 393.6,155.8 393.9,155.7 394.2,155.7 394.5,155.7 394.8,155.7 395.1,155.7 395.4,155.7 395.7,155.7 396,155.7 396.3,155.6 396.6,155.6 396.9,155.6 397.2,155.6 397.5,155.6 397.8,155.6 398.1,155.6 398.4,155.6 398.7,155.6 399,155.6 399.3,155.5 399.6,155.5 399.9,155.5 400.2,155.5 400.5,155.5 400.8,155.5 401.1,155.5 401.4,155.5 401.7,155.5 402,155.5 402.3,155.5 402.6,155.4 402.9,155.4 403.2,155.4 403.5,155.4 403.8,155.4 404.1,155.4 404.4,155.4 404.7,155.4 405,155.4 405.3,155.4 405.6,155.4 405.9,155.4 406.2,155.4 406.5,155.3 406.8,155.4 407.1,155.3 407.4,155.3 407.7,155.3 408,155.4 408.3,155.4 408.6,155.4 408.9,155.4 409.2,155.4 409.5,155.3 409.8,155.4 410.1,155.3 410.4,155.4 410.7,155.3 411,155.3 411.3,155.3 411.6,155.3 411.9,155.3 412.2,155.3 412.5,155.4 412.8,155.3 413.1,155.4 413.4,155.4 413.7,155.3 414,155.3 414.3,155.3 414.6,155.3 414.9,155.3 415.2,155.3 415.5,155.2 415.8,155.3 416.1,155.3 416.4,155.3 416.7,155.3 417,155.3 417.3,155.3 417.6,155.2 417.9,155.2 418.2,155.3 418.5,155.2 418.8,155.3 419.1,155.2 419.4,155.3 419.7,155.3 420,155.2 420.3,155.2 420.6,155.2 420.9,155.2 421.2,155.2 421.5,155.3 421.8,155.3 422.1,155.2 422.4,155.3 422.7,155.3 423,155.2 423.3,155.2 423.6,155.2 423.9,155.2 424.2,155.2 424.5,155.2 424.8,155.2 425.1,155.2 425.4,155.2 425.7,155.3 426,155.3 426.3,155.2 426.6,155.2 426.9,155.3 427.2,155.3 427.5,155.3 427.8,155.3 428.1,155.2 428.4,155.2 428.7,155.2 429,155.2 429.3,155.3 429.6,155.2 429.9,155.2 430.2,155.2 430.5,155.2 430.8,155.2 431.1,155.2 431.4,155.2 431.7,155.2 432,155.2 432.3,155.2 432.6,155.2 432.9,155.2 433.2,155.2 433.5,155.2 433.8,155.2 434.1,155.2 434.4,155.2 434.7,155.2 435,155.2 435.3,155.2 435.6,155.2 435.9,155.2 436.2,155.2 436.5,155.2 436.8,155.2 437.1,155.2 437.4,155.2 437.7,155.2 438,155.1 438.3,155.1 438.6,155.2 438.9,155.3 439.2,155.2 439.5,155.2 439.8,155.2 440.1,155.2 440.4,155.2 440.7,155.2 441,155.2 441.3,155.2 441.6,155.2 441.9,155.2 442.2,155.2 442.5,155.2 442.8,155.2 443.1,155.2 443.4,155.2 443.7,155.2 444,155.2 444.3,155.2 444.6,155.1 444.9,155.1 445.2,155.1 445.5,155.2 445.8,155.2 446.1,155.2 446.4,155.2 446.7,155.2 447,155.1 447.3,155.2 447.6,155.2 447.9,155.2 448.2,155.2 448.5,155.2 448.8,155.2 449.1,155.2 449.4,155.2 449.7,155.2 450,155.2 450.3,155.2 450.6,155.2 450.9,155.2 451.2,155.2 451.5,155.2 451.8,155.3 452.1,155.2 452.4,155.2 452.7,155.3 453,155.2 453.3,155.2 453.6,155.3 453.9,155.3 454.2,155.3 454.5,155.3 454.8,155.3 455.1,155.3 455.3,155.3 455.4,155.3 455.6,155.4 455.7,155.4 455.9,155.4 456,155.4 456.2,155.5 456.3,155.5 456.5,155.5 456.6,155.5 456.8,155.6 456.9,155.6 457.1,155.6 457.2,155.7 457.4,155.7 457.5,155.8 457.7,155.7 457.8,155.8 458,155.8 458.1,155.8 458.3,155.9 458.4,155.9 458.6,156 458.7,156.1 458.9,156.1 459,156.1 459.2,156.2 459.3,156.3 459.5,156.4 459.6,156.5 459.8,156.6 459.9,156.7 460.1,156.9 460.2,157 460.4,157.2 460.5,157.3 460.7,157.5 460.8,157.7 461,157.9 461.1,158.2 461.3,158.4 461.4,158.8 461.6,159.1 461.7,159.4 461.9,159.7 462,160.1 462.2,160.4 462.3,160.6 462.5,161 462.6,161.3 462.8,161.6 462.9,161.8 463.1,162 463.2,162.2 463.4,162.2 463.5,162.3 463.7,162.3 463.8,162.3 464,162.2 464.1,162 464.3,161.8 464.4,161.6 464.6,161.3 464.7,161.1 464.9,160.8 465,160.5 465.2,160.2 465.3,159.9 465.5,159.7 465.6,159.5 465.8,159.2 465.9,158.9 466.1,158.7 466.2,158.5 466.4,158.3 466.5,158.2 466.7,158.1 466.8,157.9 467,157.8 467.1,157.7 467.3,157.7 467.4,157.6 467.6,157.5 467.7,157.5 467.9,157.4 468,157.3 468.2,157.2 468.3,157.2 468.5,157.2 468.6,157.1 468.8,157 468.9,157 469.1,156.9 469.2,156.9 469.4,156.9 469.5,156.9 469.7,156.8 469.8,156.8 470,156.7 470.1,156.7 470.3,156.7 470.4,156.6 470.6,156.6 470.7,156.6 470.9,156.6 471,156.6 471.2,156.6 471.3,156.6 471.5,156.6 471.6,156.5 471.8,156.5 471.9,156.5 472.1,156.5 472.2,156.5 472.4,156.5 472.5,156.5 472.7,156.5 472.8,156.5 473,156.5 473.1,156.4 473.3,156.4 473.4,156.4 473.6,156.5 473.7,156.4 473.9,156.5 474,156.5 474.2,156.5 474.3,156.5 474.5,156.5 474.6,156.5 474.8,156.5 474.9,156.6 475.1,156.6 475.2,156.7 475.4,156.7 475.5,156.8 475.7,156.8 475.8,156.8 476,156.9 476.1,156.9 476.3,156.9 476.4,157.1 476.6,157.1 476.7,157.1 476.9,157.2 477,157.2 477.2,157.3 477.3,157.4 477.5,157.4 477.6,157.5 477.8,157.5 477.9,157.5 478.1,157.5 478.2,157.6 478.4,157.6 478.5,157.5 478.7,157.5 478.8,157.5 479,157.5 479.1,157.5 479.3,157.4 479.4,157.4 479.6,157.3 479.7,157.2 479.9,157.1 480,157.1 480.2,157 480.3,156.9 480.5,156.8 480.6,156.7 480.8,156.6 480.9,156.5 481.1,156.4 481.2,156.4 481.4,156.3 481.5,156.2 481.7,156.2 481.8,156.1 482,156.1 482.1,156 482.3,156 482.4,156 482.6,155.9 482.7,155.8 482.9,155.7 483,155.7 483.2,155.7 483.3,155.7 483.5,155.7 483.6,155.7 483.8,155.6 483.9,155.6 484.1,155.6 484.2,155.6 484.4,155.5 484.5,155.5 484.7,155.5 484.8,155.5 485,155.5 485.1,155.4 485.3,155.5 485.4,155.5 485.6,155.5 485.7,155.5 485.9,155.5 486,155.5 486.2,155.4 486.3,155.4 486.5,155.4 486.6,155.4 486.8,155.4 486.9,155.4 487.1,155.4 487.2,155.3 487.4,155.4 487.5,155.4 487.7,155.3 487.8,155.3 488,155.3 488.1,155.3 488.3,155.3 488.4,155.3 488.6,155.3 488.7,155.3 488.9,155.3 489,155.3 489.2,155.3 489.3,155.3 489.5,155.3 489.6,155.3 489.8,155.3 489.9,155.3 490.1,155.3 490.2,155.3 490.4,155.3 490.5,155.3 490.7,155.3 490.8,155.3 491,155.3 491.1,155.3 491.3,155.4 491.4,155.4 491.6,155.4 491.7,155.4 491.9,155.4 492,155.4 492.2,155.5 492.3,155.5 492.5,155.6 492.6,155.7 492.8,155.8 492.9,156 493,156.1 493.2,156.3 493.3,156.6 493.5,156.8 493.6,157.1 493.8,157.4 493.9,157.8 494.1,158.2 494.2,158.6 494.4,159.1 494.5,159.6 494.7,160.3 494.8,160.9 495,161.6 495.1,162.4 495.3,163.2 495.4,164 495.6,164.9 495.7,165.8 495.9,166.8 496,167.8 496.2,168.8 496.3,169.9 496.5,171.1 496.6,172.4 496.8,173.8 496.9,175.1 497.1,176.6 497.2,178.3 497.4,179.9 497.5,181.8 497.7,183.7 497.8,185.6 498,187.4 498.1,189.3 498.3,191.1 498.4,192.7 498.6,194.2 498.7,195.6 498.9,196.7 499,197.5 499.2,198.1 499.3,198.3 499.5,198.5 499.6,198.6 499.8,198.8 499.9,198.8 500.1,198.9 500.2,199.1 500.4,199.3 500.5,199.4 500.7,199.7 500.8,200 501,200.3 501.1,200.8 501.3,201.2 501.4,201.7 501.6,202 501.7,202.5 501.9,202.8 502,203.1 502.2,203.3 502.3,203.4 502.5,203.3 502.6,203 502.8,202.5 502.9,201.8 503.1,201.1 503.2,200.4 503.4,199.5 503.5,198.6 503.7,197.6 503.8,196.5 504,195.4 504.1,194.3 504.3,193 504.4,191.7 504.6,190.4 504.7,189 504.9,187.6 505,186.3 505.2,184.9 505.3,183.6 505.5,182.3 505.6,181.2 505.8,180.1 505.9,179 506.1,178 506.2,177.1 506.4,176.3 506.5,175.4 506.7,174.6 506.8,173.8 507,173 507.1,172.1 507.3,171.2 507.4,170.2 507.6,169.2 507.7,168.1 507.9,167 508,165.9 508.2,164.9 508.3,163.9 508.5,162.9 508.6,162 508.8,161.2 508.9,160.3 509.1,159.6 509.2,158.9 509.4,158.4 509.5,157.9 509.7,157.4 509.8,157 510,156.7 510.1,156.4 510.3,156.2 510.4,156 510.6,155.9 510.7,155.7 510.9,155.6 511,155.5 511.2,155.5 511.3,155.4 511.5,155.4 511.6,155.4 511.8,155.3 511.9,155.3 512.1,155.2 512.2,155.2 512.4,155.3 512.5,155.3 512.7,155.2 512.8,155.2 513,155.2 513.1,155.2 513.3,155.2 513.4,155.2 513.6,155.2 513.7,155.2 513.9,155.2 514,155.2 514.2,155.2 514.3,155.2 514.5,155.2 514.6,155.2 514.8,155.2 514.9,155.2 515.1,155.2 515.2,155.2 515.4,155.2 515.5,155.2 515.7,155.1 515.8,155.2 516,155.2 516.1,155.2 516.3,155.2 516.4,155.2 516.6,155.3 516.7,155.2 516.9,155.2 517,155.2 517.2,155.2 517.3,155.2 517.5,155.2 517.6,155.2 517.8,155.2 517.9,155.2 518.1,155.2 518.2,155.2 518.4,155.2 518.5,155.2 518.7,155.2 518.8,155.2 519,155.2 519.1,155.2 519.3,155.2 519.4,155.2 519.6,155.2 519.7,155.1 519.9,155.2 520,155.2 520.2,155.2 520.3,155.2 520.5,155.2 520.6,155.2 520.8,155.2 520.9,155.2 521.1,155.3 521.2,155.2 521.4,155.2 521.5,155.2 521.7,155.2 521.8,155.2 522,155.2 522.1,155.2 522.3,155.2 522.4,155.2 522.6,155.2 522.7,155.2 522.9,155.2 523,155.2 523.2,155.1 523.3,155.2 523.5,155.2 523.6,155.2 523.8,155.2 523.9,155.2 524.1,155.2 524.2,155.2 524.4,155.2 524.5,155.2 524.7,155.2 524.8,155.2 525,155.2 525.1,155.2 525.3,155.2 525.4,155.3 525.6,155.3 525.7,155.3 525.9,155.2 526,155.3 526.2,155.3 526.3,155.3 526.5,155.3 526.6,155.3 526.8,155.3 526.9,155.4 527.1,155.4 527.2,155.4 527.4,155.5 527.5,155.5 527.7,155.6 527.8,155.7 528,155.8 528.1,155.9 528.3,156 528.4,156.1 528.6,156.2 528.7,156.4 528.9,156.5 529,156.7 529.2,156.8 529.3,157 529.5,157.2 529.6,157.5 529.8,157.7 529.9,158.1 530.1,158.4 530.2,158.9 530.4,159.6 530.5,160.5 530.7,161.6 530.8,163.1 531,164.9 531.1,167.1 531.3,169.7 531.4,172.6 531.6,175.6 531.7,178.5 531.9,181.1 532,183.2 532.2,184.5 532.3,184.8 532.5,184.3 532.6,183 532.8,181.1 532.9,178.8 533.1,176.4 533.2,174.1 533.4,172.2 533.5,170.8 533.7,170 533.8,169.8 534,170.3 534.1,171.2 534.3,172.5 534.4,174 534.6,175.5 534.7,176.8 534.9,177.9 535,178.4 535.2,178.4 535.3,177.9 535.5,176.7 535.6,175 535.8,173.1 535.9,170.9 536.1,168.6 536.2,166.5 536.4,164.5 536.5,162.8 536.7,161.4 536.8,160.3 537,159.3 537.1,158.6 537.3,158 537.4,157.6 537.6,157.2 537.7,156.9 537.9,156.7 538,156.6 538.2,156.4 538.3,156.3 538.5,156.1 538.6,156 538.8,155.9 538.9,155.8 539.1,155.8 539.2,155.7 539.4,155.6 539.5,155.5 539.7,155.5" fill="none" stroke="#3c9c7a" stroke-width="1.2" stroke-linejoin="round"/>
<path d="M304.5,203.8 304.8,204.1 305.1,204.3 305.4,204.4 305.7,204.6 306,204.8 306.3,205 306.6,205.1 306.9,205.3 307.2,205.5 307.5,205.6 307.8,205.8 308.1,205.9 308.4,206 308.7,206.2 309,206.4 309.3,206.5 309.6,206.7 309.9,206.8 310.2,206.9 310.5,207 310.8,207.1 311.1,207.3 311.4,207.4 311.7,207.5 312,207.6 312.3,207.7 312.6,207.7 312.9,207.8 313.2,207.9 313.5,208 313.8,208 314.1,208.1 314.4,208.2 314.7,208.3 315,208.4 315.3,208.5 315.6,208.5 315.9,208.6 316.2,208.6 316.5,208.7 316.8,208.8 317.1,208.8 317.4,208.9 317.7,208.9 318,209 318.3,209.1 318.6,209.2 318.9,209.2 319.2,209.3 319.5,209.3 319.8,209.4 320.1,209.5 320.4,209.6 320.7,209.6 321,209.7 321.3,209.8 321.6,209.9 321.9,210 322.2,210 322.5,210.1 322.8,210.3 323.1,210.4 323.4,210.5 323.7,210.6 324,210.7 324.3,210.8 324.6,210.9 324.9,211 325.2,211.2 325.5,211.4 325.8,211.6 326.1,211.8 326.4,212 326.7,212.1 327,212.4 327.3,212.6 327.6,212.8 327.9,213.1 328.2,213.3 328.5,213.5 328.8,213.8 329.1,214.1 329.4,214.4 329.7,214.8 330,215.1 330.3,215.4 330.6,215.8 330.9,216.2 331.2,216.5 331.5,216.9 331.8,217.4 332.1,217.8 332.4,218.2 332.7,218.7 333,219.1 333.3,219.6 333.6,220.1 333.9,220.5 334.2,221 334.5,221.5 334.8,221.9 335.1,222.3 335.4,222.8 335.7,223.3 336,223.7 336.3,224.1 336.6,224.5 336.9,224.9 337.2,225.3 337.5,225.7 337.8,226.1 338.1,226.3 338.4,226.7 338.7,226.9 339,227.2 339.3,227.5 339.6,227.7 339.9,227.9 340.2,228 340.5,228.1 340.8,228.2 341.1,228.3 341.4,228.3 341.7,228.3 342,228.3 342.3,228.4 342.6,228.3 342.9,228.3 343.2,228.3 343.5,228.2 343.8,228.2 344.1,228.1 344.4,228 344.7,227.9 345,227.8 345.3,227.7 345.6,227.5 345.9,227.4 346.2,227.3 346.5,227.1 346.8,227 347.1,226.8 347.4,226.6 347.7,226.4 348,226.3 348.3,226.1 348.6,225.9 348.9,225.7 349.2,225.5 349.5,225.3 349.8,225.1 350.1,224.9 350.4,224.6 350.7,224.3 351,224.1 351.3,223.9 351.6,223.7 351.9,223.4 352.2,223.2 352.5,222.9 352.8,222.7 353.1,222.5 353.4,222.2 353.7,221.9 354,221.7 354.3,221.4 354.6,221.2 354.9,220.9 355.2,220.7 355.5,220.5 355.8,220.2 356.1,220 356.4,219.7 356.7,219.5 357,219.3 357.3,219.1 357.6,218.9 357.9,218.7 358.2,218.4 358.5,218.3 358.8,218 359.1,217.8 359.4,217.6 359.7,217.4 360,217.2 360.3,217 360.6,216.8 360.9,216.6 361.2,216.4 361.5,216.3 361.8,216.1 362.1,215.9 362.4,215.7 362.7,215.6 363,215.5 363.3,215.3 363.6,215.2 363.9,215.1 364.2,214.9 364.5,214.7 364.8,214.6 365.1,214.4 365.4,214.3 365.7,214.2 366,214.1 366.3,214 366.6,213.9 366.9,213.8 367.2,213.7 367.5,213.6 367.8,213.5 368.1,213.4 368.4,213.3 368.7,213.2 369,213.1 369.3,213 369.6,213 369.9,212.9 370.2,212.8 370.5,212.8 370.8,212.7 371.1,212.6 371.4,212.6 371.7,212.6 372,212.5 372.3,212.4 372.6,212.4 372.9,212.4 373.2,212.4 373.5,212.2 373.8,212.2 374.1,212.2 374.4,212.1 374.7,212 375,212 375.3,212 375.6,212 375.9,211.9 376.2,211.9 376.5,211.8 376.8,211.7 377.1,211.7 377.4,211.7 377.7,211.7 378,211.7 378.3,211.7 378.6,211.6 378.9,211.6 379.2,211.6 379.5,211.5 379.8,211.5 380.1,211.5 380.4,211.5 380.7,211.5 381,211.5 381.3,211.5 381.6,211.4 381.9,211.4 382.2,211.4 382.5,211.4 382.8,211.4 383.1,211.3 383.4,211.3 383.7,211.3 384,211.3 384.3,211.2 384.6,211.2 384.9,211.1 385.2,211.1 385.5,211.2 385.8,211.2 386.1,211.2 386.4,211.2 386.7,211.1 387,211.1 387.3,211.1 387.6,211 387.9,211 388.2,211 388.5,211 388.8,211 389.1,210.9 389.4,211 389.7,210.9 390,211 390.3,210.9 390.6,210.9 390.9,211 391.2,210.9 391.5,210.9 391.8,210.9 392.1,210.9 392.4,210.9 392.7,210.9 393,210.8 393.3,210.8 393.6,210.8 393.9,210.9 394.2,210.8 394.5,210.9 394.8,210.8 395.1,210.8 395.4,210.8 395.7,210.8 396,210.8 396.3,210.8 396.6,210.8 396.9,210.8 397.2,210.7 397.5,210.8 397.8,210.8 398.1,210.7 398.4,210.7 398.7,210.7 399,210.6 399.3,210.7 399.6,210.7 399.9,210.7 400.2,210.7 400.5,210.7 400.8,210.7 401.1,210.7 401.4,210.7 401.7,210.7 402,210.8 402.3,210.7 402.6,210.7 402.9,210.8 403.2,210.7 403.5,210.8 403.8,210.7 404.1,210.7 404.4,210.7 404.7,210.7 405,210.7 405.3,210.8 405.6,210.7 405.9,210.8 406.2,210.8 406.5,210.8 406.8,210.8 407.1,210.9 407.4,210.9 407.7,210.8 408,210.9 408.3,210.8 408.6,210.9 408.9,210.9 409.2,210.9 409.5,210.9 409.8,210.9 410.1,210.9 410.4,210.9 410.7,210.9 411,210.9 411.3,211 411.6,210.9 411.9,211 412.2,211 412.5,210.9 412.8,210.9 413.1,211 413.4,211 413.7,211 414,211 414.3,211 414.6,211 414.9,211 415.2,211 415.5,211.1 415.8,211.1 416.1,211.1 416.4,211.1 416.7,211.1 417,211.1 417.3,211.1 417.6,211.1 417.9,211.2 418.2,211.2 418.5,211.1 418.8,211.2 419.1,211.1 419.4,211.1 419.7,211.2 420,211.2 420.3,211.2 420.6,211.2 420.9,211.2 421.2,211.2 421.5,211.2 421.8,211.2 422.1,211.2 422.4,211.2 422.7,211.2 423,211.2 423.3,211.3 423.6,211.3 423.9,211.4 424.2,211.4 424.5,211.3 424.8,211.3 425.1,211.4 425.4,211.4 425.7,211.4 426,211.3 426.3,211.4 426.6,211.4 426.9,211.4 427.2,211.4 427.5,211.5 427.8,211.4 428.1,211.4 428.4,211.4 428.7,211.5 429,211.5 429.3,211.5 429.6,211.5 429.9,211.5 430.2,211.6 430.5,211.5 430.8,211.6 431.1,211.6 431.4,211.6 431.7,211.6 432,211.6 432.3,211.6 432.6,211.6 432.9,211.6 433.2,211.7 433.5,211.7 433.8,211.7 434.1,211.8 434.4,211.7 434.7,211.8 435,211.7 435.3,211.7 435.6,211.7 435.9,211.7 436.2,211.8 436.5,211.8 436.8,211.8 437.1,211.8 437.4,211.9 437.7,211.8 438,211.8 438.3,211.9 438.6,211.8 438.9,211.8 439.2,211.8 439.5,211.8 439.8,211.8 440.1,211.8 440.4,211.8 440.7,211.9 441,211.9 441.3,211.9 441.6,212 441.9,212 442.2,212 442.5,212 442.8,212 443.1,212 443.4,212 443.7,212 444,212 444.3,212.1 444.6,212.1 444.9,212 445.2,212.1 445.5,212.1 445.8,212.1 446.1,212.1 446.4,212.2 446.7,212.2 447,212.2 447.3,212.2 447.6,212.2 447.9,212.2 448.2,212.2 448.5,212.3 448.8,212.2 449.1,212.2 449.4,212.3 449.7,212.3 450,212.2 450.3,212.3 450.6,212.3 450.9,212.3 451.2,212.3 451.5,212.3 451.8,212.3 452.1,212.3 452.4,212.3 452.7,212.4 453,212.4 453.3,212.4 453.6,212.4 453.9,212.4 454.2,212.5 454.5,212.5 454.8,212.5 455.1,212.6 455.3,212.6 455.4,212.6 455.6,212.6 455.7,212.7 455.9,212.7 456,212.7 456.2,212.7 456.3,212.7 456.5,212.7 456.6,212.8 456.8,212.8 456.9,212.8 457.1,212.8 457.2,212.9 457.4,212.8 457.5,212.9 457.7,212.9 457.8,213 458,213 458.1,213 458.3,213 458.4,213.1 458.6,213.2 458.7,213.2 458.9,213.2 459,213.3 459.2,213.3 459.3,213.4 459.5,213.5 459.6,213.6 459.8,213.6 459.9,213.7 460.1,213.8 460.2,213.9 460.4,214 460.5,214.1 460.7,214.3 460.8,214.4 461,214.6 461.1,214.7 461.3,214.9 461.4,215.1 461.6,215.4 461.7,215.7 461.9,215.9 462,216.1 462.2,216.4 462.3,216.6 462.5,216.8 462.6,217.1 462.8,217.3 462.9,217.4 463.1,217.5 463.2,217.6 463.4,217.7 463.5,217.8 463.7,217.8 463.8,217.8 464,217.7 464.1,217.6 464.3,217.4 464.4,217.3 464.6,217.1 464.7,216.9 464.9,216.7 465,216.5 465.2,216.3 465.3,216.1 465.5,215.8 465.6,215.7 465.8,215.5 465.9,215.3 466.1,215.1 466.2,215 466.4,214.8 466.5,214.7 466.7,214.6 466.8,214.5 467,214.4 467.1,214.4 467.3,214.3 467.4,214.3 467.6,214.2 467.7,214.2 467.9,214.1 468,214 468.2,214 468.3,213.9 468.5,213.9 468.6,213.9 468.8,213.9 468.9,213.8 469.1,213.8 469.2,213.8 469.4,213.8 469.5,213.7 469.7,213.7 469.8,213.8 470,213.7 470.1,213.7 470.3,213.7 470.4,213.7 470.6,213.7 470.7,213.6 470.9,213.6 471,213.6 471.2,213.6 471.3,213.6 471.5,213.5 471.6,213.6 471.8,213.6 471.9,213.5 472.1,213.5 472.2,213.5 472.4,213.5 472.5,213.5 472.7,213.4 472.8,213.5 473,213.5 473.1,213.5 473.3,213.5 473.4,213.5 473.6,213.5 473.7,213.4 473.9,213.4 474,213.4 474.2,213.4 474.3,213.4 474.5,213.4 474.6,213.5 474.8,213.4 474.9,213.5 475.1,213.5 475.2,213.5 475.4,213.6 475.5,213.6 475.7,213.6 475.8,213.6 476,213.6 476.1,213.7 476.3,213.7 476.4,213.7 476.6,213.8 476.7,213.8 476.9,213.8 477,213.8 477.2,213.9 477.3,214 477.5,213.9 477.6,214 477.8,214 477.9,214.1 478.1,214.1 478.2,214 478.4,214.1 478.5,214 478.7,214 478.8,214 479,214 479.1,213.9 479.3,213.9 479.4,213.9 479.6,213.9 479.7,213.9 479.9,213.9 480,213.9 480.2,213.8 480.3,213.8 480.5,213.8 480.6,213.8 480.8,213.7 480.9,213.7 481.1,213.6 481.2,213.6 481.4,213.6 481.5,213.6 481.7,213.6 481.8,213.5 482,213.5 482.1,213.5 482.3,213.5 482.4,213.5 482.6,213.4 482.7,213.5 482.9,213.4 483,213.4 483.2,213.4 483.3,213.5 483.5,213.5 483.6,213.4 483.8,213.4 483.9,213.4 484.1,213.5 484.2,213.5 484.4,213.5 484.5,213.5 484.7,213.5 484.8,213.5 485,213.5 485.1,213.5 485.3,213.5 485.4,213.6 485.6,213.6 485.7,213.6 485.9,213.6 486,213.7 486.2,213.6 486.3,213.6 486.5,213.6 486.6,213.6 486.8,213.7 486.9,213.7 487.1,213.7 487.2,213.7 487.4,213.7 487.5,213.7 487.7,213.7 487.8,213.7 488,213.7 488.1,213.7 488.3,213.7 488.4,213.7 488.6,213.7 488.7,213.7 488.9,213.7 489,213.6 489.2,213.6 489.3,213.6 489.5,213.6 489.6,213.5 489.8,213.6 489.9,213.5 490.1,213.5 490.2,213.5 490.4,213.4 490.5,213.4 490.7,213.5 490.8,213.5 491,213.4 491.1,213.5 491.3,213.4 491.4,213.4 491.6,213.4 491.7,213.3 491.9,213.4 492,213.4 492.2,213.4 492.3,213.3 492.5,213.4 492.6,213.4 492.8,213.4 492.9,213.4 493,213.6 493.2,213.6 493.3,213.7 493.5,213.9 493.6,214.1 493.8,214.3 493.9,214.5 494.1,214.9 494.2,215.2 494.4,215.6 494.5,216 494.7,216.4 494.8,216.9 495,217.4 495.1,217.9 495.3,218.5 495.4,219.3 495.6,220 495.7,220.7 495.9,221.6 496,222.4 496.2,223.3 496.3,224.2 496.5,225.2 496.6,226.3 496.8,227.5 496.9,228.7 497.1,230 497.2,231.3 497.4,232.6 497.5,234 497.7,235.4 497.8,236.8 498,238.2 498.1,239.5 498.3,240.7 498.4,241.8 498.6,242.8 498.7,243.5 498.9,244.1 499,244.5 499.2,244.7 499.3,244.7 499.5,244.7 499.6,244.6 499.8,244.4 499.9,244.2 500.1,244 500.2,243.9 500.4,243.9 500.5,243.9 500.7,244.2 500.8,244.4 501,244.9 501.1,245.4 501.3,246 501.4,246.7 501.6,247.5 501.7,248.3 501.9,249.1 502,249.8 502.2,250.5 502.3,251 502.5,251.4 502.6,251.6 502.8,251.6 502.9,251.4 503.1,251 503.2,250.4 503.4,249.6 503.5,248.6 503.7,247.4 503.8,246.1 504,244.7 504.1,243.2 504.3,241.5 504.4,239.8 504.6,238 504.7,236.3 504.9,234.6 505,232.8 505.2,231.2 505.3,229.7 505.5,228.2 505.6,226.9 505.8,225.7 505.9,224.6 506.1,223.6 506.2,222.8 506.4,221.9 506.5,221.1 506.7,220.4 506.8,219.8 507,219.1 507.1,218.4 507.3,217.9 507.4,217.3 507.6,216.8 507.7,216.3 507.9,215.8 508,215.3 508.2,214.9 508.3,214.5 508.5,214.1 508.6,213.7 508.8,213.4 508.9,213.1 509.1,212.8 509.2,212.5 509.4,212.3 509.5,212.1 509.7,211.8 509.8,211.7 510,211.5 510.1,211.3 510.3,211.2 510.4,211 510.6,211 510.7,210.9 510.9,210.8 511,210.8 511.2,210.7 511.3,210.7 511.5,210.6 511.6,210.6 511.8,210.6 511.9,210.6 512.1,210.6 512.2,210.6 512.4,210.7 512.5,210.6 512.7,210.6 512.8,210.6 513,210.6 513.1,210.6 513.3,210.6 513.4,210.6 513.6,210.6 513.7,210.6 513.9,210.6 514,210.6 514.2,210.7 514.3,210.6 514.5,210.7 514.6,210.6 514.8,210.7 514.9,210.6 515.1,210.7 515.2,210.6 515.4,210.7 515.5,210.6 515.7,210.6 515.8,210.6 516,210.6 516.1,210.7 516.3,210.6 516.4,210.6 516.6,210.6 516.7,210.6 516.9,210.5 517,210.5 517.2,210.6 517.3,210.6 517.5,210.6 517.6,210.6 517.8,210.7 517.9,210.6 518.1,210.6 518.2,210.6 518.4,210.6 518.5,210.6 518.7,210.6 518.8,210.6 519,210.6 519.1,210.6 519.3,210.6 519.4,210.6 519.6,210.6 519.7,210.6 519.9,210.7 520,210.7 520.2,210.6 520.3,210.7 520.5,210.6 520.6,210.7 520.8,210.7 520.9,210.8 521.1,210.8 521.2,210.8 521.4,210.8 521.5,210.8 521.7,210.8 521.8,210.8 522,210.9 522.1,210.9 522.3,210.9 522.4,210.9 522.6,210.9 522.7,211 522.9,211 523,211 523.2,211.1 523.3,211.2 523.5,211.2 523.6,211.2 523.8,211.3 523.9,211.3 524.1,211.4 524.2,211.4 524.4,211.5 524.5,211.6 524.7,211.6 524.8,211.7 525,211.8 525.1,211.8 525.3,211.9 525.4,212 525.6,212 525.7,212.1 525.9,212.2 526,212.3 526.2,212.4 526.3,212.4 526.5,212.5 526.6,212.5 526.8,212.6 526.9,212.7 527.1,212.7 527.2,212.9 527.4,212.9 527.5,212.9 527.7,213.1 527.8,213.1 528,213.1 528.1,213.2 528.3,213.3 528.4,213.4 528.6,213.5 528.7,213.6 528.9,213.7 529,213.8 529.2,213.8 529.3,213.9 529.5,214 529.6,214.1 529.8,214.3 529.9,214.5 530.1,214.6 530.2,214.8 530.4,215.1 530.5,215.5 530.7,216 530.8,216.7 531,217.5 531.1,218.5 531.3,219.8 531.4,221.4 531.6,223 531.7,224.7 531.9,226.2 532,227.3 532.2,228 532.3,228.2 532.5,227.9 532.6,227.1 532.8,226 532.9,224.8 533.1,223.5 533.2,222.5 533.4,221.7 533.5,221.3 533.7,221.2 533.8,221.5 534,222.1 534.1,222.8 534.3,223.5 534.4,224.2 534.6,224.8 534.7,225.1 534.9,225 535,224.7 535.2,224 535.3,223 535.5,221.7 535.6,220.4 535.8,219 535.9,217.7 536.1,216.4 536.2,215.3 536.4,214.4 536.5,213.7 536.7,213 536.8,212.4 537,212 537.1,211.6 537.3,211.2 537.4,211 537.6,210.8 537.7,210.5 537.9,210.3 538,210.1 538.2,209.8 538.3,209.6 538.5,209.5 538.6,209.2 538.8,209 538.9,208.9 539.1,208.8 539.2,208.6 539.4,208.4 539.5,208.3 539.7,208.2" fill="none" stroke="#f26464" stroke-width="1.2" stroke-linejoin="round"/>
<path d="M304.5,260.9 304.8,260.9 305.1,260.9 305.4,260.9 305.7,260.9 306,260.9 306.3,260.9 306.6,260.9 306.9,260.9 307.2,260.9 307.5,260.9 307.8,260.9 308.1,260.9 308.4,261 308.7,261 309,260.9 309.3,260.9 309.6,261 309.9,261 310.2,260.9 310.5,260.9 310.8,261 311.1,260.9 311.4,260.9 311.7,261 312,260.9 312.3,260.9 312.6,260.9 312.9,260.9 313.2,260.9 313.5,261 313.8,261 314.1,261 314.4,261 314.7,260.9 315,260.9 315.3,260.9 315.6,261 315.9,261 316.2,261.1 316.5,261.1 316.8,261 317.1,261.1 317.4,261.1 317.7,261 318,261.1 318.3,261 318.6,261 318.9,261.1 319.2,261.1 319.5,261.2 319.8,261.2 320.1,261.2 320.4,261.3 320.7,261.4 321,261.4 321.3,261.4 321.6,261.5 321.9,261.5 322.2,261.6 322.5,261.7 322.8,261.8 323.1,261.9 323.4,262 323.7,262.1 324,262.2 324.3,262.3 324.6,262.4 324.9,262.6 325.2,262.8 325.5,263 325.8,263.1 326.1,263.3 326.4,263.5 326.7,263.8 327,264 327.3,264.3 327.6,264.6 327.9,264.8 328.2,265.2 328.5,265.5 328.8,265.9 329.1,266.2 329.4,266.6 329.7,267 330,267.4 330.3,267.8 330.6,268.2 330.9,268.7 331.2,269.2 331.5,269.7 331.8,270.3 332.1,270.8 332.4,271.3 332.7,271.8 333,272.4 333.3,273 333.6,273.5 333.9,274.1 334.2,274.7 334.5,275.3 334.8,275.9 335.1,276.5 335.4,277 335.7,277.6 336,278.1 336.3,278.6 336.6,279.2 336.9,279.6 337.2,280.2 337.5,280.7 337.8,281.1 338.1,281.6 338.4,281.9 338.7,282.3 339,282.6 339.3,282.8 339.6,283.2 339.9,283.4 340.2,283.6 340.5,283.8 340.8,283.9 341.1,283.9 341.4,284 341.7,284.1 342,284 342.3,284 342.6,283.9 342.9,283.9 343.2,283.8 343.5,283.7 343.8,283.6 344.1,283.5 344.4,283.4 344.7,283.2 345,283.1 345.3,282.9 345.6,282.7 345.9,282.5 346.2,282.3 346.5,282.1 346.8,281.8 347.1,281.5 347.4,281.2 347.7,280.9 348,280.7 348.3,280.4 348.6,280.1 348.9,279.8 349.2,279.5 349.5,279.1 349.8,278.8 350.1,278.5 350.4,278.2 350.7,277.9 351,277.5 351.3,277.1 351.6,276.7 351.9,276.4 352.2,276.1 352.5,275.7 352.8,275.4 353.1,275 353.4,274.7 353.7,274.4 354,274 354.3,273.6 354.6,273.3 354.9,273 355.2,272.7 355.5,272.3 355.8,272 356.1,271.7 356.4,271.4 356.7,271.1 357,270.8 357.3,270.5 357.6,270.2 357.9,270 358.2,269.7 358.5,269.4 358.8,269.1 359.1,268.9 359.4,268.6 359.7,268.4 360,268.2 360.3,267.9 360.6,267.7 360.9,267.5 361.2,267.3 361.5,267.1 361.8,266.8 362.1,266.6 362.4,266.5 362.7,266.3 363,266.1 363.3,266 363.6,265.8 363.9,265.6 364.2,265.5 364.5,265.4 364.8,265.3 365.1,265.1 365.4,265 365.7,264.9 366,264.8 366.3,264.6 366.6,264.5 366.9,264.4 367.2,264.3 367.5,264.2 367.8,264.1 368.1,264 368.4,263.9 368.7,263.9 369,263.8 369.3,263.7 369.6,263.7 369.9,263.6 370.2,263.5 370.5,263.4 370.8,263.4 371.1,263.3 371.4,263.3 371.7,263.2 372,263.2 372.3,263.1 372.6,263 372.9,263 373.2,262.9 373.5,262.9 373.8,262.9 374.1,262.9 374.4,262.8 374.7,262.8 375,262.8 375.3,262.8 375.6,262.7 375.9,262.6 376.2,262.6 376.5,262.5 376.8,262.5 377.1,262.5 377.4,262.5 377.7,262.5 378,262.5 378.3,262.4 378.6,262.3 378.9,262.3 379.2,262.3 379.5,262.3 379.8,262.3 380.1,262.2 380.4,262.2 380.7,262.2 381,262.1 381.3,262.1 381.6,262.1 381.9,262.1 382.2,262.1 382.5,262.1 382.8,262.1 383.1,262.1 383.4,262 383.7,261.9 384,262 384.3,261.9 384.6,261.9 384.9,261.9 385.2,261.9 385.5,261.9 385.8,261.9 386.1,261.9 386.4,261.9 386.7,261.9 387,261.8 387.3,261.8 387.6,261.8 387.9,261.8 388.2,261.8 388.5,261.7 388.8,261.6 389.1,261.7 389.4,261.6 389.7,261.6 390,261.7 390.3,261.6 390.6,261.6 390.9,261.6 391.2,261.6 391.5,261.6 391.8,261.6 392.1,261.5 392.4,261.5 392.7,261.5 393,261.5 393.3,261.5 393.6,261.5 393.9,261.5 394.2,261.5 394.5,261.4 394.8,261.4 395.1,261.4 395.4,261.4 395.7,261.4 396,261.4 396.3,261.3 396.6,261.4 396.9,261.3 397.2,261.3 397.5,261.3 397.8,261.3 398.1,261.3 398.4,261.2 398.7,261.3 399,261.3 399.3,261.3 399.6,261.2 399.9,261.2 400.2,261.2 400.5,261.2 400.8,261.3 401.1,261.3 401.4,261.3 401.7,261.3 402,261.2 402.3,261.2 402.6,261.1 402.9,261.2 403.2,261.2 403.5,261.2 403.8,261.2 404.1,261.2 404.4,261.2 404.7,261.1 405,261.2 405.3,261.1 405.6,261.1 405.9,261.1 406.2,261.1 406.5,261 406.8,261 407.1,261.1 407.4,261.1 407.7,261.1 408,261.1 408.3,261 408.6,261.1 408.9,261.1 409.2,261.1 409.5,261.1 409.8,261.1 410.1,261.1 410.4,261 410.7,261 411,261 411.3,261 411.6,261.1 411.9,261 412.2,261 412.5,261 412.8,261 413.1,261 413.4,261 413.7,261 414,261 414.3,261 414.6,261 414.9,261 415.2,261 415.5,261 415.8,261 416.1,261 416.4,261 416.7,261 417,261 417.3,261 417.6,261.1 417.9,261 418.2,261 418.5,261 418.8,261 419.1,261 419.4,260.9 419.7,261 420,261 420.3,261 420.6,261 420.9,260.9 421.2,260.9 421.5,261 421.8,261 422.1,260.9 422.4,260.9 422.7,260.9 423,260.9 423.3,260.9 423.6,261 423.9,261 424.2,260.9 424.5,261 424.8,261 425.1,261 425.4,260.9 425.7,260.9 426,260.9 426.3,261 426.6,261 426.9,260.9 427.2,260.9 427.5,260.9 427.8,260.9 428.1,261 428.4,261 428.7,260.9 429,261 429.3,261 429.6,260.9 429.9,260.9 430.2,260.9 430.5,260.9 430.8,260.9 431.1,260.9 431.4,260.9 431.7,260.9 432,260.9 432.3,260.9 432.6,260.9 432.9,260.9 433.2,260.9 433.5,260.9 433.8,260.8 434.1,260.8 434.4,260.9 434.7,260.9 435,260.9 435.3,260.9 435.6,261 435.9,260.9 436.2,260.9 436.5,260.9 436.8,260.9 437.1,260.9 437.4,260.9 437.7,260.9 438,260.9 438.3,260.9 438.6,260.9 438.9,260.9 439.2,260.9 439.5,260.9 439.8,260.9 440.1,260.8 440.4,260.8 440.7,260.9 441,260.9 441.3,260.9 441.6,260.9 441.9,260.9 442.2,260.9 442.5,260.9 442.8,261 443.1,261 443.4,261 443.7,260.9 444,260.9 444.3,260.9 444.6,260.8 444.9,260.9 445.2,260.9 445.5,260.8 445.8,260.9 446.1,260.8 446.4,260.9 446.7,260.9 447,260.9 447.3,260.9 447.6,260.8 447.9,260.9 448.2,260.9 448.5,261 448.8,260.9 449.1,260.9 449.4,260.9 449.7,260.9 450,260.9 450.3,260.9 450.6,260.9 450.9,260.9 451.2,260.9 451.5,261 451.8,261 452.1,261 452.4,260.9 452.7,261 453,260.9 453.3,260.9 453.6,260.9 453.9,261 454.2,261 454.5,261 454.8,261 455.1,261.1 455.3,261 455.4,261 455.6,261 455.7,261 455.9,261 456,261 456.2,261.1 456.3,261.1 456.5,261.1 456.6,261.2 456.8,261.2 456.9,261.3 457.1,261.3 457.2,261.3 457.4,261.3 457.5,261.3 457.7,261.3 457.8,261.4 458,261.5 458.1,261.5 458.3,261.6 458.4,261.6 458.6,261.7 458.7,261.7 458.9,261.8 459,261.8 459.2,261.9 459.3,261.9 459.5,262 459.6,262.1 459.8,262.2 459.9,262.3 460.1,262.4 460.2,262.6 460.4,262.7 460.5,262.8 460.7,263 460.8,263.2 461,263.4 461.1,263.6 461.3,263.9 461.4,264.2 461.6,264.5 461.7,264.8 461.9,265.1 462,265.4 462.2,265.7 462.3,266.1 462.5,266.4 462.6,266.6 462.8,266.9 462.9,267.1 463.1,267.3 463.2,267.4 463.4,267.6 463.5,267.6 463.7,267.6 463.8,267.5 464,267.4 464.1,267.3 464.3,267.1 464.4,266.9 464.6,266.7 464.7,266.4 464.9,266.1 465,265.8 465.2,265.6 465.3,265.3 465.5,265.1 465.6,264.8 465.8,264.6 465.9,264.4 466.1,264.2 466.2,264 466.4,263.8 466.5,263.7 466.7,263.5 466.8,263.4 467,263.3 467.1,263.1 467.3,263.1 467.4,263 467.6,263 467.7,262.9 467.9,262.8 468,262.7 468.2,262.7 468.3,262.7 468.5,262.6 468.6,262.6 468.8,262.5 468.9,262.5 469.1,262.5 469.2,262.4 469.4,262.3 469.5,262.3 469.7,262.3 469.8,262.3 470,262.2 470.1,262.2 470.3,262.2 470.4,262.2 470.6,262.2 470.7,262.1 470.9,262.2 471,262.1 471.2,262.1 471.3,262.1 471.5,262.1 471.6,262 471.8,262 471.9,262 472.1,262 472.2,262 472.4,262 472.5,262 472.7,262 472.8,262 473,261.9 473.1,261.9 473.3,261.9 473.4,262 473.6,262 473.7,261.9 473.9,261.9 474,261.9 474.2,262 474.3,262 474.5,261.9 474.6,262 474.8,261.9 474.9,261.9 475.1,261.9 475.2,261.9 475.4,262 475.5,262 475.7,262 475.8,262 476,262.1 476.1,262.1 476.3,262.1 476.4,262.1 476.6,262.1 476.7,262.1 476.9,262.1 477,262.1 477.2,262.1 477.3,262.2 477.5,262.2 477.6,262.2 477.8,262.3 477.9,262.3 478.1,262.3 478.2,262.2 478.4,262.2 478.5,262.2 478.7,262.2 478.8,262.1 479,262.1 479.1,262.1 479.3,262.1 479.4,262 479.6,262.1 479.7,262 479.9,262 480,263 480.2,262.9 480.3,262.9 480.5,262.8 480.6,262.8 480.8,262.7 480.9,262.7 481.1,262.7 481.2,262.7 481.4,262.6 481.5,262.5 481.7,262.5 481.8,262.4 482,262.4 482.1,262.4 482.3,262.4 482.4,262.4 482.6,262.4 482.7,262.4 482.9,262.4 483,262.4 483.2,262.3 483.3,262.3 483.5,262.3 483.6,262.3 483.8,262.2 483.9,262.2 484.1,262.1 484.2,262.1 484.4,262.1 484.5,262.1 484.7,262.1 484.8,262.1 485,262.2 485.1,262.2 485.3,262.2 485.4,262.1 485.6,262.1 485.7,262.1 485.9,262.1 486,262.1 486.2,262.1 486.3,262.1 486.5,262.1 486.6,262 486.8,262 486.9,262 487.1,262 487.2,262 487.4,262 487.5,262 487.7,262 487.8,262 488,262.1 488.1,262.1 488.3,262.1 488.4,262.1 488.6,262.1 488.7,262.1 488.9,262.1 489,262.1 489.2,262.1 489.3,262.2 489.5,262.2 489.6,262.3 489.8,262.3 489.9,262.3 490.1,262.4 490.2,262.5 490.4,262.5 490.5,262.6 490.7,262.7 490.8,262.8 491,262.9 491.1,263 491.3,263.2 491.4,263.3 491.6,263.5 491.7,263.6 491.9,263.7 492,264 492.2,264.2 492.3,264.4 492.5,264.6 492.6,264.8 492.8,265.1 492.9,265.4 493,265.7 493.2,266 493.3,266.2 493.5,266.5 493.6,266.9 493.8,267.2 493.9,267.5 494.1,267.8 494.2,268.2 494.4,268.4 494.5,268.8 494.7,269.1 494.8,269.5 495,269.8 495.1,270 495.3,270.3 495.4,270.6 495.6,270.9 495.7,271.2 495.9,271.5 496,271.8 496.2,272.2 496.3,272.5 496.5,272.8 496.6,273.2 496.8,273.7 496.9,274.4 497.1,275.1 497.2,275.9 497.4,277 497.5,278.2 497.7,279.5 497.8,281 498,282.6 498.1,284.5 498.3,286.4 498.4,288.4 498.6,290.5 498.7,292.6 498.9,294.7 499,296.7 499.2,298.5 499.3,300.1 499.5,301.4 499.6,302.5 499.8,303.3 499.9,303.8 500.1,303.8 500.2,303.4 500.4,302.5 500.5,301.5 500.7,300.3 500.8,299.2 501,298.3 501.1,297.8 501.3,297.6 501.4,297.9 501.6,298.5 501.7,299.5 501.9,300.8 502,302.1 502.2,303.5 502.3,304.8 502.5,305.8 502.6,306.5 502.8,306.8 502.9,306.6 503.1,306.1 503.2,305.4 503.4,304.3 503.5,303 503.7,301.5 503.8,299.8 504,298 504.1,295.9 504.3,293.8 504.4,291.7 504.6,289.6 504.7,287.6 504.9,285.6 505,282.7 505.2,280.9 505.3,279.4 505.5,278 505.6,276.7 505.8,275.5 505.9,274.5 506.1,273.6 506.2,272.8 506.4,272.1 506.5,271.4 506.7,270.8 506.8,270.2 507,269.6 507.1,268.9 507.3,268.4 507.4,267.8 507.6,267.4 507.7,266.9 507.9,266.3 508,265.9 508.2,265.4 508.3,264.9 508.5,264.5 508.6,264.1 508.8,263.6 508.9,263.3 509.1,262.9 509.2,262.6 509.4,262.3 509.5,262.1 509.7,261.8 509.8,261.6 510,261.4 510.1,261.3 510.3,261.1 510.4,260.9 510.6,260.8 510.7,260.7 510.9,260.6 511,260.5 511.2,260.5 511.3,260.4 511.5,260.3 511.6,260.3 511.8,260.3 511.9,260.3 512.1,260.3 512.2,260.2 512.4,260.2 512.5,260.2 512.7,260.1 512.8,260.1 513,260 513.1,260 513.3,260 513.4,259.9 513.6,259.9 513.7,259.9 513.9,259.8 514,259.8 514.2,259.7 514.3,259.7 514.5,259.7 514.6,259.7 514.8,259.7 514.9,259.7 515.1,259.6 515.2,259.7 515.4,259.6 515.5,259.6 515.7,259.5 515.8,259.5 516,259.5 516.1,259.4 516.3,259.4 516.4,259.4 516.6,259.4 516.7,259.4 516.9,259.4 517,259.3 517.2,259.4 517.3,259.4 517.5,259.4 517.6,259.3 517.8,259.3 517.9,259.3 518.1,259.3 518.2,259.3 518.4,259.3 518.5,259.3 518.7,259.2 518.8,259.3 519,259.3 519.1,259.3 519.3,259.3 519.4,259.3 519.6,259.3 519.7,259.4 519.9,259.3 520,259.4 520.2,259.4 520.3,259.5 520.5,259.4 520.6,259.5 520.8,259.5 520.9,259.5 521.1,259.5 521.2,259.5 521.4,259.5 521.5,259.6 521.7,259.6 521.8,259.7 522,259.6 522.1,259.7 522.3,259.7 522.4,259.7 522.6,259.7 522.7,259.8 522.9,259.9 523,259.8 523.2,259.8 523.3,259.9 523.5,259.9 523.6,260 523.8,260 523.9,260.1 524.1,260.1 524.2,260.1 524.4,260.2 524.5,260.2 524.7,260.2 524.8,260.2 525,260.3 525.1,260.3 525.3,260.3 525.4,260.3 525.6,260.3 525.7,260.4 525.9,260.5 526,260.5 526.2,260.5 526.3,260.6 526.5,260.6 526.6,260.7 526.8,260.7 526.9,260.8 527.1,260.9 527.2,261 527.4,261.1 527.5,261.2 527.7,261.3 527.8,261.5 528,261.5 528.1,261.6 528.3,261.9 528.4,262.1 528.6,262.3 528.7,262.7 528.9,263 529,263.4 529.2,264 529.3,264.7 529.5,265.5 529.6,266.3 529.8,267.3 529.9,268.3 530.1,269.2 530.2,270.2 530.4,271 530.5,271.8 530.7,272.5 530.8,272.9 531,273.4 531.1,274 531.3,274.7 531.4,275.6 531.6,276.7 531.7,278.2 531.9,279.8 532,281.6 532.2,283.2 532.3,284.5 532.5,285.3 532.6,285.6 532.8,285.2 532.9,284.4 533.1,283.3 533.2,282.1 533.4,281.1 533.5,280.4 533.7,280.2 533.8,280.5 534,281.3 534.1,282.5 534.3,283.7 534.4,285 534.6,286 534.7,286.5 534.9,286.5 535,285.8 535.2,284.5 535.3,282.8 535.5,280.5 535.6,278.1 535.8,275.7 535.9,273.3 536.1,271.1 536.2,269.3 536.4,267.7 536.5,266.5 536.7,265.5 536.8,264.7 537,264.1 537.1,263.6 537.3,263.2 537.4,262.9 537.6,262.6 537.7,262.4 537.9,262.2 538,262.1 538.2,261.9 538.3,261.8 538.5,261.7 538.6,261.6 538.8,261.5 538.9,261.4 539.1,261.4 539.2,261.3 539.4,261.2 539.5,261.1 539.7,261.1" fill="none" stroke="#ff7de9" stroke-width="1.2" stroke-linejoin="round"/>
<path d="M304.5,315.2 304.8,315.3 305.1,315.4 305.4,315.4 305.7,315.5 306,315.5 306.3,315.5 306.6,315.6 306.9,315.6 307.2,315.7 307.5,315.7 307.8,315.8 308.1,315.8 308.4,315.9 308.7,316 309,316 309.3,316.1 309.6,316.1 309.9,316.2 310.2,316.2 310.5,316.3 310.8,316.3 311.1,316.4 311.4,316.5 311.7,316.6 312,316.6 312.3,316.7 312.6,316.8 312.9,316.8 313.2,316.8 313.5,316.9 313.8,316.9 314.1,317 314.4,317.1 314.7,317.1 315,317.1 315.3,317.1 315.6,317.1 315.9,317.1 316.2,317.1 316.5,317.1 316.8,317.1 317.1,317.1 317.4,317.1 317.7,317 318,317 318.3,317 318.6,317 318.9,316.9 319.2,316.9 319.5,316.9 319.8,317 320.1,317 320.4,317 320.7,317 321,317 321.3,317.1 321.6,317.1 321.9,317.1 322.2,317.2 322.5,317.2 322.8,317.4 323.1,317.5 323.4,317.6 323.7,317.7 324,317.8 324.3,318 324.6,318.1 324.9,318.2 325.2,318.4 325.5,318.6 325.8,318.8 326.1,319 326.4,319.2 326.7,319.5 327,319.7 327.3,320 327.6,320.3 327.9,320.6 328.2,321 328.5,321.2 328.8,321.6 329.1,322 329.4,322.4 329.7,322.8 330,323.3 330.3,323.7 330.6,324.1 330.9,324.6 331.2,325.1 331.5,325.6 331.8,326.1 332.1,326.7 332.4,327.3 332.7,327.8 333,328.4 333.3,329 333.6,329.6 333.9,330.2 334.2,330.9 334.5,331.5 334.8,332 335.1,332.6 335.4,333.3 335.7,333.8 336,334.4 336.3,334.9 336.6,335.5 336.9,336 337.2,336.5 337.5,337 337.8,337.5 338.1,337.9 338.4,338.3 338.7,338.8 339,339 339.3,339.3 339.6,339.6 339.9,339.9 340.2,340 340.5,340.2 340.8,340.3 341.1,340.5 341.4,340.5 341.7,340.5 342,340.5 342.3,340.5 342.6,340.5 342.9,340.4 343.2,340.3 343.5,340.2 343.8,340.1 344.1,340 344.4,339.8 344.7,339.6 345,339.5 345.3,339.3 345.6,339.2 345.9,338.9 346.2,338.7 346.5,338.4 346.8,338.1 347.1,337.9 347.4,337.6 347.7,337.3 348,337 348.3,336.7 348.6,336.5 348.9,336.1 349.2,335.7 349.5,335.4 349.8,335 350.1,334.7 350.4,334.4 350.7,334 351,333.7 351.3,333.4 351.6,333 351.9,332.7 352.2,332.3 352.5,331.9 352.8,331.6 353.1,331.3 353.4,330.9 353.7,330.5 354,330.2 354.3,329.8 354.6,329.4 354.9,329.1 355.2,328.8 355.5,328.4 355.8,328.1 356.1,327.8 356.4,327.5 356.7,327.1 357,326.8 357.3,326.5 357.6,326.1 357.9,325.9 358.2,325.6 358.5,325.3 358.8,325 359.1,324.8 359.4,324.5 359.7,324.3 360,324 360.3,323.8 360.6,323.5 360.9,323.3 361.2,323.1 361.5,322.9 361.8,322.7 362.1,322.5 362.4,322.3 362.7,322.1 363,321.9 363.3,321.7 363.6,321.6 363.9,321.4 364.2,321.3 364.5,321.1 364.8,321 365.1,320.9 365.4,320.7 365.7,320.5 366,320.4 366.3,320.3 366.6,320.3 366.9,320.1 367.2,320 367.5,319.9 367.8,319.8 368.1,319.7 368.4,319.7 368.7,319.5 369,319.5 369.3,319.4 369.6,319.3 369.9,319.3 370.2,319.2 370.5,319.1 370.8,319.1 371.1,319 371.4,319 371.7,318.9 372,318.8 372.3,318.8 372.6,318.7 372.9,318.7 373.2,318.6 373.5,318.5 373.8,318.5 374.1,318.5 374.4,318.4 374.7,318.4 375,318.4 375.3,318.4 375.6,318.3 375.9,318.3 376.2,318.3 376.5,318.2 376.8,318.2 377.1,318.1 377.4,318.1 377.7,318.1 378,318.1 378.3,318 378.6,318 378.9,318 379.2,318 379.5,317.9 379.8,317.9 380.1,317.8 380.4,317.9 380.7,317.8 381,317.8 381.3,317.8 381.6,317.7 381.9,317.7 382.2,317.7 382.5,317.8 382.8,317.8 383.1,317.8 383.4,317.7 383.7,317.7 384,317.6 384.3,317.6 384.6,317.6 384.9,317.6 385.2,317.6 385.5,317.6 385.8,317.5 386.1,317.5 386.4,317.4 386.7,317.5 387,317.4 387.3,317.4 387.6,317.4 387.9,317.4 388.2,317.4 388.5,317.4 388.8,317.3 389.1,317.3 389.4,317.3 389.7,317.3 390,317.2 390.3,317.3 390.6,317.2 390.9,317.3 391.2,317.2 391.5,317.2 391.8,317.1 392.1,317.2 392.4,317.2 392.7,317.1 393,317.2 393.3,317.2 393.6,317.1 393.9,317.1 394.2,317.1 394.5,317 394.8,317 395.1,317 395.4,317 395.7,317 396,317 396.3,317 396.6,316.9 396.9,316.9 397.2,316.9 397.5,317 397.8,316.9 398.1,317 398.4,317 398.7,316.9 399,316.9 399.3,316.9 399.6,316.9 399.9,316.9 400.2,316.9 400.5,316.9 400.8,316.9 401.1,316.8 401.4,316.8 401.7,316.9 402,316.9 402.3,316.8 402.6,316.8 402.9,316.8 403.2,316.8 403.5,316.8 403.8,316.7 404.1,316.8 404.4,316.8 404.7,316.8 405,316.8 405.3,316.8 405.6,316.8 405.9,316.8 406.2,316.8 406.5,316.7 406.8,316.8 407.1,316.8 407.4,316.7 407.7,316.7 408,316.7 408.3,316.7 408.6,316.7 408.9,316.6 409.2,316.6 409.5,316.6 409.8,316.7 410.1,316.6 410.4,316.7 410.7,316.7 411,316.7 411.3,316.7 411.6,316.6 411.9,316.6 412.2,316.6 412.5,316.6 412.8,316.6 413.1,316.6 413.4,316.6 413.7,316.5 414,316.6 414.3,316.6 414.6,316.6 414.9,316.6 415.2,316.6 415.5,316.6 415.8,316.6 416.1,316.6 416.4,316.6 416.7,316.6 417,316.6 417.3,316.6 417.6,316.6 417.9,316.5 418.2,316.5 418.5,316.5 418.8,316.6 419.1,316.5 419.4,316.5 419.7,316.6 420,316.6 420.3,316.6 420.6,316.6 420.9,316.6 421.2,316.6 421.5,316.5 421.8,316.6 422.1,316.5 422.4,316.5 422.7,316.6 423,316.5 423.3,316.5 423.6,316.6 423.9,316.5 424.2,316.5 424.5,316.6 424.8,316.5 425.1,316.5 425.4,316.5 425.7,316.6 426,316.6 426.3,316.6 426.6,316.5 426.9,316.6 427.2,316.5 427.5,316.5 427.8,316.5 428.1,316.5 428.4,316.6 428.7,316.5 429,316.5 429.3,316.5 429.6,316.5 429.9,316.5 430.2,316.5 430.5,316.5 430.8,316.5 431.1,316.5 431.4,316.5 431.7,316.5 432,316.6 432.3,316.5 432.6,316.5 432.9,316.6 433.2,316.5 433.5,316.5 433.8,316.5 434.1,316.5 434.4,316.5 434.7,316.6 435,316.5 435.3,316.5 435.6,316.5 435.9,316.5 436.2,316.5 436.5,316.5 436.8,316.5 437.1,316.5 437.4,316.5 437.7,316.5 438,316.5 438.3,316.5 438.6,316.5 438.9,316.5 439.2,316.6 439.5,316.6 439.8,316.5 440.1,316.5 440.4,316.5 440.7,316.5 441,316.5 441.3,316.5 441.6,316.5 441.9,316.5 442.2,316.5 442.5,316.5 442.8,316.5 443.1,316.5 443.4,316.5 443.7,316.5 444,316.5 444.3,316.5 444.6,316.4 444.9,316.5 445.2,316.5 445.5,316.5 445.8,316.5 446.1,316.4 446.4,316.5 446.7,316.5 447,316.5 447.3,316.5 447.6,316.5 447.9,316.5 448.2,316.5 448.5,316.5 448.8,316.5 449.1,316.4 449.4,316.5 449.7,316.5 450,316.5 450.3,316.5 450.6,316.5 450.9,316.6 451.2,316.5 451.5,316.5 451.8,316.5 452.1,316.5 452.4,316.5 452.7,316.5 453,316.5 453.3,316.5 453.6,316.6 453.9,316.5 454.2,316.6 454.5,316.6 454.8,316.6 455.1,316.6 455.3,316.7 455.4,316.7 455.6,316.7 455.7,316.7 455.9,316.7 456,316.7 456.2,316.7 456.3,316.7 456.5,316.7 456.6,316.8 456.8,316.8 456.9,316.8 457.1,316.8 457.2,316.9 457.4,316.9 457.5,316.9 457.7,316.9 457.8,317 458,317.1 458.1,317.1 458.3,317.2 458.4,317.2 458.6,317.3 458.7,317.3 458.9,317.3 459,317.4 459.2,317.5 459.3,317.5 459.5,317.7 459.6,317.7 459.8,317.9 459.9,318 460.1,318.1 460.2,318.3 460.4,318.5 460.5,318.7 460.7,318.9 460.8,319.1 461,319.3 461.1,319.6 461.3,319.9 461.4,320.2 461.6,320.6 461.7,320.9 461.9,321.2 462,321.6 462.2,321.9 462.3,322.4 462.5,322.7 462.6,323 462.8,323.3 462.9,323.5 463.1,323.7 463.2,323.9 463.4,324 463.5,324.1 463.7,324.1 463.8,324.1 464,324 464.1,323.8 464.3,323.6 464.4,323.3 464.6,323 464.7,322.7 464.9,322.4 465,322.1 465.2,321.7 465.3,321.4 465.5,321.1 465.6,320.8 465.8,320.5 465.9,320.2 466.1,320 466.2,319.8 466.4,319.6 466.5,319.4 466.7,319.3 466.8,319.2 467,319 467.1,318.8 467.3,318.7 467.4,318.7 467.6,318.6 467.7,318.5 467.9,318.4 468,318.4 468.2,318.3 468.3,318.2 468.5,318.2 468.6,318.1 468.8,318.1 468.9,318 469.1,318 469.2,317.9 469.4,317.8 469.5,317.8 469.7,317.8 469.8,317.8 470,317.7 470.1,317.7 470.3,317.7 470.4,317.7 470.6,317.7 470.7,317.7 470.9,317.6 471,317.5 471.2,317.5 471.3,317.5 471.5,317.5 471.6,317.5 471.8,317.4 471.9,317.5 472.1,317.4 472.2,317.4 472.4,317.3 472.5,317.4 472.7,317.4 472.8,317.4 473,317.3 473.1,317.3 473.3,317.3 473.4,317.3 473.6,317.4 473.7,317.3 473.9,317.3 474,317.3 474.2,317.3 474.3,317.3 474.5,317.3 474.6,317.4 474.8,317.3 474.9,317.4 475.1,317.4 475.2,317.4 475.4,317.4 475.5,317.4 475.7,317.5 475.8,317.4 476,317.4 476.1,317.5 476.3,317.4 476.4,317.5 476.6,317.5 476.7,317.5 476.9,317.5 477,317.5 477.2,317.5 477.3,317.6 477.5,317.5 477.6,317.6 477.8,317.6 477.9,317.6 478.1,317.6 478.2,317.6 478.4,317.6 478.5,317.6 478.7,317.6 478.8,317.5 479,317.5 479.1,317.5 479.3,317.5 479.4,317.4 479.6,317.4 479.7,317.4 479.9,317.3 480,317.3 480.2,317.3 480.3,317.2 480.5,317.2 480.6,317.2 480.8,317.2 480.9,317.1 481.1,317.1 481.2,317.1 481.4,317.1 481.5,317.1 481.7,317 481.8,317 482,316.9 482.1,316.9 482.3,316.9 482.4,316.9 482.6,316.8 482.7,316.9 482.9,316.8 483,316.8 483.2,316.8 483.3,316.8 483.5,316.8 483.6,316.7 483.8,316.7 483.9,316.7 484.1,316.7 484.2,316.7 484.4,316.7 484.5,316.7 484.7,316.7 484.8,316.7 485,316.7 485.1,316.7 485.3,316.7 485.4,316.6 485.6,316.6 485.7,316.6 485.9,316.6 486,316.6 486.2,316.6 486.3,316.6 486.5,316.6 486.6,316.6 486.8,316.6 486.9,316.6 487.1,316.6 487.2,316.6 487.4,316.5 487.5,316.6 487.7,316.6 487.8,316.6 488,316.6 488.1,316.5 488.3,316.6 488.4,316.6 488.6,316.6 488.7,316.5 488.9,316.6 489,316.6 489.2,316.6 489.3,316.6 489.5,316.6 489.6,316.6 489.8,316.6 489.9,316.6 490.1,316.6 490.2,316.6 490.4,316.6 490.5,316.6 490.7,316.5 490.8,316.5 491,316.5 491.1,316.5 491.3,316.4 491.4,316.5 491.6,316.5 491.7,316.5 491.9,316.5 492,316.5 492.2,316.5 492.3,316.5 492.5,316.5 492.6,316.5 492.8,316.6 492.9,316.5 493,316.5 493.2,316.5 493.3,316.5 493.5,316.5 493.6,316.5 493.8,316.5 493.9,316.6 494.1,316.6 494.2,316.6 494.4,316.6 494.5,316.7 494.7,316.6 494.8,316.7 495,316.8 495.1,316.8 495.3,316.9 495.4,316.9 495.6,317 495.7,317.1 495.9,317.2 496,317.4 496.2,317.6 496.3,317.7 496.5,317.9 496.6,318.2 496.8,318.6 496.9,319 497.1,319.5 497.2,320.2 497.4,320.8 497.5,321.7 497.7,322.8 497.8,324.1 498,325.7 498.1,327.4 498.3,329.4 498.4,331.6 498.6,334 498.7,336.5 498.9,338.9 499,341.4 499.2,343.7 499.3,345.7 499.5,347.3 499.6,348.5 499.8,349.3 499.9,349.5 500.1,349.5 500.2,349.2 500.4,348.7 500.5,348 500.7,347.3 500.8,346.5 501,345.8 501.1,345.4 501.3,345.1 501.4,345 501.6,345.3 501.7,345.9 501.9,346.7 502,347.8 502.2,349.2 502.3,350.5 502.5,352.1 502.6,353.6 502.8,354.9 502.9,356 503.1,356.8 503.2,357.3 503.4,357.3 503.5,357 503.7,356.1 503.8,354.6 504,352.6 504.1,350.1 504.3,347.3 504.4,344.3 504.6,341.2 504.7,338.2 504.9,335.1 505,332.2 505.2,329.5 505.3,327.2 505.5,325 505.6,323.3 505.8,321.7 505.9,320.5 506.1,319.5 506.2,318.7 506.4,318.1 506.5,317.6 506.7,317.2 506.8,316.9 507,316.7 507.1,316.6 507.3,316.5 507.4,316.3 507.6,316.2 507.7,316.2 507.9,316.2 508,316.1 508.2,316 508.3,316 508.5,316 508.6,316 508.8,315.9 508.9,315.8 509.1,315.8 509.2,315.7 509.4,315.6 509.5,315.6 509.7,315.6 509.8,315.5 510,315.5 510.1,315.5 510.3,315.4 510.4,315.3 510.6,315.3 510.7,315.3 510.9,315.2 511,315.2 511.2,315.2 511.3,315.2 511.5,315.1 511.6,315 511.8,315.1 511.9,315.1 512.1,315.1 512.2,315.2 512.4,315.1 512.5,315.2 512.7,315.2 512.8,315.2 513,315.2 513.1,315.3 513.3,315.3 513.4,315.3 513.6,315.3 513.7,315.3 513.9,315.4 514,315.5 514.2,315.5 514.3,315.6 514.5,315.6 514.6,315.6 514.8,315.7 514.9,315.8 515.1,315.9 515.2,315.9 515.4,316 515.5,316 515.7,316.1 515.8,316.1 516,316.2 516.1,316.2 516.3,316.2 516.4,316.2 516.6,316.2 516.7,316.3 516.9,316.3 517,316.3 517.2,316.3 517.3,316.4 517.5,316.4 517.6,316.4 517.8,316.5 517.9,316.4 518.1,316.4 518.2,316.4 518.4,316.4 518.5,316.5 518.7,316.4 518.8,316.4 519,316.4 519.1,316.4 519.3,316.5 519.4,316.4 519.6,316.5 519.7,316.5 519.9,316.5 520,316.4 520.2,316.4 520.3,316.5 520.5,316.4 520.6,316.5 520.8,316.5 520.9,316.5 521.1,316.5 521.2,316.5 521.4,316.5 521.5,316.5 521.7,316.5 521.8,316.5 522,316.5 522.1,316.5 522.3,316.5 522.4,316.5 522.6,316.4 522.7,316.5 522.9,316.5 523,316.5 523.2,316.5 523.3,316.5 523.5,316.5 523.6,316.4 523.8,316.5 523.9,316.4 524.1,316.5 524.2,316.5 524.4,316.5 524.5,316.5 524.7,316.5 524.8,316.5 525,316.5 525.1,316.5 525.3,316.5 525.4,316.6 525.6,316.5 525.7,316.6 525.9,316.6 526,316.6 526.2,316.5 526.3,316.6 526.5,316.6 526.6,316.6 526.8,316.6 526.9,316.7 527.1,316.7 527.2,316.8 527.4,316.8 527.5,316.9 527.7,316.9 527.8,317 528,317.1 528.1,317.1 528.3,317.2 528.4,317.3 528.6,317.5 528.7,317.7 528.9,318 529,318.3 529.2,318.7 529.3,319.2 529.5,319.8 529.6,320.4 529.8,321.2 529.9,322 530.1,322.8 530.2,323.5 530.4,324.2 530.5,324.9 530.7,325.4 530.8,325.9 531,326.4 531.1,326.9 531.3,327.4 531.4,328 531.6,328.7 531.7,329.3 531.9,329.9 532,330.4 532.2,330.7 532.3,330.7 532.5,330.4 532.6,329.9 532.8,329.3 532.9,328.5 533.1,327.9 533.2,327.5 533.4,327.4 533.5,327.6 533.7,328.2 533.8,329.2 534,330.4 534.1,331.7 534.3,333.1 534.4,334.3 534.6,335.2 534.7,335.7 534.9,335.8 535,335.4 535.2,334.4 535.3,333.1 535.5,331.4 535.6,329.6 535.8,327.7 535.9,325.9 536.1,324.3 536.2,322.8 536.4,321.6 536.5,320.7 536.7,319.9 536.8,319.3 537,318.8 537.1,318.4 537.3,318.1 537.4,317.9 537.6,317.7 537.7,317.6 537.9,317.4 538,317.4 538.2,317.3 538.3,317.2 538.5,317 538.6,317 538.8,316.9 538.9,316.9 539.1,316.8 539.2,316.8 539.4,316.8 539.5,316.7 539.7,316.7" fill="none" stroke="#35cbd3" stroke-width="1.2" stroke-linejoin="round"/>
</g>
<rect x="304.5" y="5" width="235.2" height="397.6" fill="none" stroke="#000" stroke-width="1.4"/>
<path d="M539.7,402.6v2.2M522.9,402.6v1.4M506.1,402.6v2.2M489.3,402.6v1.4M472.5,402.6v2.2M455.7,402.6v1.4M438.9,402.6v2.2M422.1,402.6v1.4M405.3,402.6v2.2M388.5,402.6v1.4M371.7,402.6v2.2M354.9,402.6v1.4M338.1,402.6v2.2M321.3,402.6v1.4M304.5,402.6v2.2" stroke="#000" stroke-width="1.1" fill="none"/>
<text x="539.3" y="414.3" font-size="9.7" font-weight="bold" fill="#000" text-anchor="middle" textLength="15.4" lengthAdjust="spacingAndGlyphs">500</text>
<text x="505.7" y="414.3" font-size="9.7" font-weight="bold" fill="#000" text-anchor="middle" textLength="20.5" lengthAdjust="spacingAndGlyphs">1000</text>
<text x="472.1" y="414.3" font-size="9.7" font-weight="bold" fill="#000" text-anchor="middle" textLength="20.5" lengthAdjust="spacingAndGlyphs">1500</text>
<text x="438.5" y="414.3" font-size="9.7" font-weight="bold" fill="#000" text-anchor="middle" textLength="20.5" lengthAdjust="spacingAndGlyphs">2000</text>
<text x="404.9" y="414.3" font-size="9.7" font-weight="bold" fill="#000" text-anchor="middle" textLength="20.5" lengthAdjust="spacingAndGlyphs">2500</text>
<text x="371.3" y="414.3" font-size="9.7" font-weight="bold" fill="#000" text-anchor="middle" textLength="20.5" lengthAdjust="spacingAndGlyphs">3000</text>
<text x="337.7" y="414.3" font-size="9.7" font-weight="bold" fill="#000" text-anchor="middle" textLength="20.5" lengthAdjust="spacingAndGlyphs">3500</text>
<text x="304.1" y="414.3" font-size="9.7" font-weight="bold" fill="#000" text-anchor="middle" textLength="20.5" lengthAdjust="spacingAndGlyphs">4000</text>
<text x="377.4" y="430.2" font-size="9.5" font-weight="bold"><tspan textLength="77.6" lengthAdjust="spacingAndGlyphs">Wavenumber (cm</tspan><tspan dy="-2.9" dx="0.3" font-size="10" textLength="7.6" lengthAdjust="spacingAndGlyphs">-1</tspan><tspan dy="2.9" dx="0.5">)</tspan></text>
<text transform="translate(294.6,210) rotate(-90)" font-size="9.3" font-weight="bold" text-anchor="middle" textLength="77" lengthAdjust="spacingAndGlyphs">Transmittance (%)</text>
<text x="278.6" y="23.3" font-size="16.8" font-weight="bold" fill="#000" textLength="21.6" lengthAdjust="spacingAndGlyphs">(b)</text>
<path d="M334.1,17.4H352.3" stroke="#1fe81f" stroke-width="1.25" stroke-dasharray="3 2.2" fill="none"/>
<text x="355.8" y="21.8" font-size="9.7" font-weight="bold" style="stroke:#1fe81f" fill="#1fe81f">CO<tspan dy="1.9" font-size="8">3</tspan><tspan dy="-4.1" dx="0.4" font-size="9.4">2-</tspan></text>
<path d="M393.5,17.4H411.5" stroke="#3b9fdb" stroke-width="1.25" stroke-dasharray="3 2.2" fill="none"/>
<text x="412.5" y="21.8" font-size="9.7" font-weight="bold" style="stroke:#3b9fdb" fill="#3b9fdb">PO<tspan dy="1.9" font-size="8">4</tspan><tspan dy="-4.1" dx="0.4" font-size="9.4">3-</tspan></text>
<path d="M445.1,17.5H464.2" stroke="#ff8b1f" stroke-width="1.25" stroke-dasharray="3.2 2.1" fill="none"/>
<path d="M465.3,17.5H474.6" stroke="#ff8b1f" stroke-width="1.25" fill="none"/>
<text x="474.5" y="21.5" font-size="9.7" font-weight="bold" fill="#ff8b1f" textLength="13" lengthAdjust="spacingAndGlyphs" style="stroke:#ff8b1f">OH</text>
<path d="M494.5,17.5H510.8" stroke="#111" stroke-width="1.25" stroke-dasharray="3.4 2.9" fill="none"/>
<text x="513.7" y="21.5" font-size="9.7" font-weight="bold">H<tspan dy="2.2" font-size="8">2</tspan><tspan dy="-2.2">O</tspan></text>
<text x="308" y="44.1" font-size="9.6" font-weight="bold" fill="#000" textLength="68.3" lengthAdjust="spacingAndGlyphs">Commercial HA</text>
<text x="308.8" y="97.4" font-size="9.6" font-weight="bold" fill="#000" textLength="32.9" lengthAdjust="spacingAndGlyphs">C-βTCP</text>
<text x="308.9" y="152.4" font-size="9.6" font-weight="bold" fill="#000" textLength="37.4" lengthAdjust="spacingAndGlyphs">C-BCP-2</text>
<text x="310.7" y="204.1" font-size="9.6" font-weight="bold" fill="#000" textLength="35.9" lengthAdjust="spacingAndGlyphs">C-BCP-1</text>
<text x="310.7" y="258.1" font-size="9.6" font-weight="bold" fill="#000" textLength="28.3" lengthAdjust="spacingAndGlyphs">C-BCP</text>
<text x="311.5" y="311.4" font-size="9.6" font-weight="bold" fill="#000" textLength="21.5" lengthAdjust="spacingAndGlyphs">C-HA</text>
<defs><marker id="ah" viewBox="0 0 6 6" refX="5" refY="3" markerWidth="4.2" markerHeight="4.2" orient="auto"><path d="M0,0.4L6,3L0,5.6z" fill="#222"/></marker></defs>
<path d="M331.8,336.9L322.6,352.8" stroke="#222" stroke-width="0.7" fill="none" marker-end="url(#ah)"/>
<text x="313.7" y="363.6" font-size="9.3" font-weight="bold" fill="#000" textLength="21" lengthAdjust="spacingAndGlyphs">3570</text>
<path d="M463.4,325.5L463.4,344.5" stroke="#222" stroke-width="0.7" fill="none" marker-end="url(#ah)"/>
<text x="453.5" y="355.3" font-size="9.3" font-weight="bold" fill="#000" textLength="20.4" lengthAdjust="spacingAndGlyphs">1634</text>
<path d="M468.6,321.5L468.9,338" stroke="#222" stroke-width="0.7" fill="none" marker-end="url(#ah)"/>
<text x="470.7" y="347.1" font-size="9.3" font-weight="bold" fill="#000" textLength="19.8" lengthAdjust="spacingAndGlyphs">1547</text>
<path d="M497.8,351L494.2,359.6" stroke="#222" stroke-width="0.7" fill="none" marker-end="url(#ah)"/>
<text x="480.2" y="369.3" font-size="9.3" font-weight="bold" fill="#000" textLength="20.4" lengthAdjust="spacingAndGlyphs">1092</text>
<path d="M503.4,358.5L503.4,380" stroke="#222" stroke-width="0.7" fill="none" marker-end="url(#ah)"/>
<text x="494.9" y="388" font-size="9.3" font-weight="bold" fill="#000" textLength="20.2" lengthAdjust="spacingAndGlyphs">1044</text>
<path d="M508.7,319.2L515.4,325.2" stroke="#222" stroke-width="0.7" fill="none" marker-end="url(#ah)"/>
<text x="514.7" y="330" font-size="9.3" font-weight="bold" fill="#000" textLength="14.8" lengthAdjust="spacingAndGlyphs">964</text>
<path d="M529.6,325.6L524.2,337.5" stroke="#222" stroke-width="0.7" fill="none" marker-end="url(#ah)"/>
<text x="514.7" y="346" font-size="9.3" font-weight="bold" fill="#000" textLength="14.8" lengthAdjust="spacingAndGlyphs">632</text>
<path d="M531.6,338L527.2,351.6" stroke="#222" stroke-width="0.7" fill="none" marker-end="url(#ah)"/>
<text x="516.6" y="360.6" font-size="9.3" font-weight="bold" fill="#000" textLength="14.6" lengthAdjust="spacingAndGlyphs">605</text>
<path d="M534.7,343L534.7,370.5" stroke="#222" stroke-width="0.7" fill="none" marker-end="url(#ah)"/>
<text x="524.2" y="377.9" font-size="9.3" font-weight="bold" fill="#000" textLength="14.6" lengthAdjust="spacingAndGlyphs">557</text>
</g>
</svg></body></html>
